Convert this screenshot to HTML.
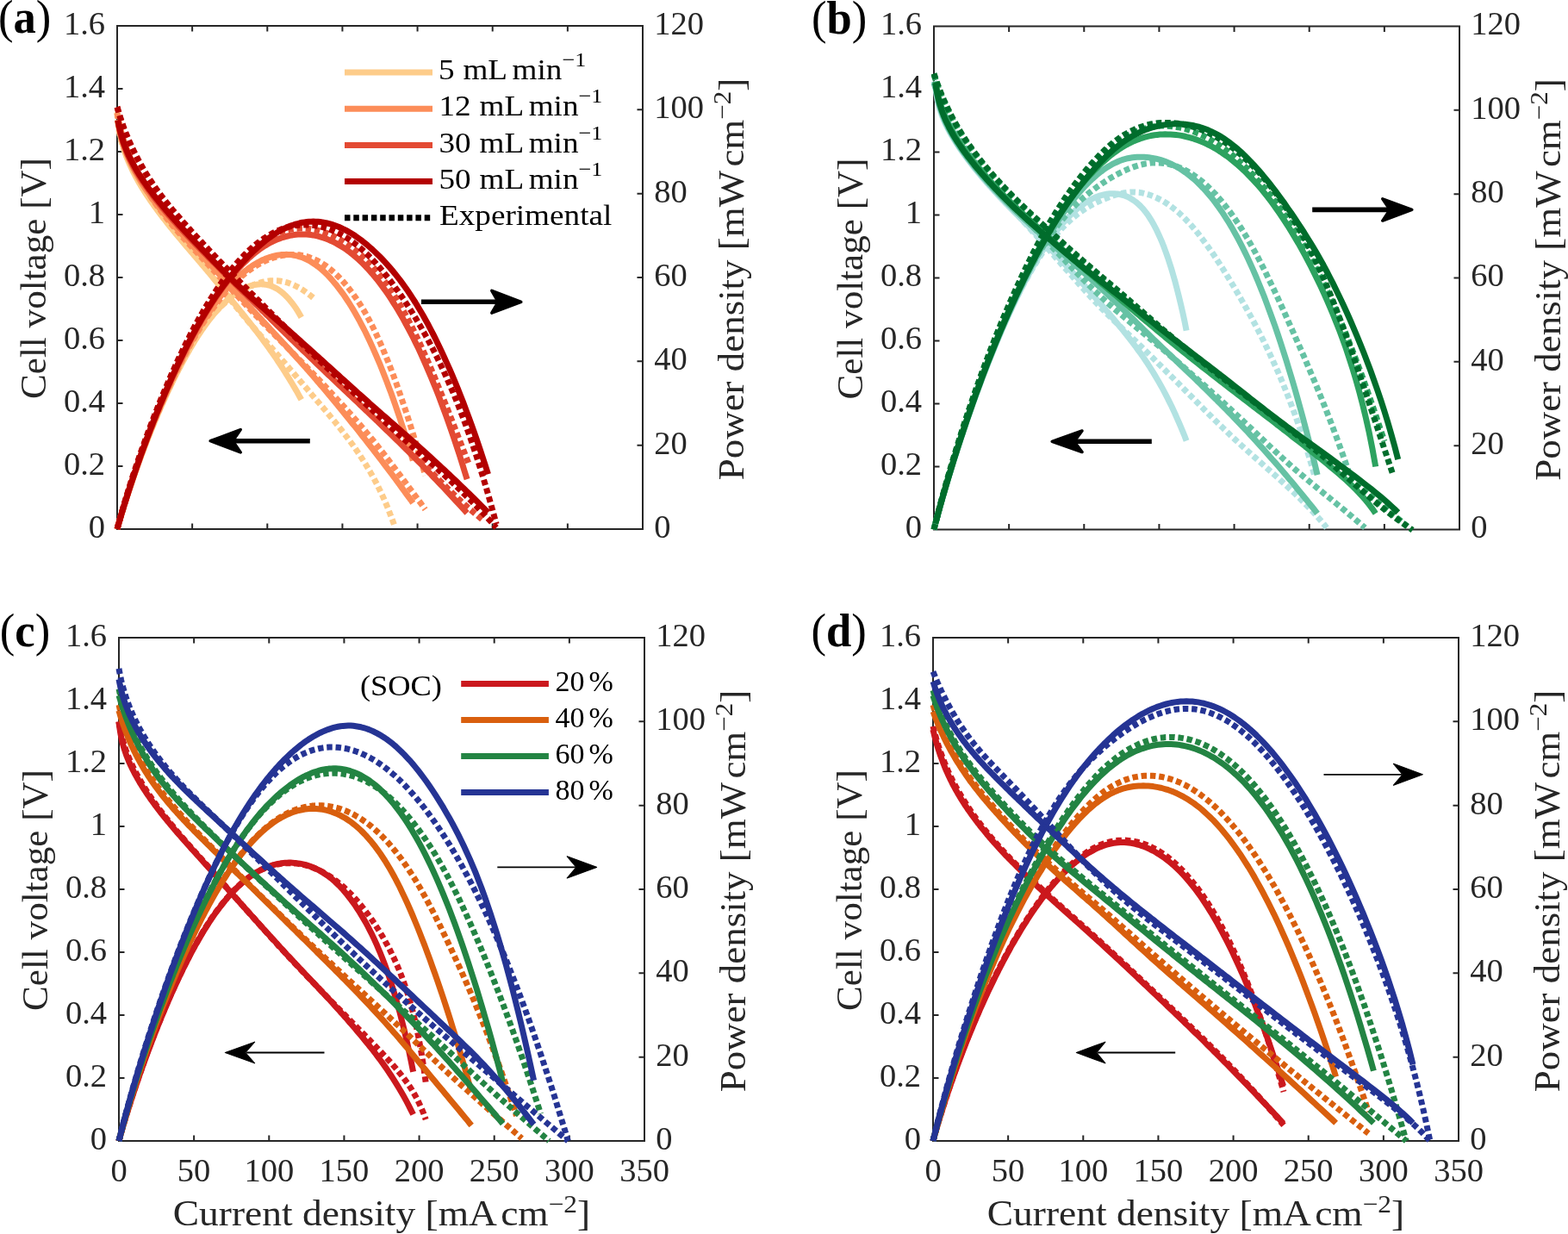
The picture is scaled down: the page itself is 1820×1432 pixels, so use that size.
<!DOCTYPE html>
<html><head><meta charset="utf-8"><title>Figure</title><style>
html,body{margin:0;padding:0;background:#fff;width:1820px;height:1432px;overflow:hidden}
svg{display:block}
text{font-family:'Liberation Serif', 'DejaVu Serif', serif;fill:#262626}
.t{font-size:38.5px}
.l{font-size:42px}
.sup{font-size:29px}
.pl{font-size:54.5px;fill:#000}
.lg{font-size:34px;fill:#000}
.lsup{font-size:24px}
</style></head>
<body>
<svg xmlns="http://www.w3.org/2000/svg" width="1820" height="1432" viewBox="0 0 1820 1432">
<rect width="1820" height="1432" fill="#fff"/>
<path d="M223.14 614V607.5M223.14 30V36.5M310.29 614V607.5M310.29 30V36.5M397.43 614V607.5M397.43 30V36.5M484.57 614V607.5M484.57 30V36.5M571.71 614V607.5M571.71 30V36.5M658.86 614V607.5M658.86 30V36.5M136 541.00H142.5M136 468.00H142.5M136 395.00H142.5M136 322.00H142.5M136 249.00H142.5M136 176.00H142.5M136 103.00H142.5M746 516.67H739.5M746 419.33H739.5M746 322.00H739.5M746 224.67H739.5M746 127.33H739.5" stroke="#262626" stroke-width="2" fill="none"/>
<rect x="136" y="30" width="610" height="584" stroke="#262626" stroke-width="2" fill="none"/>
<text x="122.0" y="623.8" text-anchor="end" class="t">0</text>
<text x="122.0" y="550.8" text-anchor="end" class="t">0.2</text>
<text x="122.0" y="477.8" text-anchor="end" class="t">0.4</text>
<text x="122.0" y="404.8" text-anchor="end" class="t">0.6</text>
<text x="122.0" y="331.8" text-anchor="end" class="t">0.8</text>
<text x="122.0" y="258.8" text-anchor="end" class="t">1</text>
<text x="122.0" y="185.8" text-anchor="end" class="t">1.2</text>
<text x="122.0" y="112.8" text-anchor="end" class="t">1.4</text>
<text x="122.0" y="39.8" text-anchor="end" class="t">1.6</text>
<text x="759.2" y="623.8" class="t">0</text>
<text x="759.2" y="526.5" class="t">20</text>
<text x="759.2" y="429.1" class="t">40</text>
<text x="759.2" y="331.8" class="t">60</text>
<text x="759.2" y="234.5" class="t">80</text>
<text x="759.2" y="137.1" class="t">100</text>
<text x="759.2" y="39.8" class="t">120</text>
<text transform="translate(52.5,323) rotate(-90) scale(1.026,1)" text-anchor="middle" class="l">Cell voltage [V]</text>
<text transform="translate(862.5,324) rotate(-90) scale(1.07,1)" text-anchor="middle" class="l">Power density [mW<tspan dx="4">cm</tspan><tspan class="sup" dy="-15">−2</tspan><tspan dy="15">]</tspan></text>
<path d="M1171.14 614.5V608.0M1171.14 30.5V37.0M1258.29 614.5V608.0M1258.29 30.5V37.0M1345.43 614.5V608.0M1345.43 30.5V37.0M1432.57 614.5V608.0M1432.57 30.5V37.0M1519.71 614.5V608.0M1519.71 30.5V37.0M1606.86 614.5V608.0M1606.86 30.5V37.0M1084 541.50H1090.5M1084 468.50H1090.5M1084 395.50H1090.5M1084 322.50H1090.5M1084 249.50H1090.5M1084 176.50H1090.5M1084 103.50H1090.5M1694 517.17H1687.5M1694 419.83H1687.5M1694 322.50H1687.5M1694 225.17H1687.5M1694 127.83H1687.5" stroke="#262626" stroke-width="2" fill="none"/>
<rect x="1084" y="30.5" width="610" height="584.0" stroke="#262626" stroke-width="2" fill="none"/>
<text x="1070.0" y="624.3" text-anchor="end" class="t">0</text>
<text x="1070.0" y="551.3" text-anchor="end" class="t">0.2</text>
<text x="1070.0" y="478.3" text-anchor="end" class="t">0.4</text>
<text x="1070.0" y="405.3" text-anchor="end" class="t">0.6</text>
<text x="1070.0" y="332.3" text-anchor="end" class="t">0.8</text>
<text x="1070.0" y="259.3" text-anchor="end" class="t">1</text>
<text x="1070.0" y="186.3" text-anchor="end" class="t">1.2</text>
<text x="1070.0" y="113.3" text-anchor="end" class="t">1.4</text>
<text x="1070.0" y="40.3" text-anchor="end" class="t">1.6</text>
<text x="1707.2" y="624.3" class="t">0</text>
<text x="1707.2" y="527.0" class="t">20</text>
<text x="1707.2" y="429.6" class="t">40</text>
<text x="1707.2" y="332.3" class="t">60</text>
<text x="1707.2" y="235.0" class="t">80</text>
<text x="1707.2" y="137.6" class="t">100</text>
<text x="1707.2" y="40.3" class="t">120</text>
<text transform="translate(1000.5,323.5) rotate(-90) scale(1.026,1)" text-anchor="middle" class="l">Cell voltage [V]</text>
<text transform="translate(1810.5,324.5) rotate(-90) scale(1.07,1)" text-anchor="middle" class="l">Power density [mW<tspan dx="4">cm</tspan><tspan class="sup" dy="-15">−2</tspan><tspan dy="15">]</tspan></text>
<path d="M225.14 1324V1317.5M225.14 740V746.5M312.29 1324V1317.5M312.29 740V746.5M399.43 1324V1317.5M399.43 740V746.5M486.57 1324V1317.5M486.57 740V746.5M573.71 1324V1317.5M573.71 740V746.5M660.86 1324V1317.5M660.86 740V746.5M138 1251.00H144.5M138 1178.00H144.5M138 1105.00H144.5M138 1032.00H144.5M138 959.00H144.5M138 886.00H144.5M138 813.00H144.5M748 1226.67H741.5M748 1129.33H741.5M748 1032.00H741.5M748 934.67H741.5M748 837.33H741.5" stroke="#262626" stroke-width="2" fill="none"/>
<rect x="138" y="740" width="610" height="584" stroke="#262626" stroke-width="2" fill="none"/>
<text x="124.0" y="1333.8" text-anchor="end" class="t">0</text>
<text x="124.0" y="1260.8" text-anchor="end" class="t">0.2</text>
<text x="124.0" y="1187.8" text-anchor="end" class="t">0.4</text>
<text x="124.0" y="1114.8" text-anchor="end" class="t">0.6</text>
<text x="124.0" y="1041.8" text-anchor="end" class="t">0.8</text>
<text x="124.0" y="968.8" text-anchor="end" class="t">1</text>
<text x="124.0" y="895.8" text-anchor="end" class="t">1.2</text>
<text x="124.0" y="822.8" text-anchor="end" class="t">1.4</text>
<text x="124.0" y="749.8" text-anchor="end" class="t">1.6</text>
<text x="761.2" y="1333.8" class="t">0</text>
<text x="761.2" y="1236.5" class="t">20</text>
<text x="761.2" y="1139.1" class="t">40</text>
<text x="761.2" y="1041.8" class="t">60</text>
<text x="761.2" y="944.5" class="t">80</text>
<text x="761.2" y="847.1" class="t">100</text>
<text x="761.2" y="749.8" class="t">120</text>
<text x="138.0" y="1370.5" text-anchor="middle" class="t">0</text>
<text x="225.1" y="1370.5" text-anchor="middle" class="t">50</text>
<text x="312.3" y="1370.5" text-anchor="middle" class="t">100</text>
<text x="399.4" y="1370.5" text-anchor="middle" class="t">150</text>
<text x="486.6" y="1370.5" text-anchor="middle" class="t">200</text>
<text x="573.7" y="1370.5" text-anchor="middle" class="t">250</text>
<text x="660.9" y="1370.5" text-anchor="middle" class="t">300</text>
<text x="748.0" y="1370.5" text-anchor="middle" class="t">350</text>
<text transform="translate(443.0,1422.0) scale(1.082,1)" text-anchor="middle" class="l">Current density [mA<tspan dx="4">cm</tspan><tspan class="sup" dy="-15">−2</tspan><tspan dy="15">]</tspan></text>
<text transform="translate(54.5,1033) rotate(-90) scale(1.026,1)" text-anchor="middle" class="l">Cell voltage [V]</text>
<text transform="translate(864.5,1034) rotate(-90) scale(1.07,1)" text-anchor="middle" class="l">Power density [mW<tspan dx="4">cm</tspan><tspan class="sup" dy="-15">−2</tspan><tspan dy="15">]</tspan></text>
<path d="M1170.14 1324V1317.5M1170.14 740V746.5M1257.29 1324V1317.5M1257.29 740V746.5M1344.43 1324V1317.5M1344.43 740V746.5M1431.57 1324V1317.5M1431.57 740V746.5M1518.71 1324V1317.5M1518.71 740V746.5M1605.86 1324V1317.5M1605.86 740V746.5M1083 1251.00H1089.5M1083 1178.00H1089.5M1083 1105.00H1089.5M1083 1032.00H1089.5M1083 959.00H1089.5M1083 886.00H1089.5M1083 813.00H1089.5M1693 1226.67H1686.5M1693 1129.33H1686.5M1693 1032.00H1686.5M1693 934.67H1686.5M1693 837.33H1686.5" stroke="#262626" stroke-width="2" fill="none"/>
<rect x="1083" y="740" width="610" height="584" stroke="#262626" stroke-width="2" fill="none"/>
<text x="1069.0" y="1333.8" text-anchor="end" class="t">0</text>
<text x="1069.0" y="1260.8" text-anchor="end" class="t">0.2</text>
<text x="1069.0" y="1187.8" text-anchor="end" class="t">0.4</text>
<text x="1069.0" y="1114.8" text-anchor="end" class="t">0.6</text>
<text x="1069.0" y="1041.8" text-anchor="end" class="t">0.8</text>
<text x="1069.0" y="968.8" text-anchor="end" class="t">1</text>
<text x="1069.0" y="895.8" text-anchor="end" class="t">1.2</text>
<text x="1069.0" y="822.8" text-anchor="end" class="t">1.4</text>
<text x="1069.0" y="749.8" text-anchor="end" class="t">1.6</text>
<text x="1706.2" y="1333.8" class="t">0</text>
<text x="1706.2" y="1236.5" class="t">20</text>
<text x="1706.2" y="1139.1" class="t">40</text>
<text x="1706.2" y="1041.8" class="t">60</text>
<text x="1706.2" y="944.5" class="t">80</text>
<text x="1706.2" y="847.1" class="t">100</text>
<text x="1706.2" y="749.8" class="t">120</text>
<text x="1083.0" y="1370.5" text-anchor="middle" class="t">0</text>
<text x="1170.1" y="1370.5" text-anchor="middle" class="t">50</text>
<text x="1257.3" y="1370.5" text-anchor="middle" class="t">100</text>
<text x="1344.4" y="1370.5" text-anchor="middle" class="t">150</text>
<text x="1431.6" y="1370.5" text-anchor="middle" class="t">200</text>
<text x="1518.7" y="1370.5" text-anchor="middle" class="t">250</text>
<text x="1605.9" y="1370.5" text-anchor="middle" class="t">300</text>
<text x="1693.0" y="1370.5" text-anchor="middle" class="t">350</text>
<text transform="translate(1388.0,1422.0) scale(1.082,1)" text-anchor="middle" class="l">Current density [mA<tspan dx="4">cm</tspan><tspan class="sup" dy="-15">−2</tspan><tspan dy="15">]</tspan></text>
<text transform="translate(999.5,1033) rotate(-90) scale(1.026,1)" text-anchor="middle" class="l">Cell voltage [V]</text>
<text transform="translate(1809.5,1034) rotate(-90) scale(1.07,1)" text-anchor="middle" class="l">Power density [mW<tspan dx="4">cm</tspan><tspan class="sup" dy="-15">−2</tspan><tspan dy="15">]</tspan></text>
<path d="M136.9 139.6 L136.9 140.3 L137.1 141.4 L137.3 142.8 L137.5 144.3 L137.7 146.0 L138.0 147.8 L138.3 149.6 L138.6 151.4 L138.9 153.3 L139.3 155.1 L139.6 156.9 L140.0 158.7 L140.4 160.5 L140.8 162.3 L141.3 164.1 L141.7 165.8 L142.2 167.5 L142.7 169.2 L143.2 170.9 L143.7 172.5 L144.2 174.1 L144.7 175.7 L145.2 177.3 L145.8 178.9 L146.4 180.4 L146.9 182.0 L147.5 183.5 L148.1 185.0 L148.7 186.5 L149.3 188.0 L150.0 189.4 L150.6 190.9 L151.3 192.3 L151.9 193.8 L152.6 195.2 L153.3 196.6 L153.9 198.0 L154.6 199.4 L155.3 200.8 L156.1 202.2 L156.8 203.6 L157.5 205.0 L158.3 206.3 L159.0 207.7 L159.8 209.1 L160.5 210.4 L161.3 211.8 L162.1 213.1 L162.9 214.5 L163.7 215.8 L164.5 217.1 L165.3 218.5 L166.1 219.8 L167.0 221.1 L167.8 222.4 L168.7 223.8 L169.5 225.1 L170.4 226.4 L171.3 227.7 L172.1 229.0 L173.0 230.3 L173.9 231.6 L174.8 233.0 L175.7 234.3 L176.6 235.6 L177.6 236.9 L178.5 238.2 L179.4 239.5 L180.4 240.8 L181.3 242.1 L182.3 243.4 L183.2 244.7 L184.2 246.0 L185.2 247.3 L186.1 248.6 L187.1 249.9 L188.1 251.2 L189.1 252.5 L190.1 253.8 L191.2 255.1 L192.2 256.4 L193.2 257.7 L194.2 259.0 L195.3 260.4 L196.3 261.7 L197.4 263.0 L198.4 264.3 L199.5 265.6 L200.6 266.9 L201.6 268.2 L202.7 269.5 L203.8 270.9 L204.9 272.2 L206.0 273.5 L207.1 274.8 L208.2 276.2 L209.4 277.5 L210.5 278.8 L211.6 280.2 L212.7 281.5 L213.9 282.9 L215.0 284.2 L216.2 285.6 L217.3 286.9 L218.5 288.3 L219.7 289.7 L220.8 291.0 L222.0 292.4 L223.2 293.8 L224.4 295.2 L225.6 296.6 L226.8 298.0 L228.0 299.4 L229.2 300.8 L230.4 302.3 L231.7 303.7 L232.9 305.1 L234.1 306.6 L235.4 308.1 L236.6 309.5 L237.9 311.0 L239.1 312.5 L240.4 314.0 L241.6 315.5 L242.9 317.0 L244.2 318.5 L245.5 320.1 L246.7 321.6 L248.0 323.2 L249.3 324.7 L250.6 326.3 L251.9 327.9 L253.2 329.4 L254.6 331.0 L255.9 332.6 L257.2 334.2 L258.5 335.8 L259.9 337.5 L261.2 339.1 L262.5 340.7 L263.9 342.4 L265.2 344.0 L266.6 345.7 L268.0 347.4 L269.3 349.0 L270.7 350.7 L272.1 352.4 L273.5 354.1 L274.9 355.8 L276.2 357.5 L277.6 359.3 L279.0 361.0 L280.5 362.7 L281.9 364.5 L283.3 366.2 L284.7 368.0 L286.1 369.8 L287.5 371.6 L289.0 373.4 L290.4 375.2 L291.9 377.0 L293.3 378.9 L294.8 380.7 L296.2 382.6 L297.7 384.5 L299.1 386.4 L300.6 388.4 L302.1 390.3 L303.6 392.3 L305.0 394.3 L306.5 396.3 L308.0 398.3 L309.5 400.4 L311.0 402.4 L312.5 404.5 L314.0 406.7 L315.5 408.8 L317.0 411.0 L318.6 413.2 L320.1 415.4 L321.6 417.7 L323.1 420.0 L324.7 422.3 L326.2 424.6 L327.8 427.0 L329.3 429.4 L330.9 431.9 L332.4 434.3 L334.0 436.8 L335.6 439.4 L337.1 441.9 L338.7 444.5 L340.3 447.2 L341.9 449.9 L343.5 452.6 L345.1 455.3 L346.6 458.1 L348.2 461.0 L349.8 463.8" stroke="#fdcc8a" stroke-width="7" fill="none" stroke-linejoin="round"/>
<path d="M136.9 610.8 L136.9 610.6 L137.1 610.1 L137.3 609.4 L137.5 608.7 L137.7 607.8 L138.0 606.9 L138.3 605.9 L138.6 604.8 L138.9 603.7 L139.3 602.5 L139.6 601.3 L140.0 600.0 L140.4 598.6 L140.8 597.3 L141.3 595.8 L141.7 594.4 L142.2 592.9 L142.7 591.3 L143.2 589.7 L143.7 588.1 L144.2 586.5 L144.7 584.8 L145.2 583.1 L145.8 581.4 L146.4 579.7 L146.9 577.9 L147.5 576.1 L148.1 574.2 L148.7 572.4 L149.3 570.5 L150.0 568.6 L150.6 566.7 L151.3 564.8 L151.9 562.8 L152.6 560.9 L153.3 558.9 L153.9 556.9 L154.6 554.9 L155.3 552.8 L156.1 550.8 L156.8 548.7 L157.5 546.7 L158.3 544.6 L159.0 542.5 L159.8 540.4 L160.5 538.2 L161.3 536.1 L162.1 533.9 L162.9 531.8 L163.7 529.6 L164.5 527.5 L165.3 525.3 L166.1 523.1 L167.0 520.9 L167.8 518.7 L168.7 516.5 L169.5 514.3 L170.4 512.0 L171.3 509.8 L172.1 507.6 L173.0 505.4 L173.9 503.1 L174.8 500.9 L175.7 498.6 L176.6 496.4 L177.6 494.1 L178.5 491.9 L179.4 489.6 L180.4 487.4 L181.3 485.1 L182.3 482.8 L183.2 480.6 L184.2 478.3 L185.2 476.1 L186.1 473.8 L187.1 471.6 L188.1 469.3 L189.1 467.1 L190.1 464.8 L191.2 462.6 L192.2 460.3 L193.2 458.1 L194.2 455.9 L195.3 453.6 L196.3 451.4 L197.4 449.2 L198.4 447.0 L199.5 444.7 L200.6 442.5 L201.6 440.3 L202.7 438.2 L203.8 436.0 L204.9 433.8 L206.0 431.6 L207.1 429.5 L208.2 427.3 L209.4 425.2 L210.5 423.0 L211.6 420.9 L212.7 418.8 L213.9 416.7 L215.0 414.6 L216.2 412.5 L217.3 410.5 L218.5 408.4 L219.7 406.4 L220.8 404.4 L222.0 402.4 L223.2 400.4 L224.4 398.4 L225.6 396.4 L226.8 394.5 L228.0 392.6 L229.2 390.7 L230.4 388.8 L231.7 386.9 L232.9 385.1 L234.1 383.3 L235.4 381.5 L236.6 379.7 L237.9 377.9 L239.1 376.2 L240.4 374.5 L241.6 372.8 L242.9 371.1 L244.2 369.5 L245.5 367.9 L246.7 366.3 L248.0 364.7 L249.3 363.2 L250.6 361.7 L251.9 360.2 L253.2 358.8 L254.6 357.3 L255.9 356.0 L257.2 354.6 L258.5 353.3 L259.9 352.0 L261.2 350.7 L262.5 349.4 L263.9 348.2 L265.2 347.1 L266.6 345.9 L268.0 344.8 L269.3 343.7 L270.7 342.7 L272.1 341.7 L273.5 340.7 L274.9 339.7 L276.2 338.8 L277.6 338.0 L279.0 337.1 L280.5 336.3 L281.9 335.6 L283.3 334.8 L284.7 334.2 L286.1 333.5 L287.5 332.9 L289.0 332.4 L290.4 331.9 L291.9 331.5 L293.3 331.1 L294.8 330.7 L296.2 330.4 L297.7 330.2 L299.1 330.0 L300.6 329.9 L302.1 329.8 L303.6 329.8 L305.0 329.9 L306.5 330.0 L308.0 330.2 L309.5 330.4 L311.0 330.8 L312.5 331.2 L314.0 331.6 L315.5 332.2 L317.0 332.8 L318.6 333.6 L320.1 334.4 L321.6 335.2 L323.1 336.2 L324.7 337.3 L326.2 338.4 L327.8 339.7 L329.3 341.0 L330.9 342.5 L332.4 344.0 L334.0 345.6 L335.6 347.4 L337.1 349.3 L338.7 351.2 L340.3 353.3 L341.9 355.5 L343.5 357.8 L345.1 360.2 L346.6 362.8 L348.2 365.5 L349.8 368.3" stroke="#fdcc8a" stroke-width="7" fill="none" stroke-linejoin="round"/>
<path d="M136.0 130.4 L136.1 132.5 L136.3 135.7 L136.6 139.2 L136.9 142.5 L137.3 145.7 L137.7 148.7 L138.1 151.6 L138.6 154.2 L139.1 156.8 L139.6 159.2 L140.2 161.5 L140.8 163.8 L141.4 165.9 L142.0 168.0 L142.7 170.1 L143.3 172.1 L144.0 174.0 L144.8 176.0 L145.5 177.9 L146.3 179.7 L147.0 181.6 L147.8 183.4 L148.7 185.2 L149.5 187.0 L150.3 188.7 L151.2 190.5 L152.1 192.2 L153.0 194.0 L153.9 195.7 L154.9 197.4 L155.8 199.2 L156.8 200.9 L157.7 202.6 L158.7 204.3 L159.8 206.0 L160.8 207.7 L161.8 209.4 L162.9 211.1 L163.9 212.8 L165.0 214.5 L166.1 216.2 L167.2 217.9 L168.4 219.6 L169.5 221.3 L170.6 223.0 L171.8 224.7 L173.0 226.4 L174.2 228.0 L175.4 229.7 L176.6 231.4 L177.8 233.1 L179.0 234.8 L180.3 236.5 L181.5 238.2 L182.8 239.9 L184.1 241.6 L185.4 243.3 L186.7 245.0 L188.0 246.7 L189.3 248.4 L190.7 250.2 L192.0 251.9 L193.4 253.6 L194.7 255.3 L196.1 257.1 L197.5 258.8 L198.9 260.6 L200.3 262.3 L201.8 264.1 L203.2 265.9 L204.6 267.6 L206.1 269.4 L207.6 271.3 L209.0 273.1 L210.5 274.9 L212.0 276.8 L213.5 278.6 L215.0 280.5 L216.6 282.4 L218.1 284.3 L219.6 286.2 L221.2 288.2 L222.8 290.1 L224.3 292.1 L225.9 294.1 L227.5 296.1 L229.1 298.1 L230.7 300.2 L232.3 302.2 L234.0 304.3 L235.6 306.4 L237.2 308.5 L238.9 310.7 L240.6 312.8 L242.2 315.0 L243.9 317.2 L245.6 319.4 L247.3 321.7 L249.0 323.9 L250.7 326.1 L252.5 328.4 L254.2 330.7 L255.9 332.9 L257.7 335.2 L259.4 337.5 L261.2 339.8 L263.0 342.1 L264.8 344.4 L266.6 346.7 L268.4 349.0 L270.2 351.2 L272.0 353.5 L273.8 355.8 L275.7 358.0 L277.5 360.3 L279.3 362.5 L281.2 364.7 L283.1 367.0 L284.9 369.2 L286.8 371.4 L288.7 373.6 L290.6 375.8 L292.5 378.0 L294.4 380.2 L296.3 382.4 L298.3 384.6 L300.2 386.8 L302.1 389.0 L304.1 391.2 L306.1 393.4 L308.0 395.6 L310.0 397.8 L312.0 400.1 L314.0 402.3 L316.0 404.6 L318.0 406.9 L320.0 409.2 L322.0 411.5 L324.0 413.8 L326.1 416.1 L328.1 418.5 L330.1 420.8 L332.2 423.2 L334.3 425.6 L336.3 428.0 L338.4 430.4 L340.5 432.8 L342.6 435.3 L344.7 437.7 L346.8 440.2 L348.9 442.7 L351.0 445.1 L353.1 447.6 L355.3 450.1 L357.4 452.6 L359.5 455.1 L361.7 457.7 L363.9 460.2 L366.0 462.7 L368.2 465.3 L370.4 467.8 L372.6 470.4 L374.8 472.9 L377.0 475.5 L379.2 478.1 L381.4 480.8 L383.6 483.4 L385.8 486.1 L388.1 488.8 L390.3 491.5 L392.6 494.3 L394.8 497.1 L397.1 500.0 L399.3 502.9 L401.6 505.8 L403.9 508.8 L406.2 511.9 L408.5 515.0 L410.8 518.2 L413.1 521.5 L415.4 524.9 L417.7 528.3 L420.0 531.9 L422.4 535.5 L424.7 539.2 L427.0 543.1 L429.4 547.1 L431.7 551.2 L434.1 555.5 L436.5 560.0 L438.9 564.6 L441.2 569.4 L443.6 574.5 L446.0 579.8 L448.4 585.4 L450.8 591.2 L453.2 597.4 L455.7 603.9 L458.1 610.8" stroke="#fdcc8a" stroke-width="7" fill="none" stroke-linejoin="round" stroke-dasharray="6.5 3.8"/>
<path d="M136.0 614.0 L136.1 613.6 L136.3 612.8 L136.6 611.8 L136.9 610.7 L137.3 609.4 L137.7 608.0 L138.1 606.5 L138.6 604.9 L139.1 603.2 L139.6 601.4 L140.2 599.5 L140.8 597.6 L141.4 595.6 L142.0 593.5 L142.7 591.4 L143.3 589.2 L144.0 586.9 L144.8 584.6 L145.5 582.3 L146.3 579.9 L147.0 577.5 L147.8 575.0 L148.7 572.5 L149.5 569.9 L150.3 567.3 L151.2 564.7 L152.1 562.1 L153.0 559.4 L153.9 556.7 L154.9 553.9 L155.8 551.2 L156.8 548.4 L157.7 545.5 L158.7 542.7 L159.8 539.8 L160.8 537.0 L161.8 534.1 L162.9 531.2 L163.9 528.2 L165.0 525.3 L166.1 522.3 L167.2 519.4 L168.4 516.4 L169.5 513.4 L170.6 510.4 L171.8 507.4 L173.0 504.4 L174.2 501.3 L175.4 498.3 L176.6 495.3 L177.8 492.2 L179.0 489.2 L180.3 486.2 L181.5 483.1 L182.8 480.1 L184.1 477.0 L185.4 474.0 L186.7 470.9 L188.0 467.9 L189.3 464.9 L190.7 461.9 L192.0 458.8 L193.4 455.8 L194.7 452.8 L196.1 449.8 L197.5 446.8 L198.9 443.9 L200.3 440.9 L201.8 438.0 L203.2 435.0 L204.6 432.1 L206.1 429.2 L207.6 426.4 L209.0 423.5 L210.5 420.7 L212.0 417.9 L213.5 415.1 L215.0 412.3 L216.6 409.6 L218.1 406.9 L219.6 404.3 L221.2 401.6 L222.8 399.0 L224.3 396.5 L225.9 393.9 L227.5 391.4 L229.1 389.0 L230.7 386.6 L232.3 384.2 L234.0 381.9 L235.6 379.6 L237.2 377.4 L238.9 375.2 L240.6 373.1 L242.2 371.0 L243.9 369.0 L245.6 367.0 L247.3 365.1 L249.0 363.2 L250.7 361.3 L252.5 359.6 L254.2 357.8 L255.9 356.1 L257.7 354.5 L259.4 352.9 L261.2 351.3 L263.0 349.8 L264.8 348.4 L266.6 347.0 L268.4 345.6 L270.2 344.3 L272.0 343.0 L273.8 341.7 L275.7 340.5 L277.5 339.4 L279.3 338.2 L281.2 337.1 L283.1 336.1 L284.9 335.0 L286.8 334.1 L288.7 333.1 L290.6 332.2 L292.5 331.4 L294.4 330.6 L296.3 329.9 L298.3 329.2 L300.2 328.5 L302.1 328.0 L304.1 327.4 L306.1 327.0 L308.0 326.6 L310.0 326.3 L312.0 326.0 L314.0 325.8 L316.0 325.7 L318.0 325.7 L320.0 325.7 L322.0 325.8 L324.0 326.0 L326.1 326.3 L328.1 326.7 L330.1 327.1 L332.2 327.6 L334.3 328.2 L336.3 328.9 L338.4 329.7 L340.5 330.6 L342.6 331.6 L344.7 332.6 L346.8 333.7 L348.9 334.9 L351.0 336.2 L353.1 337.6 L355.3 339.1 L357.4 340.7 L359.5 342.3 L361.7 344.0 L363.9 345.9 L365.5 347.3" stroke="#fdcc8a" stroke-width="7" fill="none" stroke-linejoin="round" stroke-dasharray="6.5 3.8"/>
<path d="M136.9 140.0 L137.0 140.8 L137.2 142.1 L137.5 143.8 L137.8 145.7 L138.2 147.7 L138.7 149.9 L139.1 152.0 L139.6 154.3 L140.2 156.5 L140.7 158.8 L141.3 161.0 L141.9 163.2 L142.6 165.4 L143.3 167.6 L144.0 169.8 L144.7 171.9 L145.4 174.0 L146.2 176.1 L147.0 178.2 L147.8 180.2 L148.6 182.2 L149.5 184.2 L150.3 186.2 L151.2 188.1 L152.1 190.1 L153.0 192.0 L154.0 193.9 L154.9 195.8 L155.9 197.6 L156.9 199.5 L157.9 201.3 L159.0 203.1 L160.0 205.0 L161.1 206.8 L162.1 208.6 L163.2 210.3 L164.3 212.1 L165.4 213.9 L166.6 215.7 L167.7 217.4 L168.9 219.2 L170.1 220.9 L171.3 222.6 L172.5 224.4 L173.7 226.1 L174.9 227.8 L176.2 229.6 L177.4 231.3 L178.7 233.0 L180.0 234.7 L181.3 236.4 L182.6 238.1 L183.9 239.8 L185.3 241.5 L186.6 243.2 L188.0 244.9 L189.4 246.6 L190.8 248.3 L192.2 250.0 L193.6 251.7 L195.0 253.4 L196.4 255.1 L197.9 256.8 L199.3 258.5 L200.8 260.2 L202.3 261.9 L203.8 263.6 L205.3 265.3 L206.8 267.0 L208.3 268.7 L209.9 270.4 L211.4 272.1 L213.0 273.8 L214.5 275.5 L216.1 277.2 L217.7 278.9 L219.3 280.7 L220.9 282.4 L222.5 284.2 L224.2 285.9 L225.8 287.7 L227.5 289.4 L229.1 291.2 L230.8 293.0 L232.5 294.8 L234.2 296.6 L235.9 298.4 L237.6 300.2 L239.3 302.0 L241.0 303.9 L242.8 305.7 L244.5 307.6 L246.3 309.5 L248.1 311.4 L249.8 313.3 L251.6 315.2 L253.4 317.1 L255.2 319.0 L257.0 321.0 L258.9 322.9 L260.7 324.9 L262.5 326.8 L264.4 328.8 L266.3 330.8 L268.1 332.8 L270.0 334.8 L271.9 336.9 L273.8 338.9 L275.7 340.9 L277.6 343.0 L279.5 345.1 L281.5 347.1 L283.4 349.2 L285.4 351.3 L287.3 353.4 L289.3 355.5 L291.3 357.7 L293.2 359.8 L295.2 361.9 L297.2 364.1 L299.2 366.3 L301.3 368.4 L303.3 370.6 L305.3 372.8 L307.4 375.0 L309.4 377.2 L311.5 379.4 L313.5 381.6 L315.6 383.8 L317.7 386.1 L319.8 388.3 L321.9 390.6 L324.0 392.8 L326.1 395.1 L328.2 397.4 L330.4 399.7 L332.5 402.0 L334.6 404.4 L336.8 406.7 L339.0 409.1 L341.1 411.5 L343.3 413.9 L345.5 416.3 L347.7 418.7 L349.9 421.2 L352.1 423.7 L354.3 426.1 L356.5 428.7 L358.8 431.2 L361.0 433.8 L363.2 436.3 L365.5 438.9 L367.7 441.6 L370.0 444.2 L372.3 446.9 L374.6 449.6 L376.9 452.3 L379.2 455.0 L381.5 457.8 L383.8 460.5 L386.1 463.3 L388.4 466.1 L390.8 468.9 L393.1 471.8 L395.4 474.6 L397.8 477.5 L400.2 480.4 L402.5 483.3 L404.9 486.2 L407.3 489.2 L409.7 492.2 L412.1 495.1 L414.5 498.1 L416.9 501.2 L419.3 504.2 L421.7 507.3 L424.2 510.4 L426.6 513.5 L429.0 516.6 L431.5 519.7 L433.9 522.9 L436.4 526.1 L438.9 529.3 L441.4 532.5 L443.8 535.8 L446.3 539.1 L448.8 542.4 L451.3 545.7 L453.9 549.0 L456.4 552.4 L458.9 555.8 L461.4 559.2 L464.0 562.6 L466.5 566.1 L469.1 569.6 L471.6 573.1 L474.2 576.6 L476.8 580.1 L479.3 583.7" stroke="#fc8d59" stroke-width="7" fill="none" stroke-linejoin="round"/>
<path d="M136.9 610.8 L137.0 610.4 L137.2 609.6 L137.5 608.6 L137.8 607.4 L138.2 606.0 L138.7 604.5 L139.1 602.9 L139.6 601.2 L140.2 599.4 L140.7 597.5 L141.3 595.6 L141.9 593.5 L142.6 591.4 L143.3 589.2 L144.0 587.0 L144.7 584.6 L145.4 582.3 L146.2 579.9 L147.0 577.4 L147.8 574.9 L148.6 572.3 L149.5 569.7 L150.3 567.1 L151.2 564.4 L152.1 561.7 L153.0 559.0 L154.0 556.2 L154.9 553.4 L155.9 550.5 L156.9 547.7 L157.9 544.8 L159.0 541.8 L160.0 538.9 L161.1 535.9 L162.1 532.9 L163.2 529.9 L164.3 526.9 L165.4 523.9 L166.6 520.8 L167.7 517.7 L168.9 514.6 L170.1 511.5 L171.3 508.4 L172.5 505.3 L173.7 502.1 L174.9 499.0 L176.2 495.8 L177.4 492.7 L178.7 489.5 L180.0 486.3 L181.3 483.1 L182.6 479.9 L183.9 476.8 L185.3 473.6 L186.6 470.4 L188.0 467.2 L189.4 464.0 L190.8 460.8 L192.2 457.6 L193.6 454.4 L195.0 451.3 L196.4 448.1 L197.9 444.9 L199.3 441.7 L200.8 438.6 L202.3 435.4 L203.8 432.3 L205.3 429.2 L206.8 426.0 L208.3 422.9 L209.9 419.8 L211.4 416.8 L213.0 413.7 L214.5 410.6 L216.1 407.6 L217.7 404.6 L219.3 401.6 L220.9 398.6 L222.5 395.6 L224.2 392.7 L225.8 389.8 L227.5 386.9 L229.1 384.0 L230.8 381.2 L232.5 378.4 L234.2 375.6 L235.9 372.9 L237.6 370.1 L239.3 367.5 L241.0 364.8 L242.8 362.2 L244.5 359.6 L246.3 357.1 L248.1 354.6 L249.8 352.1 L251.6 349.7 L253.4 347.3 L255.2 344.9 L257.0 342.6 L258.9 340.4 L260.7 338.2 L262.5 336.0 L264.4 333.9 L266.3 331.8 L268.1 329.8 L270.0 327.8 L271.9 325.9 L273.8 324.0 L275.7 322.2 L277.6 320.4 L279.5 318.7 L281.5 317.0 L283.4 315.4 L285.4 313.9 L287.3 312.4 L289.3 310.9 L291.3 309.5 L293.2 308.2 L295.2 306.9 L297.2 305.7 L299.2 304.6 L301.3 303.5 L303.3 302.5 L305.3 301.5 L307.4 300.6 L309.4 299.8 L311.5 299.1 L313.5 298.4 L315.6 297.7 L317.7 297.2 L319.8 296.7 L321.9 296.2 L324.0 295.9 L326.1 295.6 L328.2 295.5 L330.4 295.4 L332.5 295.3 L334.6 295.4 L336.8 295.6 L339.0 295.8 L341.1 296.2 L343.3 296.6 L345.5 297.1 L347.7 297.8 L349.9 298.5 L352.1 299.3 L354.3 300.3 L356.5 301.3 L358.8 302.5 L361.0 303.8 L363.2 305.2 L365.5 306.7 L367.7 308.3 L370.0 310.0 L372.3 311.9 L374.6 313.9 L376.9 316.0 L379.2 318.2 L381.5 320.6 L383.8 323.1 L386.1 325.7 L388.4 328.4 L390.8 331.3 L393.1 334.3 L395.4 337.4 L397.8 340.6 L400.2 344.0 L402.5 347.5 L404.9 351.2 L407.3 355.0 L409.7 358.9 L412.1 363.0 L414.5 367.2 L416.9 371.5 L419.3 376.1 L421.7 380.7 L424.2 385.5 L426.6 390.5 L429.0 395.6 L431.5 400.9 L433.9 406.4 L436.4 412.0 L438.9 417.8 L441.4 423.7 L443.8 429.8 L446.3 436.1 L448.8 442.5 L451.3 449.2 L453.9 456.0 L456.4 463.0 L458.9 470.2 L461.4 477.5 L464.0 485.1 L466.5 492.8 L469.1 500.7 L471.6 508.9 L474.2 517.2 L476.8 525.7 L479.3 534.5" stroke="#fc8d59" stroke-width="7" fill="none" stroke-linejoin="round"/>
<path d="M136.0 131.3 L136.1 132.0 L136.4 133.3 L136.7 134.8 L137.0 136.6 L137.4 138.6 L137.9 140.7 L138.4 142.9 L138.9 145.2 L139.4 147.5 L140.0 149.9 L140.6 152.2 L141.3 154.7 L142.0 157.1 L142.7 159.5 L143.4 161.9 L144.2 164.3 L144.9 166.7 L145.7 169.1 L146.6 171.5 L147.4 173.8 L148.3 176.1 L149.1 178.5 L150.1 180.8 L151.0 183.1 L151.9 185.3 L152.9 187.6 L153.9 189.8 L154.9 192.0 L155.9 194.2 L156.9 196.4 L158.0 198.6 L159.1 200.7 L160.2 202.9 L161.3 205.0 L162.4 207.1 L163.5 209.2 L164.7 211.3 L165.8 213.3 L167.0 215.4 L168.2 217.4 L169.4 219.4 L170.7 221.4 L171.9 223.4 L173.2 225.4 L174.5 227.3 L175.7 229.3 L177.0 231.2 L178.4 233.2 L179.7 235.1 L181.0 237.0 L182.4 238.9 L183.8 240.8 L185.2 242.6 L186.6 244.5 L188.0 246.4 L189.4 248.2 L190.8 250.0 L192.3 251.9 L193.7 253.7 L195.2 255.5 L196.7 257.3 L198.2 259.1 L199.7 260.9 L201.2 262.7 L202.8 264.5 L204.3 266.3 L205.9 268.1 L207.4 269.9 L209.0 271.7 L210.6 273.5 L212.2 275.3 L213.8 277.1 L215.5 278.9 L217.1 280.7 L218.7 282.5 L220.4 284.3 L222.1 286.1 L223.8 287.9 L225.5 289.7 L227.2 291.5 L228.9 293.4 L230.6 295.2 L232.3 297.1 L234.1 299.0 L235.8 300.8 L237.6 302.7 L239.4 304.6 L241.2 306.5 L243.0 308.5 L244.8 310.4 L246.6 312.3 L248.4 314.3 L250.3 316.3 L252.1 318.3 L254.0 320.2 L255.8 322.2 L257.7 324.3 L259.6 326.3 L261.5 328.3 L263.4 330.4 L265.3 332.4 L267.2 334.5 L269.2 336.5 L271.1 338.6 L273.1 340.7 L275.0 342.8 L277.0 344.9 L279.0 347.0 L281.0 349.1 L283.0 351.2 L285.0 353.4 L287.0 355.5 L289.0 357.7 L291.1 359.8 L293.1 362.0 L295.2 364.1 L297.2 366.3 L299.3 368.4 L301.4 370.6 L303.5 372.8 L305.6 375.0 L307.7 377.1 L309.8 379.3 L311.9 381.5 L314.0 383.7 L316.2 385.8 L318.3 388.0 L320.5 390.2 L322.7 392.4 L324.8 394.6 L327.0 396.8 L329.2 399.0 L331.4 401.2 L333.6 403.4 L335.8 405.7 L338.1 407.9 L340.3 410.1 L342.5 412.4 L344.8 414.7 L347.0 416.9 L349.3 419.2 L351.6 421.5 L353.9 423.8 L356.1 426.2 L358.4 428.5 L360.7 430.9 L363.1 433.3 L365.4 435.7 L367.7 438.1 L370.0 440.5 L372.4 443.0 L374.7 445.5 L377.1 448.0 L379.5 450.5 L381.8 453.0 L384.2 455.6 L386.6 458.1 L389.0 460.7 L391.4 463.3 L393.8 466.0 L396.3 468.6 L398.7 471.3 L401.1 474.0 L403.6 476.7 L406.0 479.5 L408.5 482.2 L410.9 485.0 L413.4 487.8 L415.9 490.7 L418.4 493.5 L420.9 496.5 L423.4 499.4 L425.9 502.4 L428.4 505.4 L430.9 508.5 L433.5 511.6 L436.0 514.7 L438.5 517.9 L441.1 521.2 L443.7 524.4 L446.2 527.7 L448.8 531.1 L451.4 534.4 L454.0 537.8 L456.6 541.3 L459.2 544.7 L461.8 548.2 L464.4 551.7 L467.0 555.2 L469.6 558.7 L472.3 562.3 L474.9 565.8 L477.6 569.4 L480.2 573.0 L482.9 576.6 L485.6 580.2 L488.3 583.8 L490.9 587.5 L493.6 591.2" stroke="#fc8d59" stroke-width="7" fill="none" stroke-linejoin="round" stroke-dasharray="6.5 3.8"/>
<path d="M136.0 614.0 L136.1 613.5 L136.4 612.7 L136.7 611.6 L137.0 610.3 L137.4 608.8 L137.9 607.2 L138.4 605.5 L138.9 603.7 L139.4 601.7 L140.0 599.7 L140.6 597.6 L141.3 595.4 L142.0 593.1 L142.7 590.8 L143.4 588.4 L144.2 585.9 L144.9 583.4 L145.7 580.9 L146.6 578.3 L147.4 575.6 L148.3 572.9 L149.1 570.2 L150.1 567.4 L151.0 564.6 L151.9 561.8 L152.9 558.9 L153.9 556.0 L154.9 553.1 L155.9 550.1 L156.9 547.1 L158.0 544.1 L159.1 541.1 L160.2 538.0 L161.3 535.0 L162.4 531.9 L163.5 528.8 L164.7 525.7 L165.8 522.5 L167.0 519.4 L168.2 516.2 L169.4 513.0 L170.7 509.9 L171.9 506.7 L173.2 503.5 L174.5 500.2 L175.7 497.0 L177.0 493.8 L178.4 490.6 L179.7 487.3 L181.0 484.1 L182.4 480.8 L183.8 477.6 L185.2 474.3 L186.6 471.1 L188.0 467.8 L189.4 464.6 L190.8 461.3 L192.3 458.1 L193.7 454.9 L195.2 451.6 L196.7 448.4 L198.2 445.2 L199.7 441.9 L201.2 438.7 L202.8 435.5 L204.3 432.3 L205.9 429.1 L207.4 425.9 L209.0 422.8 L210.6 419.6 L212.2 416.5 L213.8 413.4 L215.5 410.3 L217.1 407.2 L218.7 404.1 L220.4 401.1 L222.1 398.1 L223.8 395.1 L225.5 392.1 L227.2 389.1 L228.9 386.2 L230.6 383.3 L232.3 380.4 L234.1 377.6 L235.8 374.8 L237.6 372.0 L239.4 369.3 L241.2 366.6 L243.0 364.0 L244.8 361.4 L246.6 358.8 L248.4 356.3 L250.3 353.8 L252.1 351.3 L254.0 348.9 L255.8 346.5 L257.7 344.2 L259.6 342.0 L261.5 339.7 L263.4 337.6 L265.3 335.4 L267.2 333.3 L269.2 331.3 L271.1 329.3 L273.1 327.4 L275.0 325.5 L277.0 323.7 L279.0 321.9 L281.0 320.2 L283.0 318.6 L285.0 317.0 L287.0 315.4 L289.0 313.9 L291.1 312.5 L293.1 311.1 L295.2 309.7 L297.2 308.5 L299.3 307.2 L301.4 306.1 L303.5 305.0 L305.6 303.9 L307.7 302.9 L309.8 302.0 L311.9 301.1 L314.0 300.3 L316.2 299.5 L318.3 298.8 L320.5 298.2 L322.7 297.6 L324.8 297.1 L327.0 296.6 L329.2 296.2 L331.4 295.9 L333.6 295.7 L335.8 295.5 L338.1 295.4 L340.3 295.4 L342.5 295.5 L344.8 295.6 L347.0 295.8 L349.3 296.2 L351.6 296.6 L353.9 297.1 L356.1 297.7 L358.4 298.4 L360.7 299.2 L363.1 300.1 L365.4 301.1 L367.7 302.2 L370.0 303.4 L372.4 304.7 L374.7 306.2 L377.1 307.7 L379.5 309.4 L381.8 311.2 L384.2 313.1 L386.6 315.2 L389.0 317.3 L391.4 319.6 L393.8 322.0 L396.3 324.6 L398.7 327.2 L401.1 330.1 L403.6 333.0 L406.0 336.1 L408.5 339.3 L410.9 342.7 L413.4 346.2 L415.9 349.9 L418.4 353.8 L420.9 357.8 L423.4 362.1 L425.9 366.5 L428.4 371.1 L430.9 375.9 L433.5 381.0 L436.0 386.2 L438.5 391.7 L441.1 397.3 L443.7 403.2 L446.2 409.3 L448.8 415.6 L451.4 422.0 L454.0 428.7 L456.6 435.6 L459.2 442.7 L461.8 450.0 L464.4 457.4 L467.0 465.1 L469.6 472.9 L472.3 480.9 L474.9 489.1 L477.6 497.5 L480.2 506.0 L482.9 514.7 L485.6 523.6 L488.3 532.7 L490.9 542.1 L493.6 551.7" stroke="#fc8d59" stroke-width="7" fill="none" stroke-linejoin="round" stroke-dasharray="6.5 3.8"/>
<path d="M136.9 139.3 L137.0 140.3 L137.3 142.1 L137.6 144.2 L138.0 146.5 L138.5 148.9 L139.0 151.4 L139.5 153.8 L140.1 156.3 L140.8 158.7 L141.4 161.1 L142.1 163.5 L142.9 165.8 L143.6 168.1 L144.4 170.3 L145.3 172.5 L146.1 174.7 L147.0 176.9 L147.9 179.0 L148.8 181.1 L149.8 183.2 L150.8 185.2 L151.8 187.2 L152.8 189.2 L153.8 191.2 L154.9 193.2 L156.0 195.2 L157.1 197.1 L158.3 199.1 L159.4 201.0 L160.6 202.9 L161.8 204.9 L163.0 206.8 L164.2 208.7 L165.5 210.6 L166.8 212.4 L168.1 214.3 L169.4 216.2 L170.7 218.1 L172.0 220.0 L173.4 221.8 L174.8 223.7 L176.2 225.6 L177.6 227.4 L179.0 229.3 L180.4 231.1 L181.9 233.0 L183.4 234.8 L184.9 236.7 L186.4 238.5 L187.9 240.4 L189.4 242.2 L191.0 244.1 L192.6 245.9 L194.2 247.8 L195.7 249.6 L197.4 251.5 L199.0 253.3 L200.6 255.2 L202.3 257.0 L204.0 258.9 L205.6 260.7 L207.3 262.6 L209.1 264.5 L210.8 266.3 L212.5 268.2 L214.3 270.1 L216.0 271.9 L217.8 273.8 L219.6 275.7 L221.4 277.6 L223.2 279.5 L225.1 281.4 L226.9 283.3 L228.8 285.2 L230.6 287.1 L232.5 289.0 L234.4 290.9 L236.3 292.9 L238.2 294.8 L240.2 296.8 L242.1 298.7 L244.1 300.7 L246.0 302.7 L248.0 304.6 L250.0 306.6 L252.0 308.6 L254.0 310.6 L256.0 312.7 L258.1 314.7 L260.1 316.7 L262.2 318.8 L264.2 320.8 L266.3 322.9 L268.4 324.9 L270.5 327.0 L272.6 329.1 L274.8 331.2 L276.9 333.3 L279.1 335.4 L281.2 337.6 L283.4 339.7 L285.6 341.8 L287.8 344.0 L290.0 346.2 L292.2 348.3 L294.4 350.5 L296.6 352.7 L298.9 354.9 L301.1 357.1 L303.4 359.4 L305.7 361.6 L308.0 363.9 L310.3 366.1 L312.6 368.4 L314.9 370.7 L317.2 373.0 L319.5 375.3 L321.9 377.6 L324.3 379.9 L326.6 382.2 L329.0 384.6 L331.4 386.9 L333.8 389.3 L336.2 391.6 L338.6 394.0 L341.0 396.3 L343.5 398.7 L345.9 401.1 L348.4 403.5 L350.8 405.9 L353.3 408.2 L355.8 410.6 L358.3 413.0 L360.8 415.4 L363.3 417.8 L365.8 420.3 L368.3 422.7 L370.9 425.1 L373.4 427.5 L376.0 430.0 L378.5 432.4 L381.1 434.9 L383.7 437.3 L386.3 439.8 L388.9 442.2 L391.5 444.7 L394.1 447.2 L396.8 449.7 L399.4 452.2 L402.1 454.7 L404.7 457.2 L407.4 459.7 L410.0 462.2 L412.7 464.8 L415.4 467.3 L418.1 469.9 L420.8 472.5 L423.5 475.1 L426.3 477.6 L429.0 480.3 L431.8 482.9 L434.5 485.5 L437.3 488.1 L440.0 490.8 L442.8 493.5 L445.6 496.2 L448.4 498.9 L451.2 501.6 L454.0 504.3 L456.8 507.0 L459.6 509.8 L462.5 512.6 L465.3 515.4 L468.2 518.2 L471.0 521.0 L473.9 523.9 L476.8 526.8 L479.7 529.6 L482.6 532.6 L485.5 535.5 L488.4 538.4 L491.3 541.4 L494.2 544.4 L497.1 547.4 L500.1 550.4 L503.0 553.5 L506.0 556.6 L509.0 559.7 L511.9 562.8 L514.9 565.9 L517.9 569.1 L520.9 572.3 L523.9 575.5 L526.9 578.8 L529.9 582.0 L533.0 585.3 L536.0 588.6 L539.0 592.0 L542.1 595.4" stroke="#e34a33" stroke-width="7" fill="none" stroke-linejoin="round"/>
<path d="M136.9 610.8 L137.0 610.3 L137.3 609.4 L137.6 608.2 L138.0 606.8 L138.5 605.2 L139.0 603.4 L139.5 601.5 L140.1 599.5 L140.8 597.4 L141.4 595.2 L142.1 592.8 L142.9 590.4 L143.6 587.9 L144.4 585.4 L145.3 582.7 L146.1 580.0 L147.0 577.3 L147.9 574.4 L148.8 571.5 L149.8 568.6 L150.8 565.6 L151.8 562.5 L152.8 559.4 L153.8 556.3 L154.9 553.1 L156.0 549.9 L157.1 546.6 L158.3 543.3 L159.4 540.0 L160.6 536.7 L161.8 533.3 L163.0 529.9 L164.2 526.4 L165.5 523.0 L166.8 519.5 L168.1 516.0 L169.4 512.5 L170.7 508.9 L172.0 505.4 L173.4 501.8 L174.8 498.2 L176.2 494.7 L177.6 491.0 L179.0 487.4 L180.4 483.8 L181.9 480.2 L183.4 476.6 L184.9 472.9 L186.4 469.3 L187.9 465.6 L189.4 462.0 L191.0 458.4 L192.6 454.7 L194.2 451.1 L195.7 447.5 L197.4 443.8 L199.0 440.2 L200.6 436.6 L202.3 433.0 L204.0 429.4 L205.6 425.8 L207.3 422.2 L209.1 418.7 L210.8 415.1 L212.5 411.6 L214.3 408.1 L216.0 404.6 L217.8 401.1 L219.6 397.6 L221.4 394.2 L223.2 390.8 L225.1 387.4 L226.9 384.0 L228.8 380.7 L230.6 377.3 L232.5 374.1 L234.4 370.8 L236.3 367.6 L238.2 364.4 L240.2 361.2 L242.1 358.1 L244.1 355.0 L246.0 352.0 L248.0 348.9 L250.0 346.0 L252.0 343.0 L254.0 340.1 L256.0 337.3 L258.1 334.5 L260.1 331.7 L262.2 329.0 L264.2 326.3 L266.3 323.7 L268.4 321.2 L270.5 318.7 L272.6 316.2 L274.8 313.8 L276.9 311.4 L279.1 309.1 L281.2 306.9 L283.4 304.7 L285.6 302.6 L287.8 300.5 L290.0 298.5 L292.2 296.6 L294.4 294.7 L296.6 292.9 L298.9 291.2 L301.1 289.5 L303.4 287.9 L305.7 286.4 L308.0 284.9 L310.3 283.5 L312.6 282.2 L314.9 281.0 L317.2 279.9 L319.5 278.8 L321.9 277.8 L324.3 276.9 L326.6 276.0 L329.0 275.3 L331.4 274.6 L333.8 274.0 L336.2 273.4 L338.6 273.0 L341.0 272.6 L343.5 272.3 L345.9 272.1 L348.4 272.0 L350.8 271.9 L353.3 272.0 L355.8 272.1 L358.3 272.3 L360.8 272.6 L363.3 272.9 L365.8 273.4 L368.3 273.9 L370.9 274.6 L373.4 275.3 L376.0 276.1 L378.5 277.0 L381.1 278.1 L383.7 279.2 L386.3 280.4 L388.9 281.7 L391.5 283.1 L394.1 284.6 L396.8 286.2 L399.4 287.9 L402.1 289.7 L404.7 291.6 L407.4 293.7 L410.0 295.8 L412.7 298.1 L415.4 300.5 L418.1 303.0 L420.8 305.6 L423.5 308.3 L426.3 311.2 L429.0 314.2 L431.8 317.3 L434.5 320.6 L437.3 323.9 L440.0 327.4 L442.8 331.1 L445.6 334.9 L448.4 338.8 L451.2 342.9 L454.0 347.1 L456.8 351.5 L459.6 356.0 L462.5 360.7 L465.3 365.6 L468.2 370.6 L471.0 375.7 L473.9 381.1 L476.8 386.6 L479.7 392.2 L482.6 398.1 L485.5 404.1 L488.4 410.3 L491.3 416.7 L494.2 423.3 L497.1 430.0 L500.1 437.0 L503.0 444.1 L506.0 451.4 L509.0 459.0 L511.9 466.7 L514.9 474.7 L517.9 482.8 L520.9 491.2 L523.9 499.8 L526.9 508.6 L529.9 517.7 L533.0 526.9 L536.0 536.4 L539.0 546.2 L542.1 556.1" stroke="#e34a33" stroke-width="7" fill="none" stroke-linejoin="round"/>
<path d="M136.0 124.4 L136.2 125.0 L136.4 126.1 L136.8 127.5 L137.2 129.1 L137.7 130.9 L138.2 132.8 L138.8 134.8 L139.4 136.9 L140.1 139.1 L140.8 141.4 L141.5 143.7 L142.3 146.0 L143.1 148.4 L143.9 150.7 L144.8 153.1 L145.7 155.5 L146.6 157.9 L147.6 160.3 L148.5 162.7 L149.5 165.1 L150.6 167.5 L151.6 169.9 L152.7 172.3 L153.8 174.7 L154.9 177.1 L156.1 179.5 L157.3 181.8 L158.4 184.2 L159.7 186.5 L160.9 188.8 L162.1 191.2 L163.4 193.5 L164.7 195.8 L166.0 198.0 L167.4 200.3 L168.7 202.5 L170.1 204.8 L171.5 207.0 L172.9 209.2 L174.3 211.4 L175.8 213.6 L177.2 215.7 L178.7 217.9 L180.2 220.0 L181.7 222.1 L183.3 224.2 L184.8 226.3 L186.4 228.4 L188.0 230.5 L189.6 232.6 L191.2 234.6 L192.8 236.7 L194.5 238.7 L196.1 240.7 L197.8 242.8 L199.5 244.8 L201.2 246.8 L202.9 248.8 L204.7 250.8 L206.4 252.9 L208.2 254.9 L210.0 256.9 L211.8 258.9 L213.6 261.0 L215.4 263.0 L217.2 265.0 L219.1 267.1 L220.9 269.1 L222.8 271.1 L224.7 273.2 L226.6 275.3 L228.5 277.3 L230.5 279.4 L232.4 281.5 L234.4 283.6 L236.4 285.7 L238.4 287.8 L240.4 289.9 L242.4 292.0 L244.4 294.1 L246.4 296.3 L248.5 298.4 L250.5 300.5 L252.6 302.7 L254.7 304.9 L256.8 307.0 L258.9 309.2 L261.1 311.4 L263.2 313.5 L265.3 315.7 L267.5 317.9 L269.7 320.1 L271.9 322.4 L274.1 324.6 L276.3 326.8 L278.5 329.1 L280.7 331.3 L283.0 333.6 L285.2 335.8 L287.5 338.1 L289.8 340.4 L292.1 342.7 L294.4 345.0 L296.7 347.3 L299.0 349.7 L301.3 352.0 L303.7 354.4 L306.0 356.7 L308.4 359.1 L310.8 361.5 L313.2 363.9 L315.6 366.3 L318.0 368.7 L320.4 371.2 L322.8 373.6 L325.3 376.1 L327.7 378.5 L330.2 381.0 L332.6 383.5 L335.1 386.0 L337.6 388.5 L340.1 391.0 L342.6 393.5 L345.2 396.0 L347.7 398.5 L350.3 401.1 L352.8 403.6 L355.4 406.1 L358.0 408.7 L360.5 411.2 L363.1 413.8 L365.7 416.3 L368.4 418.9 L371.0 421.4 L373.6 424.0 L376.3 426.5 L378.9 429.1 L381.6 431.7 L384.3 434.2 L386.9 436.8 L389.6 439.3 L392.3 441.9 L395.0 444.5 L397.8 447.1 L400.5 449.6 L403.2 452.2 L406.0 454.8 L408.7 457.4 L411.5 460.0 L414.3 462.6 L417.1 465.2 L419.9 467.8 L422.7 470.4 L425.5 473.1 L428.3 475.7 L431.2 478.4 L434.0 481.1 L436.9 483.8 L439.7 486.5 L442.6 489.2 L445.5 492.0 L448.4 494.8 L451.2 497.6 L454.2 500.4 L457.1 503.2 L460.0 506.1 L462.9 509.0 L465.9 511.9 L468.8 514.9 L471.8 517.9 L474.7 520.9 L477.7 523.9 L480.7 527.0 L483.7 530.1 L486.7 533.2 L489.7 536.3 L492.7 539.4 L495.8 542.5 L498.8 545.6 L501.8 548.8 L504.9 551.9 L507.9 555.0 L511.0 558.1 L514.1 561.2 L517.2 564.3 L520.3 567.4 L523.4 570.4 L526.5 573.4 L529.6 576.4 L532.7 579.4 L535.9 582.3 L539.0 585.2 L542.2 588.0 L545.3 590.8 L548.5 593.5 L551.7 596.2 L554.9 598.9 L558.1 601.5 L561.3 604.2" stroke="#e34a33" stroke-width="7" fill="none" stroke-linejoin="round" stroke-dasharray="6.5 3.8"/>
<path d="M136.0 614.0 L136.2 613.4 L136.4 612.4 L136.8 611.1 L137.2 609.5 L137.7 607.7 L138.2 605.8 L138.8 603.7 L139.4 601.5 L140.1 599.1 L140.8 596.7 L141.5 594.1 L142.3 591.5 L143.1 588.7 L143.9 585.9 L144.8 583.0 L145.7 580.0 L146.6 577.0 L147.6 573.8 L148.5 570.7 L149.5 567.5 L150.6 564.2 L151.6 560.9 L152.7 557.5 L153.8 554.1 L154.9 550.7 L156.1 547.2 L157.3 543.7 L158.4 540.2 L159.7 536.6 L160.9 533.0 L162.1 529.4 L163.4 525.8 L164.7 522.1 L166.0 518.4 L167.4 514.7 L168.7 511.0 L170.1 507.3 L171.5 503.5 L172.9 499.7 L174.3 496.0 L175.8 492.2 L177.2 488.4 L178.7 484.6 L180.2 480.7 L181.7 476.9 L183.3 473.1 L184.8 469.2 L186.4 465.4 L188.0 461.6 L189.6 457.7 L191.2 453.9 L192.8 450.0 L194.5 446.2 L196.1 442.3 L197.8 438.5 L199.5 434.7 L201.2 430.9 L202.9 427.1 L204.7 423.3 L206.4 419.5 L208.2 415.7 L210.0 412.0 L211.8 408.2 L213.6 404.5 L215.4 400.8 L217.2 397.1 L219.1 393.5 L220.9 389.9 L222.8 386.3 L224.7 382.7 L226.6 379.1 L228.5 375.6 L230.5 372.1 L232.4 368.7 L234.4 365.3 L236.4 361.9 L238.4 358.6 L240.4 355.3 L242.4 352.0 L244.4 348.8 L246.4 345.6 L248.5 342.4 L250.5 339.3 L252.6 336.3 L254.7 333.2 L256.8 330.3 L258.9 327.3 L261.1 324.5 L263.2 321.6 L265.3 318.9 L267.5 316.2 L269.7 313.5 L271.9 310.9 L274.1 308.3 L276.3 305.8 L278.5 303.4 L280.7 301.0 L283.0 298.7 L285.2 296.5 L287.5 294.3 L289.8 292.2 L292.1 290.1 L294.4 288.1 L296.7 286.2 L299.0 284.4 L301.3 282.6 L303.7 281.0 L306.0 279.4 L308.4 277.8 L310.8 276.4 L313.2 275.0 L315.6 273.7 L318.0 272.6 L320.4 271.4 L322.8 270.4 L325.3 269.5 L327.7 268.6 L330.2 267.9 L332.6 267.2 L335.1 266.6 L337.6 266.1 L340.1 265.7 L342.6 265.4 L345.2 265.2 L347.7 265.0 L350.3 265.0 L352.8 265.0 L355.4 265.2 L358.0 265.4 L360.5 265.7 L363.1 266.1 L365.7 266.6 L368.4 267.2 L371.0 267.8 L373.6 268.6 L376.3 269.5 L378.9 270.4 L381.6 271.4 L384.3 272.6 L386.9 273.8 L389.6 275.1 L392.3 276.5 L395.0 278.1 L397.8 279.7 L400.5 281.4 L403.2 283.2 L406.0 285.2 L408.7 287.2 L411.5 289.4 L414.3 291.6 L417.1 294.0 L419.9 296.5 L422.7 299.2 L425.5 301.9 L428.3 304.8 L431.2 307.8 L434.0 311.0 L436.9 314.3 L439.7 317.8 L442.6 321.4 L445.5 325.1 L448.4 329.1 L451.2 333.2 L454.2 337.4 L457.1 341.9 L460.0 346.5 L462.9 351.3 L465.9 356.4 L468.8 361.6 L471.8 367.0 L474.7 372.7 L477.7 378.5 L480.7 384.5 L483.7 390.7 L486.7 397.1 L489.7 403.6 L492.7 410.4 L495.8 417.2 L498.8 424.3 L501.8 431.4 L504.9 438.7 L507.9 446.2 L511.0 453.7 L514.1 461.4 L517.2 469.1 L520.3 476.9 L523.4 484.8 L526.5 492.8 L529.6 500.8 L532.7 508.9 L535.9 517.0 L539.0 525.1 L542.2 533.2 L543.8 537.4" stroke="#e34a33" stroke-width="7" fill="none" stroke-linejoin="round" stroke-dasharray="6.5 3.8"/>
<path d="M136.9 139.8 L137.0 140.6 L137.3 142.1 L137.7 144.0 L138.1 146.0 L138.6 148.2 L139.1 150.5 L139.7 152.9 L140.3 155.2 L141.0 157.6 L141.7 160.0 L142.5 162.3 L143.2 164.7 L144.0 167.0 L144.9 169.3 L145.8 171.5 L146.7 173.8 L147.6 176.0 L148.6 178.2 L149.5 180.4 L150.6 182.5 L151.6 184.6 L152.7 186.7 L153.8 188.8 L154.9 190.9 L156.0 193.0 L157.2 195.0 L158.3 197.0 L159.5 199.1 L160.8 201.1 L162.0 203.1 L163.3 205.1 L164.6 207.0 L165.9 209.0 L167.2 211.0 L168.6 212.9 L169.9 214.9 L171.3 216.8 L172.7 218.8 L174.1 220.7 L175.6 222.6 L177.0 224.6 L178.5 226.5 L180.0 228.4 L181.5 230.3 L183.1 232.2 L184.6 234.2 L186.2 236.1 L187.8 238.0 L189.4 239.9 L191.0 241.8 L192.6 243.7 L194.3 245.6 L195.9 247.6 L197.6 249.5 L199.3 251.4 L201.0 253.3 L202.7 255.3 L204.5 257.2 L206.2 259.1 L208.0 261.1 L209.8 263.0 L211.6 265.0 L213.4 266.9 L215.2 268.9 L217.1 270.9 L218.9 272.8 L220.8 274.8 L222.7 276.8 L224.6 278.8 L226.5 280.9 L228.4 282.9 L230.4 284.9 L232.3 286.9 L234.3 289.0 L236.3 291.1 L238.3 293.1 L240.3 295.2 L242.3 297.3 L244.3 299.4 L246.4 301.5 L248.4 303.6 L250.5 305.7 L252.6 307.8 L254.7 310.0 L256.8 312.1 L258.9 314.2 L261.1 316.3 L263.2 318.5 L265.4 320.6 L267.5 322.7 L269.7 324.9 L271.9 327.0 L274.1 329.1 L276.3 331.2 L278.6 333.3 L280.8 335.4 L283.1 337.5 L285.3 339.6 L287.6 341.7 L289.9 343.8 L292.2 345.8 L294.5 347.9 L296.8 349.9 L299.2 352.0 L301.5 354.0 L303.9 356.1 L306.3 358.2 L308.6 360.2 L311.0 362.3 L313.4 364.4 L315.8 366.6 L318.3 368.7 L320.7 370.8 L323.1 373.0 L325.6 375.1 L328.1 377.3 L330.5 379.5 L333.0 381.7 L335.5 383.9 L338.0 386.2 L340.6 388.4 L343.1 390.7 L345.6 392.9 L348.2 395.2 L350.7 397.5 L353.3 399.8 L355.9 402.1 L358.5 404.4 L361.1 406.8 L363.7 409.1 L366.3 411.5 L369.0 413.9 L371.6 416.3 L374.3 418.7 L376.9 421.1 L379.6 423.5 L382.3 425.9 L385.0 428.4 L387.7 430.8 L390.4 433.3 L393.1 435.7 L395.8 438.2 L398.6 440.7 L401.3 443.1 L404.1 445.6 L406.8 448.1 L409.6 450.6 L412.4 453.1 L415.2 455.7 L418.0 458.2 L420.8 460.7 L423.7 463.2 L426.5 465.7 L429.3 468.3 L432.2 470.8 L435.1 473.3 L437.9 475.9 L440.8 478.4 L443.7 481.0 L446.6 483.5 L449.5 486.0 L452.4 488.6 L455.4 491.2 L458.3 493.7 L461.2 496.3 L464.2 498.9 L467.1 501.5 L470.1 504.1 L473.1 506.7 L476.1 509.3 L479.1 512.0 L482.1 514.7 L485.1 517.4 L488.1 520.1 L491.2 522.8 L494.2 525.6 L497.3 528.4 L500.3 531.1 L503.4 534.0 L506.5 536.8 L509.5 539.6 L512.6 542.5 L515.7 545.4 L518.8 548.3 L522.0 551.2 L525.1 554.2 L528.2 557.1 L531.4 560.1 L534.5 563.2 L537.7 566.2 L540.8 569.3 L544.0 572.3 L547.2 575.5 L550.4 578.6 L553.6 581.7 L556.8 584.9 L560.0 588.1 L563.3 591.4 L566.5 594.6" stroke="#b30000" stroke-width="7" fill="none" stroke-linejoin="round"/>
<path d="M136.9 610.8 L137.0 610.3 L137.3 609.3 L137.7 608.0 L138.1 606.5 L138.6 604.8 L139.1 602.9 L139.7 600.9 L140.3 598.8 L141.0 596.5 L141.7 594.2 L142.5 591.7 L143.2 589.1 L144.0 586.5 L144.9 583.8 L145.8 581.0 L146.7 578.1 L147.6 575.1 L148.6 572.1 L149.5 569.1 L150.6 565.9 L151.6 562.8 L152.7 559.5 L153.8 556.3 L154.9 552.9 L156.0 549.6 L157.2 546.2 L158.3 542.7 L159.5 539.3 L160.8 535.7 L162.0 532.2 L163.3 528.6 L164.6 525.0 L165.9 521.4 L167.2 517.8 L168.6 514.1 L169.9 510.4 L171.3 506.7 L172.7 503.0 L174.1 499.2 L175.6 495.5 L177.0 491.7 L178.5 487.9 L180.0 484.1 L181.5 480.3 L183.1 476.5 L184.6 472.7 L186.2 468.9 L187.8 465.1 L189.4 461.3 L191.0 457.5 L192.6 453.6 L194.3 449.8 L195.9 446.0 L197.6 442.2 L199.3 438.4 L201.0 434.6 L202.7 430.9 L204.5 427.1 L206.2 423.3 L208.0 419.6 L209.8 415.9 L211.6 412.2 L213.4 408.5 L215.2 404.8 L217.1 401.2 L218.9 397.6 L220.8 394.0 L222.7 390.4 L224.6 386.9 L226.5 383.3 L228.4 379.9 L230.4 376.4 L232.3 373.0 L234.3 369.6 L236.3 366.3 L238.3 363.0 L240.3 359.7 L242.3 356.5 L244.3 353.3 L246.4 350.1 L248.4 347.0 L250.5 343.9 L252.6 340.9 L254.7 337.9 L256.8 335.0 L258.9 332.1 L261.1 329.2 L263.2 326.4 L265.4 323.6 L267.5 320.9 L269.7 318.2 L271.9 315.6 L274.1 313.0 L276.3 310.4 L278.6 307.9 L280.8 305.4 L283.1 302.9 L285.3 300.5 L287.6 298.1 L289.9 295.8 L292.2 293.5 L294.5 291.3 L296.8 289.1 L299.2 286.9 L301.5 284.8 L303.9 282.8 L306.3 280.8 L308.6 278.9 L311.0 277.0 L313.4 275.3 L315.8 273.6 L318.3 271.9 L320.7 270.4 L323.1 268.9 L325.6 267.5 L328.1 266.2 L330.5 265.0 L333.0 263.9 L335.5 262.8 L338.0 261.8 L340.6 261.0 L343.1 260.2 L345.6 259.5 L348.2 258.8 L350.7 258.3 L353.3 257.9 L355.9 257.6 L358.5 257.3 L361.1 257.2 L363.7 257.1 L366.3 257.2 L369.0 257.3 L371.6 257.6 L374.3 257.9 L376.9 258.4 L379.6 259.0 L382.3 259.6 L385.0 260.4 L387.7 261.3 L390.4 262.3 L393.1 263.3 L395.8 264.5 L398.6 265.8 L401.3 267.2 L404.1 268.7 L406.8 270.3 L409.6 272.0 L412.4 273.8 L415.2 275.8 L418.0 277.8 L420.8 279.9 L423.7 282.2 L426.5 284.5 L429.3 287.0 L432.2 289.5 L435.1 292.2 L437.9 294.9 L440.8 297.8 L443.7 300.8 L446.6 303.9 L449.5 307.1 L452.4 310.4 L455.4 313.9 L458.3 317.4 L461.2 321.1 L464.2 324.9 L467.1 328.9 L470.1 333.0 L473.1 337.3 L476.1 341.7 L479.1 346.3 L482.1 351.0 L485.1 356.0 L488.1 361.0 L491.2 366.3 L494.2 371.7 L497.3 377.3 L500.3 383.1 L503.4 389.0 L506.5 395.2 L509.5 401.5 L512.6 408.0 L515.7 414.7 L518.8 421.6 L522.0 428.6 L525.1 435.9 L528.2 443.4 L531.4 451.1 L534.5 459.0 L537.7 467.1 L540.8 475.4 L544.0 484.0 L547.2 492.7 L550.4 501.7 L553.6 510.9 L556.8 520.4 L560.0 530.1 L563.3 540.0 L566.5 550.2" stroke="#b30000" stroke-width="7" fill="none" stroke-linejoin="round"/>
<path d="M136.0 124.1 L136.2 124.6 L136.4 125.6 L136.8 126.9 L137.3 128.5 L137.8 130.1 L138.3 132.0 L138.9 133.9 L139.5 135.9 L140.2 138.0 L141.0 140.2 L141.7 142.4 L142.5 144.7 L143.3 147.0 L144.2 149.4 L145.1 151.7 L146.0 154.1 L147.0 156.5 L148.0 158.9 L149.0 161.3 L150.0 163.7 L151.1 166.1 L152.2 168.6 L153.3 171.0 L154.4 173.4 L155.6 175.8 L156.8 178.2 L158.0 180.6 L159.2 183.0 L160.5 185.4 L161.8 187.8 L163.1 190.1 L164.4 192.5 L165.7 194.8 L167.1 197.2 L168.5 199.5 L169.9 201.8 L171.3 204.1 L172.7 206.3 L174.2 208.6 L175.7 210.8 L177.2 213.1 L178.7 215.3 L180.2 217.5 L181.8 219.7 L183.3 221.8 L184.9 224.0 L186.5 226.1 L188.1 228.3 L189.8 230.4 L191.4 232.5 L193.1 234.6 L194.8 236.7 L196.5 238.8 L198.2 240.9 L199.9 243.0 L201.7 245.0 L203.5 247.1 L205.2 249.2 L207.0 251.2 L208.9 253.3 L210.7 255.4 L212.5 257.5 L214.4 259.6 L216.3 261.7 L218.2 263.7 L220.1 265.8 L222.0 268.0 L223.9 270.1 L225.8 272.2 L227.8 274.3 L229.8 276.4 L231.8 278.6 L233.8 280.7 L235.8 282.9 L237.8 285.0 L239.9 287.2 L241.9 289.4 L244.0 291.6 L246.1 293.8 L248.2 296.0 L250.3 298.2 L252.4 300.4 L254.5 302.6 L256.7 304.8 L258.8 307.1 L261.0 309.3 L263.2 311.5 L265.4 313.8 L267.6 316.1 L269.8 318.3 L272.1 320.6 L274.3 322.9 L276.6 325.2 L278.9 327.5 L281.2 329.8 L283.5 332.1 L285.8 334.5 L288.1 336.8 L290.4 339.2 L292.8 341.5 L295.1 343.9 L297.5 346.3 L299.9 348.6 L302.3 351.0 L304.7 353.4 L307.1 355.9 L309.5 358.3 L311.9 360.7 L314.4 363.2 L316.9 365.6 L319.3 368.1 L321.8 370.6 L324.3 373.0 L326.8 375.5 L329.3 378.0 L331.9 380.5 L334.4 383.0 L336.9 385.6 L339.5 388.1 L342.1 390.6 L344.7 393.2 L347.2 395.7 L349.8 398.2 L352.5 400.8 L355.1 403.3 L357.7 405.9 L360.4 408.4 L363.0 411.0 L365.7 413.6 L368.4 416.1 L371.0 418.7 L373.7 421.2 L376.4 423.8 L379.2 426.4 L381.9 428.9 L384.6 431.5 L387.4 434.1 L390.1 436.7 L392.9 439.3 L395.7 441.9 L398.5 444.5 L401.3 447.1 L404.1 449.7 L406.9 452.4 L409.7 455.0 L412.5 457.7 L415.4 460.3 L418.3 463.0 L421.1 465.6 L424.0 468.3 L426.9 471.0 L429.8 473.7 L432.7 476.4 L435.6 479.1 L438.5 481.8 L441.4 484.5 L444.4 487.2 L447.3 489.9 L450.3 492.7 L453.3 495.4 L456.2 498.1 L459.2 500.8 L462.2 503.6 L465.2 506.3 L468.3 509.0 L471.3 511.7 L474.3 514.4 L477.4 517.1 L480.4 519.8 L483.5 522.6 L486.5 525.3 L489.6 528.0 L492.7 530.8 L495.8 533.5 L498.9 536.3 L502.0 539.1 L505.2 541.9 L508.3 544.7 L511.4 547.6 L514.6 550.4 L517.7 553.3 L520.9 556.3 L524.1 559.2 L527.3 562.2 L530.5 565.2 L533.7 568.3 L536.9 571.4 L540.1 574.5 L543.3 577.7 L546.6 580.9 L549.8 584.2 L553.1 587.5 L556.3 590.9 L559.6 594.3 L562.9 597.8 L566.2 601.4 L569.5 605.0 L572.8 608.6 L576.1 612.3" stroke="#b30000" stroke-width="7" fill="none" stroke-linejoin="round" stroke-dasharray="6.5 3.8"/>
<path d="M136.0 614.0 L136.2 613.4 L136.4 612.3 L136.8 611.0 L137.3 609.3 L137.8 607.5 L138.3 605.5 L138.9 603.3 L139.5 601.0 L140.2 598.6 L141.0 596.0 L141.7 593.4 L142.5 590.6 L143.3 587.7 L144.2 584.8 L145.1 581.8 L146.0 578.7 L147.0 575.5 L148.0 572.3 L149.0 569.0 L150.0 565.7 L151.1 562.3 L152.2 558.9 L153.3 555.4 L154.4 551.9 L155.6 548.3 L156.8 544.7 L158.0 541.1 L159.2 537.4 L160.5 533.7 L161.8 530.0 L163.1 526.3 L164.4 522.5 L165.7 518.7 L167.1 514.9 L168.5 511.1 L169.9 507.2 L171.3 503.4 L172.7 499.5 L174.2 495.6 L175.7 491.7 L177.2 487.8 L178.7 483.8 L180.2 479.9 L181.8 476.0 L183.3 472.0 L184.9 468.1 L186.5 464.1 L188.1 460.2 L189.8 456.2 L191.4 452.2 L193.1 448.3 L194.8 444.3 L196.5 440.4 L198.2 436.4 L199.9 432.5 L201.7 428.6 L203.5 424.6 L205.2 420.7 L207.0 416.8 L208.9 413.0 L210.7 409.1 L212.5 405.3 L214.4 401.4 L216.3 397.6 L218.2 393.9 L220.1 390.1 L222.0 386.4 L223.9 382.7 L225.8 379.0 L227.8 375.4 L229.8 371.8 L231.8 368.2 L233.8 364.7 L235.8 361.2 L237.8 357.8 L239.9 354.3 L241.9 351.0 L244.0 347.6 L246.1 344.3 L248.2 341.1 L250.3 337.9 L252.4 334.7 L254.5 331.6 L256.7 328.5 L258.8 325.5 L261.0 322.6 L263.2 319.7 L265.4 316.8 L267.6 314.0 L269.8 311.2 L272.1 308.6 L274.3 305.9 L276.6 303.4 L278.9 300.9 L281.2 298.4 L283.5 296.0 L285.8 293.7 L288.1 291.5 L290.4 289.3 L292.8 287.2 L295.1 285.2 L297.5 283.2 L299.9 281.3 L302.3 279.5 L304.7 277.8 L307.1 276.1 L309.5 274.6 L311.9 273.1 L314.4 271.7 L316.9 270.3 L319.3 269.1 L321.8 267.9 L324.3 266.9 L326.8 265.9 L329.3 265.0 L331.9 264.2 L334.4 263.5 L336.9 262.8 L339.5 262.3 L342.1 261.8 L344.7 261.5 L347.2 261.2 L349.8 261.0 L352.5 260.9 L355.1 260.9 L357.7 261.0 L360.4 261.2 L363.0 261.4 L365.7 261.8 L368.4 262.2 L371.0 262.8 L373.7 263.4 L376.4 264.1 L379.2 264.9 L381.9 265.8 L384.6 266.9 L387.4 268.0 L390.1 269.2 L392.9 270.6 L395.7 272.0 L398.5 273.6 L401.3 275.3 L404.1 277.1 L406.9 279.0 L409.7 281.1 L412.5 283.2 L415.4 285.5 L418.3 287.9 L421.1 290.4 L424.0 293.1 L426.9 295.8 L429.8 298.7 L432.7 301.7 L435.6 304.8 L438.5 308.1 L441.4 311.4 L444.4 314.9 L447.3 318.5 L450.3 322.3 L453.3 326.1 L456.2 330.1 L459.2 334.2 L462.2 338.3 L465.2 342.6 L468.3 347.1 L471.3 351.6 L474.3 356.2 L477.4 361.0 L480.4 365.9 L483.5 370.9 L486.5 376.1 L489.6 381.4 L492.7 386.9 L495.8 392.5 L498.9 398.3 L502.0 404.2 L505.2 410.4 L508.3 416.7 L511.4 423.2 L514.6 429.9 L517.7 436.8 L520.9 444.0 L524.1 451.3 L527.3 458.9 L530.5 466.8 L533.7 474.9 L536.9 483.3 L540.1 491.9 L543.3 500.8 L546.6 510.1 L549.8 519.6 L553.1 529.5 L556.3 539.7 L559.6 550.2 L562.9 561.2 L566.2 572.4 L569.5 584.0 L572.8 596.0 L576.1 608.1" stroke="#b30000" stroke-width="7" fill="none" stroke-linejoin="round" stroke-dasharray="6.5 3.8"/>
<path d="M1085.7 100.5 L1085.8 101.5 L1086.0 103.2 L1086.3 105.1 L1086.6 107.3 L1086.9 109.5 L1087.3 111.7 L1087.7 113.8 L1088.1 116.0 L1088.5 118.1 L1089.0 120.1 L1089.5 122.1 L1090.1 124.0 L1090.6 125.9 L1091.2 127.8 L1091.8 129.6 L1092.4 131.4 L1093.0 133.1 L1093.7 134.8 L1094.3 136.5 L1095.0 138.2 L1095.7 139.8 L1096.5 141.5 L1097.2 143.1 L1097.9 144.7 L1098.7 146.3 L1099.5 147.8 L1100.3 149.4 L1101.1 150.9 L1102.0 152.5 L1102.8 154.0 L1103.7 155.5 L1104.5 157.0 L1105.4 158.5 L1106.3 160.0 L1107.2 161.5 L1108.2 163.0 L1109.1 164.5 L1110.1 166.0 L1111.0 167.5 L1112.0 169.0 L1113.0 170.5 L1114.0 172.0 L1115.0 173.5 L1116.0 174.9 L1117.1 176.4 L1118.1 177.9 L1119.2 179.4 L1120.3 180.9 L1121.3 182.3 L1122.4 183.8 L1123.5 185.3 L1124.7 186.8 L1125.8 188.3 L1126.9 189.7 L1128.1 191.2 L1129.2 192.7 L1130.4 194.2 L1131.6 195.7 L1132.8 197.1 L1134.0 198.6 L1135.2 200.1 L1136.4 201.5 L1137.7 203.0 L1138.9 204.5 L1140.1 206.0 L1141.4 207.4 L1142.7 208.9 L1144.0 210.4 L1145.2 211.9 L1146.5 213.3 L1147.8 214.8 L1149.2 216.3 L1150.5 217.7 L1151.8 219.2 L1153.2 220.7 L1154.5 222.2 L1155.9 223.6 L1157.3 225.1 L1158.6 226.6 L1160.0 228.1 L1161.4 229.6 L1162.8 231.0 L1164.2 232.5 L1165.7 234.0 L1167.1 235.5 L1168.5 237.0 L1170.0 238.5 L1171.4 240.0 L1172.9 241.5 L1174.4 243.0 L1175.9 244.5 L1177.3 246.0 L1178.8 247.5 L1180.3 249.0 L1181.9 250.5 L1183.4 252.1 L1184.9 253.6 L1186.4 255.2 L1188.0 256.7 L1189.5 258.3 L1191.1 259.9 L1192.7 261.4 L1194.3 263.0 L1195.8 264.6 L1197.4 266.3 L1199.0 267.9 L1200.6 269.5 L1202.3 271.2 L1203.9 272.8 L1205.5 274.5 L1207.1 276.2 L1208.8 277.9 L1210.4 279.6 L1212.1 281.3 L1213.8 283.0 L1215.4 284.8 L1217.1 286.5 L1218.8 288.3 L1220.5 290.0 L1222.2 291.8 L1223.9 293.6 L1225.6 295.5 L1227.3 297.3 L1229.1 299.1 L1230.8 301.0 L1232.6 302.8 L1234.3 304.7 L1236.1 306.6 L1237.8 308.5 L1239.6 310.4 L1241.4 312.3 L1243.2 314.3 L1245.0 316.2 L1246.8 318.2 L1248.6 320.2 L1250.4 322.2 L1252.2 324.2 L1254.0 326.2 L1255.9 328.2 L1257.7 330.2 L1259.5 332.3 L1261.4 334.4 L1263.3 336.5 L1265.1 338.5 L1267.0 340.7 L1268.9 342.8 L1270.8 344.9 L1272.6 347.1 L1274.5 349.2 L1276.4 351.4 L1278.4 353.6 L1280.3 355.8 L1282.2 358.0 L1284.1 360.3 L1286.1 362.5 L1288.0 364.8 L1289.9 367.1 L1291.9 369.4 L1293.9 371.7 L1295.8 374.1 L1297.8 376.5 L1299.8 378.9 L1301.8 381.3 L1303.8 383.7 L1305.8 386.2 L1307.8 388.7 L1309.8 391.3 L1311.8 393.8 L1313.8 396.5 L1315.8 399.1 L1317.9 401.8 L1319.9 404.6 L1321.9 407.4 L1324.0 410.2 L1326.1 413.1 L1328.1 416.1 L1330.2 419.2 L1332.3 422.3 L1334.3 425.5 L1336.4 428.8 L1338.5 432.1 L1340.6 435.6 L1342.7 439.2 L1344.8 442.8 L1346.9 446.5 L1349.1 450.4 L1351.2 454.3 L1353.3 458.4 L1355.5 462.6 L1357.6 466.9 L1359.8 471.3 L1361.9 475.8 L1364.1 480.5 L1366.2 485.3 L1368.4 490.2 L1370.6 495.3 L1372.8 500.6 L1375.0 506.0 L1377.1 511.6" stroke="#b2e2e2" stroke-width="7" fill="none" stroke-linejoin="round"/>
<path d="M1085.7 607.6 L1085.8 607.3 L1086.0 606.5 L1086.3 605.6 L1086.6 604.5 L1086.9 603.3 L1087.3 601.9 L1087.7 600.5 L1088.1 598.9 L1088.5 597.2 L1089.0 595.5 L1089.5 593.7 L1090.1 591.8 L1090.6 589.8 L1091.2 587.8 L1091.8 585.7 L1092.4 583.5 L1093.0 581.3 L1093.7 579.0 L1094.3 576.7 L1095.0 574.3 L1095.7 571.9 L1096.5 569.4 L1097.2 566.9 L1097.9 564.4 L1098.7 561.8 L1099.5 559.1 L1100.3 556.5 L1101.1 553.8 L1102.0 551.0 L1102.8 548.3 L1103.7 545.5 L1104.5 542.6 L1105.4 539.8 L1106.3 536.9 L1107.2 534.0 L1108.2 531.0 L1109.1 528.1 L1110.1 525.1 L1111.0 522.1 L1112.0 519.1 L1113.0 516.0 L1114.0 512.9 L1115.0 509.9 L1116.0 506.8 L1117.1 503.6 L1118.1 500.5 L1119.2 497.4 L1120.3 494.2 L1121.3 491.0 L1122.4 487.8 L1123.5 484.6 L1124.7 481.4 L1125.8 478.2 L1126.9 475.0 L1128.1 471.7 L1129.2 468.5 L1130.4 465.2 L1131.6 462.0 L1132.8 458.7 L1134.0 455.5 L1135.2 452.2 L1136.4 448.9 L1137.7 445.6 L1138.9 442.3 L1140.1 439.0 L1141.4 435.7 L1142.7 432.4 L1144.0 429.2 L1145.2 425.9 L1146.5 422.6 L1147.8 419.3 L1149.2 416.0 L1150.5 412.7 L1151.8 409.4 L1153.2 406.1 L1154.5 402.8 L1155.9 399.6 L1157.3 396.3 L1158.6 393.0 L1160.0 389.8 L1161.4 386.5 L1162.8 383.3 L1164.2 380.0 L1165.7 376.8 L1167.1 373.6 L1168.5 370.4 L1170.0 367.2 L1171.4 364.0 L1172.9 360.8 L1174.4 357.6 L1175.9 354.5 L1177.3 351.3 L1178.8 348.2 L1180.3 345.1 L1181.9 342.0 L1183.4 338.9 L1184.9 335.9 L1186.4 332.9 L1188.0 329.8 L1189.5 326.9 L1191.1 323.9 L1192.7 321.0 L1194.3 318.0 L1195.8 315.2 L1197.4 312.3 L1199.0 309.5 L1200.6 306.7 L1202.3 303.9 L1203.9 301.2 L1205.5 298.5 L1207.1 295.8 L1208.8 293.1 L1210.4 290.5 L1212.1 288.0 L1213.8 285.4 L1215.4 282.9 L1217.1 280.5 L1218.8 278.1 L1220.5 275.7 L1222.2 273.4 L1223.9 271.1 L1225.6 268.8 L1227.3 266.6 L1229.1 264.5 L1230.8 262.4 L1232.6 260.3 L1234.3 258.3 L1236.1 256.3 L1237.8 254.4 L1239.6 252.5 L1241.4 250.7 L1243.2 248.9 L1245.0 247.2 L1246.8 245.6 L1248.6 243.9 L1250.4 242.4 L1252.2 240.9 L1254.0 239.5 L1255.9 238.1 L1257.7 236.8 L1259.5 235.5 L1261.4 234.3 L1263.3 233.2 L1265.1 232.1 L1267.0 231.1 L1268.9 230.2 L1270.8 229.3 L1272.6 228.5 L1274.5 227.8 L1276.4 227.2 L1278.4 226.6 L1280.3 226.1 L1282.2 225.6 L1284.1 225.3 L1286.1 225.0 L1288.0 224.8 L1289.9 224.7 L1291.9 224.7 L1293.9 224.7 L1295.8 224.9 L1297.8 225.1 L1299.8 225.5 L1301.8 226.0 L1303.8 226.5 L1305.8 227.2 L1307.8 228.0 L1309.8 228.9 L1311.8 230.0 L1313.8 231.2 L1315.8 232.5 L1317.9 234.0 L1319.9 235.6 L1321.9 237.4 L1324.0 239.4 L1326.1 241.6 L1328.1 244.0 L1330.2 246.6 L1332.3 249.4 L1334.3 252.5 L1336.4 255.8 L1338.5 259.4 L1340.6 263.3 L1342.7 267.4 L1344.8 271.9 L1346.9 276.6 L1349.1 281.7 L1351.2 287.1 L1353.3 292.9 L1355.5 299.0 L1357.6 305.5 L1359.8 312.3 L1361.9 319.6 L1364.1 327.3 L1366.2 335.5 L1368.4 344.1 L1370.6 353.2 L1372.8 362.8 L1375.0 373.0 L1377.1 383.7" stroke="#b2e2e2" stroke-width="7" fill="none" stroke-linejoin="round"/>
<path d="M1084.0 94.3 L1084.2 95.0 L1084.5 96.3 L1084.8 97.8 L1085.3 99.7 L1085.8 101.7 L1086.4 103.8 L1087.0 106.0 L1087.7 108.2 L1088.4 110.6 L1089.1 112.9 L1089.9 115.3 L1090.8 117.7 L1091.6 120.1 L1092.5 122.5 L1093.4 125.0 L1094.4 127.4 L1095.4 129.8 L1096.4 132.2 L1097.5 134.6 L1098.5 137.0 L1099.6 139.4 L1100.8 141.8 L1101.9 144.1 L1103.1 146.5 L1104.3 148.9 L1105.5 151.2 L1106.8 153.5 L1108.1 155.9 L1109.4 158.2 L1110.7 160.5 L1112.0 162.8 L1113.4 165.0 L1114.8 167.3 L1116.2 169.6 L1117.6 171.8 L1119.1 174.0 L1120.6 176.3 L1122.0 178.5 L1123.6 180.7 L1125.1 182.9 L1126.6 185.1 L1128.2 187.2 L1129.8 189.4 L1131.4 191.6 L1133.0 193.7 L1134.7 195.8 L1136.3 198.0 L1138.0 200.1 L1139.7 202.2 L1141.4 204.3 L1143.2 206.4 L1144.9 208.5 L1146.7 210.6 L1148.4 212.7 L1150.2 214.8 L1152.1 216.9 L1153.9 219.1 L1155.7 221.2 L1157.6 223.3 L1159.5 225.4 L1161.4 227.5 L1163.3 229.7 L1165.2 231.8 L1167.2 234.0 L1169.1 236.2 L1171.1 238.4 L1173.1 240.6 L1175.1 242.8 L1177.1 245.0 L1179.1 247.2 L1181.2 249.5 L1183.2 251.8 L1185.3 254.0 L1187.4 256.3 L1189.5 258.7 L1191.6 261.0 L1193.7 263.3 L1195.9 265.7 L1198.0 268.1 L1200.2 270.5 L1202.4 272.9 L1204.6 275.4 L1206.8 277.8 L1209.0 280.3 L1211.3 282.8 L1213.5 285.4 L1215.8 287.9 L1218.1 290.5 L1220.4 293.1 L1222.7 295.7 L1225.0 298.4 L1227.3 301.0 L1229.7 303.7 L1232.0 306.4 L1234.4 309.1 L1236.8 311.8 L1239.2 314.5 L1241.6 317.3 L1244.0 320.0 L1246.4 322.7 L1248.9 325.5 L1251.3 328.3 L1253.8 331.0 L1256.3 333.8 L1258.7 336.5 L1261.2 339.3 L1263.8 342.0 L1266.3 344.8 L1268.8 347.5 L1271.4 350.2 L1273.9 352.9 L1276.5 355.6 L1279.1 358.2 L1281.7 360.9 L1284.3 363.5 L1286.9 366.1 L1289.5 368.6 L1292.2 371.2 L1294.8 373.8 L1297.5 376.3 L1300.2 378.8 L1302.9 381.4 L1305.6 383.9 L1308.3 386.5 L1311.0 389.1 L1313.7 391.7 L1316.4 394.3 L1319.2 396.9 L1322.0 399.6 L1324.7 402.3 L1327.5 405.0 L1330.3 407.8 L1333.1 410.5 L1335.9 413.3 L1338.8 416.1 L1341.6 418.9 L1344.4 421.8 L1347.3 424.6 L1350.2 427.4 L1353.0 430.3 L1355.9 433.2 L1358.8 436.0 L1361.7 438.9 L1364.6 441.9 L1367.6 444.8 L1370.5 447.7 L1373.5 450.7 L1376.4 453.7 L1379.4 456.7 L1382.4 459.7 L1385.4 462.7 L1388.4 465.8 L1391.4 468.8 L1394.4 471.8 L1397.4 474.9 L1400.5 477.9 L1403.5 481.0 L1406.6 484.0 L1409.6 487.1 L1412.7 490.1 L1415.8 493.1 L1418.9 496.1 L1422.0 499.1 L1425.1 502.1 L1428.2 505.1 L1431.4 508.0 L1434.5 510.9 L1437.7 513.8 L1440.8 516.7 L1444.0 519.6 L1447.2 522.5 L1450.4 525.3 L1453.6 528.2 L1456.8 531.0 L1460.0 533.9 L1463.2 536.7 L1466.5 539.6 L1469.7 542.5 L1473.0 545.4 L1476.2 548.3 L1479.5 551.2 L1482.8 554.1 L1486.1 557.1 L1489.4 560.1 L1492.7 563.1 L1496.0 566.2 L1499.3 569.3 L1502.7 572.5 L1506.0 575.7 L1509.4 579.0 L1512.7 582.3 L1516.1 585.8 L1519.5 589.2 L1522.9 592.8 L1526.3 596.5 L1529.7 600.2 L1533.1 604.1 L1536.5 608.2 L1539.9 612.5" stroke="#b2e2e2" stroke-width="7" fill="none" stroke-linejoin="round" stroke-dasharray="6.5 3.8"/>
<path d="M1084.0 614.5 L1084.2 613.9 L1084.5 612.7 L1084.8 611.2 L1085.3 609.4 L1085.8 607.4 L1086.4 605.2 L1087.0 602.8 L1087.7 600.3 L1088.4 597.6 L1089.1 594.8 L1089.9 591.9 L1090.8 588.8 L1091.6 585.7 L1092.5 582.5 L1093.4 579.2 L1094.4 575.8 L1095.4 572.3 L1096.4 568.7 L1097.5 565.1 L1098.5 561.4 L1099.6 557.7 L1100.8 553.9 L1101.9 550.0 L1103.1 546.1 L1104.3 542.2 L1105.5 538.2 L1106.8 534.1 L1108.1 530.1 L1109.4 526.0 L1110.7 521.8 L1112.0 517.6 L1113.4 513.4 L1114.8 509.2 L1116.2 504.9 L1117.6 500.6 L1119.1 496.3 L1120.6 492.0 L1122.0 487.6 L1123.6 483.2 L1125.1 478.8 L1126.6 474.4 L1128.2 470.0 L1129.8 465.6 L1131.4 461.1 L1133.0 456.7 L1134.7 452.2 L1136.3 447.7 L1138.0 443.3 L1139.7 438.8 L1141.4 434.3 L1143.2 429.8 L1144.9 425.4 L1146.7 420.9 L1148.4 416.4 L1150.2 411.9 L1152.1 407.5 L1153.9 403.1 L1155.7 398.6 L1157.6 394.2 L1159.5 389.8 L1161.4 385.4 L1163.3 381.1 L1165.2 376.8 L1167.2 372.4 L1169.1 368.2 L1171.1 363.9 L1173.1 359.7 L1175.1 355.5 L1177.1 351.4 L1179.1 347.3 L1181.2 343.2 L1183.2 339.2 L1185.3 335.2 L1187.4 331.2 L1189.5 327.3 L1191.6 323.5 L1193.7 319.7 L1195.9 316.0 L1198.0 312.3 L1200.2 308.7 L1202.4 305.1 L1204.6 301.6 L1206.8 298.2 L1209.0 294.8 L1211.3 291.6 L1213.5 288.4 L1215.8 285.2 L1218.1 282.2 L1220.4 279.2 L1222.7 276.3 L1225.0 273.5 L1227.3 270.8 L1229.7 268.1 L1232.0 265.6 L1234.4 263.1 L1236.8 260.7 L1239.2 258.4 L1241.6 256.2 L1244.0 254.1 L1246.4 252.0 L1248.9 250.0 L1251.3 248.1 L1253.8 246.3 L1256.3 244.6 L1258.7 242.9 L1261.2 241.3 L1263.8 239.8 L1266.3 238.3 L1268.8 237.0 L1271.4 235.6 L1273.9 234.4 L1276.5 233.2 L1279.1 232.0 L1281.7 230.9 L1284.3 229.9 L1286.9 228.9 L1289.5 227.9 L1292.2 227.0 L1294.8 226.2 L1297.5 225.4 L1300.2 224.8 L1302.9 224.2 L1305.6 223.7 L1308.3 223.3 L1311.0 223.1 L1313.7 222.9 L1316.4 222.9 L1319.2 223.1 L1322.0 223.3 L1324.7 223.7 L1327.5 224.3 L1330.3 225.0 L1333.1 225.8 L1335.9 226.8 L1338.8 227.9 L1341.6 229.1 L1344.4 230.5 L1347.3 232.0 L1350.2 233.6 L1353.0 235.3 L1355.9 237.2 L1358.8 239.3 L1361.7 241.5 L1364.6 243.8 L1367.6 246.3 L1370.5 249.0 L1373.5 251.8 L1376.4 254.8 L1379.4 257.9 L1382.4 261.2 L1385.4 264.6 L1388.4 268.2 L1391.4 271.9 L1394.4 275.8 L1397.4 279.8 L1400.5 283.9 L1403.5 288.2 L1406.6 292.5 L1409.6 297.0 L1412.7 301.7 L1415.8 306.4 L1418.9 311.2 L1422.0 316.2 L1425.1 321.2 L1428.2 326.3 L1431.4 331.5 L1434.5 336.8 L1437.7 342.1 L1440.8 347.6 L1444.0 353.1 L1447.2 358.8 L1450.4 364.6 L1453.6 370.5 L1456.8 376.5 L1460.0 382.6 L1463.2 388.9 L1466.5 395.4 L1469.7 402.0 L1473.0 408.8 L1476.2 415.8 L1479.5 422.9 L1482.8 430.3 L1486.1 437.9 L1489.4 445.8 L1492.7 453.9 L1496.0 462.3 L1499.3 471.0 L1502.7 480.0 L1506.0 489.3 L1509.4 499.0 L1512.7 509.0 L1516.1 519.5 L1519.5 530.3 L1522.9 541.7 L1526.0 552.6" stroke="#b2e2e2" stroke-width="7" fill="none" stroke-linejoin="round" stroke-dasharray="6.5 3.8"/>
<path d="M1085.7 98.3 L1085.9 99.5 L1086.2 101.6 L1086.6 104.1 L1087.0 106.8 L1087.5 109.5 L1088.1 112.3 L1088.7 115.1 L1089.3 117.8 L1090.0 120.5 L1090.7 123.1 L1091.5 125.7 L1092.3 128.2 L1093.1 130.6 L1094.0 133.0 L1094.9 135.4 L1095.9 137.7 L1096.8 140.0 L1097.8 142.2 L1098.8 144.4 L1099.9 146.5 L1100.9 148.7 L1102.0 150.8 L1103.2 152.9 L1104.3 154.9 L1105.5 157.0 L1106.7 159.0 L1107.9 161.0 L1109.1 163.1 L1110.4 165.0 L1111.7 167.0 L1113.0 169.0 L1114.3 171.0 L1115.7 173.0 L1117.1 174.9 L1118.4 176.9 L1119.9 178.8 L1121.3 180.8 L1122.7 182.7 L1124.2 184.7 L1125.7 186.6 L1127.2 188.5 L1128.7 190.5 L1130.3 192.4 L1131.8 194.3 L1133.4 196.3 L1135.0 198.2 L1136.6 200.1 L1138.3 202.1 L1139.9 204.0 L1141.6 205.9 L1143.3 207.8 L1145.0 209.8 L1146.7 211.7 L1148.4 213.6 L1150.2 215.5 L1151.9 217.4 L1153.7 219.4 L1155.5 221.3 L1157.3 223.2 L1159.1 225.1 L1161.0 227.0 L1162.8 228.9 L1164.7 230.9 L1166.6 232.8 L1168.5 234.7 L1170.4 236.6 L1172.4 238.5 L1174.3 240.4 L1176.3 242.3 L1178.2 244.2 L1180.2 246.1 L1182.2 248.0 L1184.3 249.9 L1186.3 251.8 L1188.3 253.7 L1190.4 255.6 L1192.5 257.5 L1194.5 259.4 L1196.6 261.3 L1198.8 263.2 L1200.9 265.2 L1203.0 267.1 L1205.2 269.0 L1207.3 271.0 L1209.5 272.9 L1211.7 274.9 L1213.9 276.8 L1216.1 278.8 L1218.4 280.8 L1220.6 282.8 L1222.9 284.8 L1225.1 286.8 L1227.4 288.9 L1229.7 290.9 L1232.0 292.9 L1234.3 295.0 L1236.6 297.1 L1239.0 299.2 L1241.3 301.3 L1243.7 303.4 L1246.1 305.5 L1248.4 307.6 L1250.8 309.8 L1253.3 312.0 L1255.7 314.1 L1258.1 316.3 L1260.6 318.6 L1263.0 320.8 L1265.5 323.0 L1268.0 325.3 L1270.5 327.6 L1273.0 329.9 L1275.5 332.2 L1278.0 334.6 L1280.5 336.9 L1283.1 339.3 L1285.6 341.7 L1288.2 344.2 L1290.8 346.6 L1293.4 349.1 L1296.0 351.6 L1298.6 354.1 L1301.2 356.6 L1303.8 359.2 L1306.5 361.8 L1309.1 364.4 L1311.8 367.0 L1314.5 369.6 L1317.2 372.3 L1319.8 374.9 L1322.6 377.6 L1325.3 380.3 L1328.0 383.0 L1330.7 385.6 L1333.5 388.3 L1336.2 391.0 L1339.0 393.7 L1341.8 396.3 L1344.6 399.0 L1347.4 401.7 L1350.2 404.4 L1353.0 407.1 L1355.8 409.7 L1358.7 412.4 L1361.5 415.2 L1364.4 417.9 L1367.2 420.6 L1370.1 423.4 L1373.0 426.1 L1375.9 428.9 L1378.8 431.7 L1381.7 434.5 L1384.7 437.3 L1387.6 440.1 L1390.5 443.0 L1393.5 445.8 L1396.4 448.7 L1399.4 451.6 L1402.4 454.5 L1405.4 457.5 L1408.4 460.5 L1411.4 463.4 L1414.4 466.5 L1417.5 469.5 L1420.5 472.6 L1423.5 475.6 L1426.6 478.8 L1429.7 481.9 L1432.7 485.1 L1435.8 488.3 L1438.9 491.5 L1442.0 494.8 L1445.1 498.1 L1448.3 501.4 L1451.4 504.8 L1454.5 508.2 L1457.7 511.7 L1460.8 515.1 L1464.0 518.6 L1467.2 522.2 L1470.3 525.7 L1473.5 529.3 L1476.7 533.0 L1480.0 536.6 L1483.2 540.3 L1486.4 544.1 L1489.6 547.8 L1492.9 551.6 L1496.1 555.5 L1499.4 559.3 L1502.7 563.3 L1505.9 567.2 L1509.2 571.2 L1512.5 575.2 L1515.8 579.3 L1519.1 583.4 L1522.5 587.5 L1525.8 591.7 L1529.1 595.9" stroke="#66c2a4" stroke-width="7" fill="none" stroke-linejoin="round"/>
<path d="M1085.7 607.6 L1085.9 607.0 L1086.2 605.9 L1086.6 604.5 L1087.0 602.8 L1087.5 600.9 L1088.1 598.9 L1088.7 596.7 L1089.3 594.3 L1090.0 591.8 L1090.7 589.2 L1091.5 586.4 L1092.3 583.6 L1093.1 580.6 L1094.0 577.6 L1094.9 574.5 L1095.9 571.3 L1096.8 568.0 L1097.8 564.6 L1098.8 561.2 L1099.9 557.7 L1100.9 554.1 L1102.0 550.5 L1103.2 546.8 L1104.3 543.1 L1105.5 539.3 L1106.7 535.5 L1107.9 531.6 L1109.1 527.7 L1110.4 523.7 L1111.7 519.7 L1113.0 515.7 L1114.3 511.6 L1115.7 507.5 L1117.1 503.3 L1118.4 499.2 L1119.9 495.0 L1121.3 490.8 L1122.7 486.5 L1124.2 482.3 L1125.7 478.0 L1127.2 473.7 L1128.7 469.4 L1130.3 465.1 L1131.8 460.7 L1133.4 456.4 L1135.0 452.0 L1136.6 447.6 L1138.3 443.3 L1139.9 438.9 L1141.6 434.5 L1143.3 430.1 L1145.0 425.7 L1146.7 421.3 L1148.4 416.9 L1150.2 412.5 L1151.9 408.2 L1153.7 403.8 L1155.5 399.4 L1157.3 395.0 L1159.1 390.6 L1161.0 386.3 L1162.8 381.9 L1164.7 377.6 L1166.6 373.2 L1168.5 368.9 L1170.4 364.6 L1172.4 360.3 L1174.3 356.0 L1176.3 351.8 L1178.2 347.5 L1180.2 343.3 L1182.2 339.0 L1184.3 334.8 L1186.3 330.7 L1188.3 326.5 L1190.4 322.4 L1192.5 318.3 L1194.5 314.2 L1196.6 310.1 L1198.8 306.1 L1200.9 302.1 L1203.0 298.2 L1205.2 294.2 L1207.3 290.4 L1209.5 286.5 L1211.7 282.7 L1213.9 278.9 L1216.1 275.2 L1218.4 271.5 L1220.6 267.9 L1222.9 264.3 L1225.1 260.8 L1227.4 257.3 L1229.7 253.8 L1232.0 250.4 L1234.3 247.1 L1236.6 243.8 L1239.0 240.6 L1241.3 237.5 L1243.7 234.4 L1246.1 231.4 L1248.4 228.4 L1250.8 225.6 L1253.3 222.7 L1255.7 220.0 L1258.1 217.3 L1260.6 214.8 L1263.0 212.3 L1265.5 209.8 L1268.0 207.5 L1270.5 205.3 L1273.0 203.1 L1275.5 201.1 L1278.0 199.1 L1280.5 197.2 L1283.1 195.4 L1285.6 193.8 L1288.2 192.2 L1290.8 190.7 L1293.4 189.4 L1296.0 188.2 L1298.6 187.0 L1301.2 186.0 L1303.8 185.1 L1306.5 184.4 L1309.1 183.7 L1311.8 183.2 L1314.5 182.8 L1317.2 182.5 L1319.8 182.3 L1322.6 182.2 L1325.3 182.2 L1328.0 182.3 L1330.7 182.5 L1333.5 182.8 L1336.2 183.2 L1339.0 183.7 L1341.8 184.2 L1344.6 184.9 L1347.4 185.7 L1350.2 186.6 L1353.0 187.6 L1355.8 188.7 L1358.7 189.9 L1361.5 191.3 L1364.4 192.8 L1367.2 194.4 L1370.1 196.1 L1373.0 198.0 L1375.9 200.0 L1378.8 202.2 L1381.7 204.5 L1384.7 206.9 L1387.6 209.5 L1390.5 212.2 L1393.5 215.2 L1396.4 218.2 L1399.4 221.5 L1402.4 224.9 L1405.4 228.4 L1408.4 232.2 L1411.4 236.1 L1414.4 240.3 L1417.5 244.6 L1420.5 249.1 L1423.5 253.8 L1426.6 258.7 L1429.7 263.9 L1432.7 269.2 L1435.8 274.8 L1438.9 280.6 L1442.0 286.7 L1445.1 292.9 L1448.3 299.5 L1451.4 306.2 L1454.5 313.2 L1457.7 320.5 L1460.8 328.0 L1464.0 335.8 L1467.2 343.8 L1470.3 352.1 L1473.5 360.7 L1476.7 369.5 L1480.0 378.6 L1483.2 388.0 L1486.4 397.7 L1489.6 407.6 L1492.9 417.9 L1496.1 428.4 L1499.4 439.2 L1502.7 450.4 L1505.9 461.8 L1509.2 473.6 L1512.5 485.7 L1515.8 498.1 L1519.1 510.8 L1522.5 523.9 L1525.8 537.3 L1529.1 551.1" stroke="#66c2a4" stroke-width="7" fill="none" stroke-linejoin="round"/>
<path d="M1084.0 96.0 L1084.2 96.6 L1084.5 97.7 L1084.9 99.0 L1085.4 100.6 L1086.0 102.4 L1086.6 104.2 L1087.3 106.2 L1088.0 108.3 L1088.8 110.5 L1089.6 112.7 L1090.5 115.0 L1091.4 117.3 L1092.4 119.6 L1093.3 122.0 L1094.4 124.4 L1095.4 126.8 L1096.5 129.3 L1097.6 131.7 L1098.8 134.2 L1099.9 136.6 L1101.2 139.1 L1102.4 141.5 L1103.7 144.0 L1105.0 146.5 L1106.3 148.9 L1107.6 151.4 L1109.0 153.8 L1110.4 156.2 L1111.8 158.7 L1113.3 161.1 L1114.8 163.5 L1116.3 165.9 L1117.8 168.3 L1119.3 170.7 L1120.9 173.1 L1122.5 175.4 L1124.1 177.8 L1125.8 180.1 L1127.4 182.5 L1129.1 184.8 L1130.8 187.1 L1132.5 189.4 L1134.3 191.7 L1136.0 194.0 L1137.8 196.2 L1139.6 198.5 L1141.4 200.7 L1143.3 203.0 L1145.1 205.2 L1147.0 207.5 L1148.9 209.7 L1150.8 211.9 L1152.8 214.2 L1154.7 216.4 L1156.7 218.6 L1158.7 220.8 L1160.7 223.1 L1162.7 225.3 L1164.8 227.6 L1166.8 229.8 L1168.9 232.1 L1171.0 234.3 L1173.1 236.6 L1175.3 238.8 L1177.4 241.1 L1179.6 243.4 L1181.8 245.7 L1183.9 248.0 L1186.2 250.3 L1188.4 252.6 L1190.6 254.9 L1192.9 257.2 L1195.2 259.6 L1197.5 262.0 L1199.8 264.3 L1202.1 266.7 L1204.4 269.2 L1206.8 271.6 L1209.2 274.0 L1211.5 276.5 L1213.9 279.0 L1216.4 281.5 L1218.8 284.1 L1221.2 286.6 L1223.7 289.2 L1226.2 291.8 L1228.6 294.4 L1231.1 297.0 L1233.7 299.7 L1236.2 302.3 L1238.7 305.0 L1241.3 307.7 L1243.9 310.4 L1246.4 313.1 L1249.0 315.8 L1251.7 318.5 L1254.3 321.2 L1256.9 323.9 L1259.6 326.5 L1262.2 329.2 L1264.9 331.9 L1267.6 334.5 L1270.3 337.2 L1273.0 339.8 L1275.8 342.4 L1278.5 345.0 L1281.3 347.5 L1284.1 350.1 L1286.8 352.6 L1289.6 355.0 L1292.4 357.5 L1295.3 360.0 L1298.1 362.4 L1301.0 364.8 L1303.8 367.2 L1306.7 369.7 L1309.6 372.1 L1312.5 374.5 L1315.4 376.9 L1318.3 379.3 L1321.2 381.7 L1324.2 384.1 L1327.1 386.6 L1330.1 389.0 L1333.1 391.5 L1336.1 393.9 L1339.1 396.4 L1342.1 399.0 L1345.2 401.5 L1348.2 404.1 L1351.3 406.6 L1354.3 409.2 L1357.4 411.9 L1360.5 414.5 L1363.6 417.2 L1366.7 419.8 L1369.8 422.5 L1373.0 425.2 L1376.1 428.0 L1379.3 430.7 L1382.4 433.5 L1385.6 436.3 L1388.8 439.1 L1392.0 442.0 L1395.2 444.8 L1398.4 447.7 L1401.7 450.6 L1404.9 453.5 L1408.2 456.5 L1411.5 459.4 L1414.7 462.4 L1418.0 465.4 L1421.3 468.4 L1424.6 471.5 L1428.0 474.6 L1431.3 477.6 L1434.6 480.7 L1438.0 483.9 L1441.4 487.0 L1444.7 490.2 L1448.1 493.4 L1451.5 496.6 L1454.9 499.8 L1458.4 503.1 L1461.8 506.4 L1465.2 509.6 L1468.7 512.9 L1472.1 516.2 L1475.6 519.5 L1479.1 522.7 L1482.6 526.0 L1486.1 529.2 L1489.6 532.5 L1493.1 535.7 L1496.6 538.8 L1500.2 542.0 L1503.7 545.1 L1507.3 548.2 L1510.9 551.2 L1514.5 554.2 L1518.0 557.2 L1521.6 560.2 L1525.3 563.2 L1528.9 566.2 L1532.5 569.2 L1536.2 572.2 L1539.8 575.1 L1543.5 578.1 L1547.1 581.1 L1550.8 584.1 L1554.5 587.2 L1558.2 590.2 L1561.9 593.3 L1565.6 596.5 L1569.4 599.6 L1573.1 602.8 L1576.8 606.0 L1580.6 609.2 L1584.4 612.4" stroke="#66c2a4" stroke-width="7" fill="none" stroke-linejoin="round" stroke-dasharray="6.5 3.8"/>
<path d="M1084.0 614.5 L1084.2 613.8 L1084.5 612.5 L1084.9 610.8 L1085.4 608.9 L1086.0 606.7 L1086.6 604.3 L1087.3 601.7 L1088.0 598.9 L1088.8 595.9 L1089.6 592.9 L1090.5 589.6 L1091.4 586.3 L1092.4 582.9 L1093.3 579.3 L1094.4 575.7 L1095.4 571.9 L1096.5 568.1 L1097.6 564.2 L1098.8 560.3 L1099.9 556.2 L1101.2 552.1 L1102.4 547.9 L1103.7 543.7 L1105.0 539.5 L1106.3 535.1 L1107.6 530.8 L1109.0 526.4 L1110.4 521.9 L1111.8 517.4 L1113.3 512.9 L1114.8 508.4 L1116.3 503.8 L1117.8 499.2 L1119.3 494.5 L1120.9 489.9 L1122.5 485.2 L1124.1 480.5 L1125.8 475.8 L1127.4 471.0 L1129.1 466.3 L1130.8 461.5 L1132.5 456.7 L1134.3 451.9 L1136.0 447.1 L1137.8 442.3 L1139.6 437.5 L1141.4 432.7 L1143.3 427.9 L1145.1 423.1 L1147.0 418.3 L1148.9 413.5 L1150.8 408.7 L1152.8 403.9 L1154.7 399.1 L1156.7 394.3 L1158.7 389.5 L1160.7 384.8 L1162.7 380.1 L1164.8 375.4 L1166.8 370.7 L1168.9 366.0 L1171.0 361.4 L1173.1 356.8 L1175.3 352.2 L1177.4 347.7 L1179.6 343.2 L1181.8 338.7 L1183.9 334.2 L1186.2 329.8 L1188.4 325.5 L1190.6 321.1 L1192.9 316.9 L1195.2 312.7 L1197.5 308.5 L1199.8 304.4 L1202.1 300.3 L1204.4 296.3 L1206.8 292.4 L1209.2 288.5 L1211.5 284.7 L1213.9 281.0 L1216.4 277.3 L1218.8 273.8 L1221.2 270.3 L1223.7 266.9 L1226.2 263.5 L1228.6 260.3 L1231.1 257.1 L1233.7 254.1 L1236.2 251.1 L1238.7 248.2 L1241.3 245.3 L1243.9 242.6 L1246.4 239.9 L1249.0 237.3 L1251.7 234.8 L1254.3 232.4 L1256.9 230.0 L1259.6 227.7 L1262.2 225.5 L1264.9 223.3 L1267.6 221.2 L1270.3 219.2 L1273.0 217.2 L1275.8 215.3 L1278.5 213.4 L1281.3 211.6 L1284.1 209.8 L1286.8 208.0 L1289.6 206.3 L1292.4 204.7 L1295.3 203.1 L1298.1 201.6 L1301.0 200.1 L1303.8 198.7 L1306.7 197.4 L1309.6 196.1 L1312.5 195.0 L1315.4 193.9 L1318.3 192.9 L1321.2 192.0 L1324.2 191.2 L1327.1 190.5 L1330.1 189.9 L1333.1 189.5 L1336.1 189.1 L1339.1 188.9 L1342.1 188.9 L1345.2 189.0 L1348.2 189.2 L1351.3 189.5 L1354.3 190.0 L1357.4 190.7 L1360.5 191.5 L1363.6 192.4 L1366.7 193.5 L1369.8 194.7 L1373.0 196.1 L1376.1 197.7 L1379.3 199.4 L1382.4 201.3 L1385.6 203.4 L1388.8 205.6 L1392.0 208.0 L1395.2 210.5 L1398.4 213.3 L1401.7 216.2 L1404.9 219.3 L1408.2 222.6 L1411.5 226.0 L1414.7 229.7 L1418.0 233.5 L1421.3 237.6 L1424.6 241.8 L1428.0 246.2 L1431.3 250.9 L1434.6 255.7 L1438.0 260.7 L1441.4 266.0 L1444.7 271.5 L1448.1 277.1 L1451.5 283.0 L1454.9 289.1 L1458.4 295.4 L1461.8 302.0 L1465.2 308.7 L1468.7 315.5 L1472.1 322.6 L1475.6 329.8 L1479.1 337.1 L1482.6 344.6 L1486.1 352.2 L1489.6 359.9 L1493.1 367.7 L1496.6 375.6 L1500.2 383.6 L1503.7 391.6 L1507.3 399.6 L1510.9 407.8 L1514.5 416.0 L1518.0 424.4 L1521.6 432.9 L1525.3 441.4 L1528.9 450.2 L1532.5 459.0 L1536.2 468.1 L1539.8 477.3 L1543.5 486.7 L1547.1 496.3 L1550.8 506.1 L1554.5 516.2 L1558.2 526.5 L1561.9 537.1 L1565.6 548.0 L1566.1 549.3" stroke="#66c2a4" stroke-width="7" fill="none" stroke-linejoin="round" stroke-dasharray="6.5 3.8"/>
<path d="M1085.7 94.7 L1085.9 95.9 L1086.3 98.0 L1086.7 100.6 L1087.2 103.3 L1087.8 106.2 L1088.4 109.2 L1089.1 112.1 L1089.9 115.0 L1090.7 117.9 L1091.5 120.7 L1092.4 123.5 L1093.3 126.2 L1094.3 128.8 L1095.3 131.4 L1096.3 134.0 L1097.4 136.5 L1098.5 139.0 L1099.6 141.4 L1100.8 143.8 L1102.0 146.2 L1103.3 148.5 L1104.5 150.8 L1105.8 153.1 L1107.1 155.4 L1108.5 157.7 L1109.9 159.9 L1111.3 162.1 L1112.7 164.3 L1114.2 166.5 L1115.7 168.7 L1117.2 170.8 L1118.7 173.0 L1120.3 175.2 L1121.8 177.3 L1123.4 179.5 L1125.1 181.6 L1126.7 183.7 L1128.4 185.9 L1130.1 188.0 L1131.8 190.1 L1133.5 192.2 L1135.3 194.3 L1137.1 196.4 L1138.9 198.5 L1140.7 200.6 L1142.5 202.7 L1144.4 204.8 L1146.3 206.9 L1148.2 209.0 L1150.1 211.1 L1152.0 213.2 L1154.0 215.3 L1156.0 217.4 L1158.0 219.5 L1160.0 221.6 L1162.0 223.7 L1164.1 225.8 L1166.1 227.9 L1168.2 229.9 L1170.3 232.0 L1172.5 234.1 L1174.6 236.2 L1176.8 238.2 L1178.9 240.3 L1181.1 242.4 L1183.3 244.4 L1185.6 246.5 L1187.8 248.6 L1190.1 250.7 L1192.4 252.7 L1194.6 254.8 L1197.0 256.9 L1199.3 259.0 L1201.6 261.2 L1204.0 263.3 L1206.3 265.4 L1208.7 267.6 L1211.1 269.7 L1213.6 271.9 L1216.0 274.1 L1218.4 276.3 L1220.9 278.5 L1223.4 280.7 L1225.9 283.0 L1228.4 285.2 L1230.9 287.5 L1233.5 289.8 L1236.0 292.1 L1238.6 294.4 L1241.2 296.7 L1243.8 299.0 L1246.4 301.3 L1249.0 303.6 L1251.6 306.0 L1254.3 308.3 L1257.0 310.6 L1259.6 312.9 L1262.3 315.3 L1265.1 317.6 L1267.8 319.9 L1270.5 322.2 L1273.3 324.5 L1276.0 326.9 L1278.8 329.2 L1281.6 331.5 L1284.4 333.9 L1287.2 336.3 L1290.0 338.6 L1292.9 341.0 L1295.8 343.4 L1298.6 345.8 L1301.5 348.3 L1304.4 350.7 L1307.3 353.2 L1310.2 355.7 L1313.2 358.2 L1316.1 360.7 L1319.1 363.2 L1322.0 365.7 L1325.0 368.2 L1328.0 370.7 L1331.0 373.3 L1334.1 375.8 L1337.1 378.4 L1340.1 380.9 L1343.2 383.5 L1346.3 386.0 L1349.4 388.6 L1352.4 391.2 L1355.6 393.7 L1358.7 396.3 L1361.8 398.8 L1364.9 401.4 L1368.1 404.0 L1371.3 406.5 L1374.4 409.1 L1377.6 411.6 L1380.8 414.2 L1384.1 416.7 L1387.3 419.3 L1390.5 421.8 L1393.8 424.4 L1397.0 427.0 L1400.3 429.5 L1403.6 432.1 L1406.9 434.7 L1410.2 437.2 L1413.5 439.8 L1416.8 442.4 L1420.2 444.9 L1423.5 447.5 L1426.9 450.1 L1430.2 452.7 L1433.6 455.3 L1437.0 457.9 L1440.4 460.5 L1443.8 463.1 L1447.3 465.8 L1450.7 468.4 L1454.1 471.1 L1457.6 473.7 L1461.1 476.4 L1464.6 479.0 L1468.0 481.7 L1471.6 484.4 L1475.1 487.1 L1478.6 489.8 L1482.1 492.6 L1485.7 495.3 L1489.2 498.1 L1492.8 500.8 L1496.4 503.6 L1499.9 506.4 L1503.5 509.2 L1507.2 512.0 L1510.8 514.8 L1514.4 517.6 L1518.0 520.5 L1521.7 523.4 L1525.3 526.3 L1529.0 529.2 L1532.7 532.1 L1536.4 535.1 L1540.1 538.1 L1543.8 541.2 L1547.5 544.3 L1551.2 547.4 L1555.0 550.6 L1558.7 553.9 L1562.5 557.2 L1566.2 560.7 L1570.0 564.3 L1573.8 568.1 L1577.6 572.0 L1581.4 576.1 L1585.2 580.5 L1589.1 585.3 L1592.9 590.3 L1596.7 595.9" stroke="#2ca25f" stroke-width="7" fill="none" stroke-linejoin="round"/>
<path d="M1085.7 607.6 L1085.9 606.9 L1086.3 605.6 L1086.7 603.9 L1087.2 602.0 L1087.8 599.8 L1088.4 597.4 L1089.1 594.8 L1089.9 592.1 L1090.7 589.2 L1091.5 586.2 L1092.4 583.0 L1093.3 579.7 L1094.3 576.3 L1095.3 572.8 L1096.3 569.2 L1097.4 565.5 L1098.5 561.7 L1099.6 557.9 L1100.8 553.9 L1102.0 549.9 L1103.3 545.8 L1104.5 541.7 L1105.8 537.5 L1107.1 533.2 L1108.5 528.9 L1109.9 524.5 L1111.3 520.1 L1112.7 515.6 L1114.2 511.1 L1115.7 506.5 L1117.2 501.9 L1118.7 497.3 L1120.3 492.7 L1121.8 488.0 L1123.4 483.3 L1125.1 478.5 L1126.7 473.7 L1128.4 469.0 L1130.1 464.1 L1131.8 459.3 L1133.5 454.5 L1135.3 449.6 L1137.1 444.8 L1138.9 439.9 L1140.7 435.0 L1142.5 430.1 L1144.4 425.2 L1146.3 420.3 L1148.2 415.4 L1150.1 410.5 L1152.0 405.6 L1154.0 400.7 L1156.0 395.8 L1158.0 391.0 L1160.0 386.1 L1162.0 381.2 L1164.1 376.4 L1166.1 371.5 L1168.2 366.7 L1170.3 361.9 L1172.5 357.0 L1174.6 352.2 L1176.8 347.5 L1178.9 342.7 L1181.1 338.0 L1183.3 333.2 L1185.6 328.6 L1187.8 323.9 L1190.1 319.2 L1192.4 314.6 L1194.6 310.1 L1197.0 305.5 L1199.3 301.0 L1201.6 296.6 L1204.0 292.1 L1206.3 287.8 L1208.7 283.4 L1211.1 279.1 L1213.6 274.9 L1216.0 270.7 L1218.4 266.6 L1220.9 262.6 L1223.4 258.6 L1225.9 254.6 L1228.4 250.8 L1230.9 247.0 L1233.5 243.2 L1236.0 239.5 L1238.6 235.9 L1241.2 232.4 L1243.8 228.9 L1246.4 225.5 L1249.0 222.1 L1251.6 218.8 L1254.3 215.6 L1257.0 212.4 L1259.6 209.3 L1262.3 206.2 L1265.1 203.2 L1267.8 200.3 L1270.5 197.4 L1273.3 194.7 L1276.0 191.9 L1278.8 189.3 L1281.6 186.8 L1284.4 184.3 L1287.2 181.9 L1290.0 179.6 L1292.9 177.5 L1295.8 175.4 L1298.6 173.4 L1301.5 171.5 L1304.4 169.8 L1307.3 168.1 L1310.2 166.5 L1313.2 165.1 L1316.1 163.7 L1319.1 162.5 L1322.0 161.4 L1325.0 160.3 L1328.0 159.4 L1331.0 158.6 L1334.1 157.9 L1337.1 157.3 L1340.1 156.8 L1343.2 156.4 L1346.3 156.1 L1349.4 155.9 L1352.4 155.8 L1355.6 155.9 L1358.7 156.0 L1361.8 156.2 L1364.9 156.5 L1368.1 156.9 L1371.3 157.4 L1374.4 158.0 L1377.6 158.8 L1380.8 159.6 L1384.1 160.5 L1387.3 161.6 L1390.5 162.7 L1393.8 164.0 L1397.0 165.4 L1400.3 166.9 L1403.6 168.5 L1406.9 170.3 L1410.2 172.1 L1413.5 174.1 L1416.8 176.2 L1420.2 178.5 L1423.5 180.8 L1426.9 183.3 L1430.2 185.9 L1433.6 188.7 L1437.0 191.6 L1440.4 194.7 L1443.8 197.8 L1447.3 201.2 L1450.7 204.7 L1454.1 208.3 L1457.6 212.1 L1461.1 216.0 L1464.6 220.1 L1468.0 224.4 L1471.6 228.8 L1475.1 233.4 L1478.6 238.2 L1482.1 243.1 L1485.7 248.2 L1489.2 253.5 L1492.8 259.0 L1496.4 264.6 L1499.9 270.4 L1503.5 276.4 L1507.2 282.6 L1510.8 289.0 L1514.4 295.6 L1518.0 302.4 L1521.7 309.4 L1525.3 316.6 L1529.0 324.1 L1532.7 331.8 L1536.4 339.8 L1540.1 348.0 L1543.8 356.5 L1547.5 365.4 L1551.2 374.6 L1555.0 384.3 L1558.7 394.3 L1562.5 404.9 L1566.2 416.1 L1570.0 427.9 L1573.8 440.5 L1577.6 454.0 L1581.4 468.5 L1585.2 484.3 L1589.1 501.5 L1592.9 520.5 L1596.7 541.5" stroke="#2ca25f" stroke-width="7" fill="none" stroke-linejoin="round"/>
<path d="M1084.0 86.6 L1084.2 87.2 L1084.6 88.3 L1085.0 89.8 L1085.6 91.5 L1086.2 93.3 L1086.9 95.4 L1087.6 97.5 L1088.4 99.7 L1089.3 102.1 L1090.2 104.5 L1091.1 106.9 L1092.1 109.4 L1093.2 112.0 L1094.3 114.5 L1095.4 117.1 L1096.5 119.7 L1097.7 122.4 L1098.9 125.0 L1100.2 127.6 L1101.5 130.3 L1102.8 132.9 L1104.2 135.6 L1105.6 138.2 L1107.0 140.9 L1108.5 143.5 L1110.0 146.1 L1111.5 148.7 L1113.0 151.3 L1114.6 153.9 L1116.2 156.5 L1117.8 159.0 L1119.4 161.6 L1121.1 164.1 L1122.8 166.6 L1124.5 169.1 L1126.3 171.6 L1128.1 174.1 L1129.9 176.5 L1131.7 179.0 L1133.5 181.4 L1135.4 183.9 L1137.3 186.3 L1139.2 188.7 L1141.1 191.1 L1143.1 193.5 L1145.1 195.8 L1147.1 198.2 L1149.1 200.5 L1151.1 202.9 L1153.2 205.2 L1155.3 207.6 L1157.4 209.9 L1159.5 212.3 L1161.7 214.6 L1163.8 216.9 L1166.0 219.3 L1168.2 221.6 L1170.5 223.9 L1172.7 226.2 L1175.0 228.5 L1177.3 230.8 L1179.6 233.1 L1181.9 235.4 L1184.2 237.7 L1186.6 240.0 L1189.0 242.2 L1191.4 244.5 L1193.8 246.8 L1196.2 249.1 L1198.6 251.4 L1201.1 253.7 L1203.6 256.0 L1206.1 258.3 L1208.6 260.6 L1211.1 262.9 L1213.7 265.3 L1216.3 267.6 L1218.8 270.0 L1221.5 272.3 L1224.1 274.7 L1226.7 277.1 L1229.4 279.5 L1232.0 281.9 L1234.7 284.4 L1237.4 286.8 L1240.1 289.2 L1242.8 291.7 L1245.6 294.1 L1248.4 296.6 L1251.1 299.0 L1253.9 301.5 L1256.7 303.9 L1259.6 306.4 L1262.4 308.9 L1265.3 311.3 L1268.1 313.8 L1271.0 316.2 L1273.9 318.7 L1276.8 321.2 L1279.8 323.7 L1282.7 326.2 L1285.7 328.7 L1288.6 331.2 L1291.6 333.8 L1294.6 336.3 L1297.6 338.9 L1300.7 341.5 L1303.7 344.2 L1306.8 346.8 L1309.8 349.5 L1312.9 352.1 L1316.0 354.8 L1319.1 357.5 L1322.3 360.3 L1325.4 363.0 L1328.6 365.7 L1331.7 368.5 L1334.9 371.3 L1338.1 374.0 L1341.3 376.8 L1344.5 379.6 L1347.8 382.4 L1351.0 385.2 L1354.3 388.0 L1357.6 390.8 L1360.9 393.6 L1364.2 396.4 L1367.5 399.2 L1370.8 402.1 L1374.1 404.9 L1377.5 407.7 L1380.9 410.5 L1384.3 413.3 L1387.6 416.1 L1391.0 418.9 L1394.5 421.7 L1397.9 424.5 L1401.3 427.3 L1404.8 430.1 L1408.3 432.9 L1411.7 435.7 L1415.2 438.5 L1418.7 441.3 L1422.3 444.1 L1425.8 446.9 L1429.3 449.7 L1432.9 452.5 L1436.5 455.3 L1440.0 458.1 L1443.6 460.9 L1447.2 463.7 L1450.8 466.5 L1454.5 469.3 L1458.1 472.1 L1461.7 474.9 L1465.4 477.7 L1469.1 480.5 L1472.8 483.3 L1476.5 486.2 L1480.2 489.0 L1483.9 491.8 L1487.6 494.6 L1491.4 497.5 L1495.1 500.3 L1498.9 503.1 L1502.7 506.0 L1506.5 508.9 L1510.3 511.8 L1514.1 514.7 L1517.9 517.6 L1521.7 520.5 L1525.6 523.5 L1529.4 526.5 L1533.3 529.5 L1537.2 532.5 L1541.1 535.6 L1545.0 538.7 L1548.9 541.8 L1552.8 544.9 L1556.7 548.0 L1560.7 551.2 L1564.6 554.4 L1568.6 557.6 L1572.6 560.8 L1576.6 564.1 L1580.6 567.3 L1584.6 570.6 L1588.6 573.9 L1592.6 577.2 L1596.7 580.5 L1600.7 583.9 L1604.8 587.2 L1608.9 590.5 L1612.9 593.9 L1617.0 597.3 L1621.1 600.7 L1625.3 604.0 L1629.4 607.4 L1633.5 610.9" stroke="#2ca25f" stroke-width="7" fill="none" stroke-linejoin="round" stroke-dasharray="6.5 3.8"/>
<path d="M1084.0 614.5 L1084.2 613.7 L1084.6 612.3 L1085.0 610.4 L1085.6 608.2 L1086.2 605.8 L1086.9 603.1 L1087.6 600.2 L1088.4 597.1 L1089.3 593.8 L1090.2 590.3 L1091.1 586.8 L1092.1 583.1 L1093.2 579.2 L1094.3 575.3 L1095.4 571.2 L1096.5 567.1 L1097.7 562.8 L1098.9 558.5 L1100.2 554.1 L1101.5 549.6 L1102.8 545.1 L1104.2 540.5 L1105.6 535.8 L1107.0 531.1 L1108.5 526.3 L1110.0 521.5 L1111.5 516.6 L1113.0 511.7 L1114.6 506.8 L1116.2 501.8 L1117.8 496.8 L1119.4 491.7 L1121.1 486.6 L1122.8 481.5 L1124.5 476.4 L1126.3 471.2 L1128.1 466.1 L1129.9 460.9 L1131.7 455.7 L1133.5 450.4 L1135.4 445.2 L1137.3 439.9 L1139.2 434.7 L1141.1 429.4 L1143.1 424.2 L1145.1 418.9 L1147.1 413.6 L1149.1 408.3 L1151.1 403.1 L1153.2 397.8 L1155.3 392.6 L1157.4 387.3 L1159.5 382.1 L1161.7 376.9 L1163.8 371.6 L1166.0 366.5 L1168.2 361.3 L1170.5 356.1 L1172.7 351.0 L1175.0 345.8 L1177.3 340.7 L1179.6 335.7 L1181.9 330.6 L1184.2 325.6 L1186.6 320.6 L1189.0 315.6 L1191.4 310.6 L1193.8 305.7 L1196.2 300.9 L1198.6 296.0 L1201.1 291.2 L1203.6 286.5 L1206.1 281.8 L1208.6 277.1 L1211.1 272.5 L1213.7 268.0 L1216.3 263.5 L1218.8 259.1 L1221.5 254.7 L1224.1 250.4 L1226.7 246.2 L1229.4 242.0 L1232.0 237.9 L1234.7 233.9 L1237.4 229.9 L1240.1 226.0 L1242.8 222.2 L1245.6 218.4 L1248.4 214.7 L1251.1 211.1 L1253.9 207.6 L1256.7 204.1 L1259.6 200.7 L1262.4 197.4 L1265.3 194.1 L1268.1 190.9 L1271.0 187.8 L1273.9 184.8 L1276.8 181.8 L1279.8 179.0 L1282.7 176.2 L1285.7 173.6 L1288.6 171.0 L1291.6 168.6 L1294.6 166.3 L1297.6 164.1 L1300.7 162.1 L1303.7 160.1 L1306.8 158.3 L1309.8 156.6 L1312.9 155.0 L1316.0 153.6 L1319.1 152.3 L1322.3 151.1 L1325.4 150.0 L1328.6 149.1 L1331.7 148.3 L1334.9 147.6 L1338.1 147.0 L1341.3 146.6 L1344.5 146.3 L1347.8 146.1 L1351.0 146.1 L1354.3 146.2 L1357.6 146.4 L1360.9 146.7 L1364.2 147.1 L1367.5 147.7 L1370.8 148.4 L1374.1 149.2 L1377.5 150.1 L1380.9 151.1 L1384.3 152.3 L1387.6 153.6 L1391.0 155.0 L1394.5 156.5 L1397.9 158.2 L1401.3 160.0 L1404.8 161.9 L1408.3 164.0 L1411.7 166.2 L1415.2 168.5 L1418.7 171.0 L1422.3 173.6 L1425.8 176.3 L1429.3 179.1 L1432.9 182.1 L1436.5 185.3 L1440.0 188.6 L1443.6 192.0 L1447.2 195.5 L1450.8 199.2 L1454.5 203.1 L1458.1 207.0 L1461.7 211.2 L1465.4 215.4 L1469.1 219.9 L1472.8 224.4 L1476.5 229.2 L1480.2 234.0 L1483.9 239.1 L1487.6 244.3 L1491.4 249.7 L1495.1 255.3 L1498.9 261.1 L1502.7 267.0 L1506.5 273.2 L1510.3 279.5 L1514.1 286.1 L1517.9 292.9 L1521.7 299.9 L1525.6 307.1 L1529.4 314.6 L1533.3 322.3 L1537.2 330.3 L1541.1 338.5 L1545.0 347.0 L1548.9 355.8 L1552.8 364.8 L1556.7 374.1 L1560.7 383.6 L1564.6 393.5 L1568.6 403.5 L1572.6 413.9 L1576.6 424.4 L1580.6 435.3 L1584.6 446.4 L1588.6 457.8 L1592.6 469.4 L1596.7 481.2 L1600.7 493.4 L1604.8 505.7 L1606.9 512.1" stroke="#2ca25f" stroke-width="7" fill="none" stroke-linejoin="round" stroke-dasharray="6.5 3.8"/>
<path d="M1085.7 96.2 L1085.9 97.5 L1086.3 99.9 L1086.7 102.7 L1087.3 105.7 L1087.9 108.8 L1088.6 111.9 L1089.3 115.0 L1090.1 118.1 L1090.9 121.1 L1091.8 124.0 L1092.7 126.9 L1093.7 129.7 L1094.7 132.4 L1095.8 135.1 L1096.9 137.8 L1098.0 140.3 L1099.2 142.9 L1100.4 145.3 L1101.6 147.8 L1102.9 150.2 L1104.2 152.6 L1105.5 155.0 L1106.8 157.3 L1108.2 159.6 L1109.7 161.9 L1111.1 164.2 L1112.6 166.4 L1114.1 168.7 L1115.6 170.9 L1117.2 173.1 L1118.8 175.4 L1120.4 177.6 L1122.0 179.8 L1123.7 182.0 L1125.4 184.2 L1127.1 186.4 L1128.8 188.6 L1130.6 190.8 L1132.3 193.0 L1134.1 195.1 L1136.0 197.3 L1137.8 199.5 L1139.7 201.7 L1141.6 203.8 L1143.5 206.0 L1145.4 208.2 L1147.4 210.4 L1149.4 212.5 L1151.4 214.7 L1153.4 216.9 L1155.4 219.0 L1157.5 221.2 L1159.5 223.4 L1161.6 225.5 L1163.8 227.7 L1165.9 229.8 L1168.1 232.0 L1170.2 234.1 L1172.4 236.3 L1174.6 238.4 L1176.9 240.6 L1179.1 242.7 L1181.4 244.8 L1183.7 247.0 L1186.0 249.1 L1188.3 251.2 L1190.6 253.4 L1193.0 255.5 L1195.4 257.6 L1197.8 259.8 L1200.2 261.9 L1202.6 264.0 L1205.0 266.2 L1207.5 268.4 L1210.0 270.5 L1212.5 272.7 L1215.0 274.9 L1217.5 277.0 L1220.1 279.2 L1222.6 281.4 L1225.2 283.7 L1227.8 285.9 L1230.4 288.1 L1233.0 290.3 L1235.6 292.5 L1238.3 294.8 L1241.0 297.0 L1243.6 299.3 L1246.3 301.5 L1249.1 303.7 L1251.8 306.0 L1254.5 308.2 L1257.3 310.4 L1260.1 312.7 L1262.9 314.9 L1265.7 317.1 L1268.5 319.3 L1271.3 321.6 L1274.2 323.8 L1277.0 326.0 L1279.9 328.3 L1282.8 330.5 L1285.7 332.8 L1288.6 335.1 L1291.5 337.4 L1294.5 339.7 L1297.5 342.0 L1300.4 344.3 L1303.4 346.7 L1306.4 349.1 L1309.4 351.5 L1312.5 353.9 L1315.5 356.3 L1318.6 358.8 L1321.6 361.2 L1324.7 363.7 L1327.8 366.2 L1330.9 368.7 L1334.1 371.1 L1337.2 373.6 L1340.3 376.1 L1343.5 378.7 L1346.7 381.2 L1349.9 383.7 L1353.1 386.2 L1356.3 388.7 L1359.5 391.3 L1362.7 393.8 L1366.0 396.3 L1369.3 398.8 L1372.5 401.4 L1375.8 403.9 L1379.1 406.4 L1382.5 409.0 L1385.8 411.5 L1389.1 414.1 L1392.5 416.6 L1395.8 419.2 L1399.2 421.8 L1402.6 424.4 L1406.0 427.0 L1409.4 429.6 L1412.8 432.3 L1416.3 434.9 L1419.7 437.6 L1423.2 440.3 L1426.7 443.1 L1430.1 445.8 L1433.6 448.5 L1437.2 451.3 L1440.7 454.0 L1444.2 456.8 L1447.7 459.6 L1451.3 462.4 L1454.9 465.2 L1458.4 468.0 L1462.0 470.8 L1465.6 473.6 L1469.2 476.4 L1472.9 479.2 L1476.5 482.0 L1480.2 484.8 L1483.8 487.6 L1487.5 490.3 L1491.2 493.1 L1494.8 495.9 L1498.6 498.6 L1502.3 501.4 L1506.0 504.1 L1509.7 506.8 L1513.5 509.5 L1517.2 512.2 L1521.0 514.9 L1524.8 517.6 L1528.6 520.3 L1532.4 523.1 L1536.2 525.9 L1540.0 528.6 L1543.8 531.4 L1547.7 534.3 L1551.5 537.1 L1555.4 540.0 L1559.3 542.8 L1563.2 545.7 L1567.1 548.7 L1571.0 551.6 L1574.9 554.6 L1578.8 557.6 L1582.8 560.7 L1586.7 563.7 L1590.7 566.8 L1594.6 570.0 L1598.6 573.2 L1602.6 576.5 L1606.6 579.9 L1610.6 583.4 L1614.6 587.0 L1618.7 590.8 L1622.7 594.8" stroke="#006d2c" stroke-width="7" fill="none" stroke-linejoin="round"/>
<path d="M1085.7 607.6 L1085.9 606.9 L1086.3 605.5 L1086.7 603.8 L1087.3 601.8 L1087.9 599.5 L1088.6 597.0 L1089.3 594.3 L1090.1 591.4 L1090.9 588.4 L1091.8 585.3 L1092.7 582.0 L1093.7 578.5 L1094.7 575.0 L1095.8 571.4 L1096.9 567.6 L1098.0 563.8 L1099.2 559.8 L1100.4 555.8 L1101.6 551.7 L1102.9 547.5 L1104.2 543.3 L1105.5 539.0 L1106.8 534.6 L1108.2 530.2 L1109.7 525.7 L1111.1 521.1 L1112.6 516.5 L1114.1 511.9 L1115.6 507.2 L1117.2 502.5 L1118.8 497.7 L1120.4 492.9 L1122.0 488.1 L1123.7 483.3 L1125.4 478.4 L1127.1 473.5 L1128.8 468.5 L1130.6 463.6 L1132.3 458.6 L1134.1 453.7 L1136.0 448.7 L1137.8 443.7 L1139.7 438.6 L1141.6 433.6 L1143.5 428.6 L1145.4 423.6 L1147.4 418.5 L1149.4 413.5 L1151.4 408.5 L1153.4 403.5 L1155.4 398.5 L1157.5 393.4 L1159.5 388.4 L1161.6 383.4 L1163.8 378.5 L1165.9 373.5 L1168.1 368.5 L1170.2 363.6 L1172.4 358.6 L1174.6 353.7 L1176.9 348.8 L1179.1 343.9 L1181.4 339.1 L1183.7 334.2 L1186.0 329.4 L1188.3 324.6 L1190.6 319.9 L1193.0 315.1 L1195.4 310.4 L1197.8 305.7 L1200.2 301.1 L1202.6 296.5 L1205.0 292.0 L1207.5 287.4 L1210.0 283.0 L1212.5 278.5 L1215.0 274.2 L1217.5 269.8 L1220.1 265.5 L1222.6 261.3 L1225.2 257.1 L1227.8 253.0 L1230.4 249.0 L1233.0 244.9 L1235.6 241.0 L1238.3 237.1 L1241.0 233.3 L1243.6 229.5 L1246.3 225.7 L1249.1 222.1 L1251.8 218.5 L1254.5 214.9 L1257.3 211.4 L1260.1 207.9 L1262.9 204.5 L1265.7 201.2 L1268.5 197.9 L1271.3 194.7 L1274.2 191.6 L1277.0 188.5 L1279.9 185.5 L1282.8 182.6 L1285.7 179.8 L1288.6 177.1 L1291.5 174.4 L1294.5 171.9 L1297.5 169.5 L1300.4 167.2 L1303.4 165.0 L1306.4 162.9 L1309.4 160.9 L1312.5 159.0 L1315.5 157.3 L1318.6 155.6 L1321.6 154.1 L1324.7 152.6 L1327.8 151.3 L1330.9 150.1 L1334.1 149.0 L1337.2 148.0 L1340.3 147.1 L1343.5 146.3 L1346.7 145.6 L1349.9 145.1 L1353.1 144.6 L1356.3 144.2 L1359.5 144.0 L1362.7 143.8 L1366.0 143.8 L1369.3 143.8 L1372.5 144.0 L1375.8 144.3 L1379.1 144.7 L1382.5 145.2 L1385.8 145.8 L1389.1 146.6 L1392.5 147.5 L1395.8 148.6 L1399.2 149.8 L1402.6 151.1 L1406.0 152.6 L1409.4 154.3 L1412.8 156.1 L1416.3 158.1 L1419.7 160.2 L1423.2 162.6 L1426.7 165.1 L1430.1 167.7 L1433.6 170.5 L1437.2 173.5 L1440.7 176.7 L1444.2 180.0 L1447.7 183.5 L1451.3 187.1 L1454.9 190.9 L1458.4 194.8 L1462.0 198.9 L1465.6 203.1 L1469.2 207.5 L1472.9 212.0 L1476.5 216.6 L1480.2 221.4 L1483.8 226.3 L1487.5 231.3 L1491.2 236.4 L1494.8 241.7 L1498.6 247.0 L1502.3 252.5 L1506.0 258.1 L1509.7 263.7 L1513.5 269.5 L1517.2 275.5 L1521.0 281.6 L1524.8 287.8 L1528.6 294.3 L1532.4 301.0 L1536.2 307.8 L1540.0 315.0 L1543.8 322.3 L1547.7 329.9 L1551.5 337.7 L1555.4 345.7 L1559.3 354.0 L1563.2 362.5 L1567.1 371.2 L1571.0 380.3 L1574.9 389.6 L1578.8 399.1 L1582.8 409.0 L1586.7 419.2 L1590.7 429.8 L1594.6 440.7 L1598.6 452.1 L1602.6 463.9 L1606.6 476.3 L1610.6 489.3 L1614.6 503.0 L1618.7 517.6 L1622.7 533.2" stroke="#006d2c" stroke-width="7" fill="none" stroke-linejoin="round"/>
<path d="M1084.0 85.3 L1084.2 85.9 L1084.6 87.1 L1085.0 88.5 L1085.6 90.2 L1086.2 92.0 L1086.9 94.0 L1087.7 96.2 L1088.5 98.4 L1089.3 100.7 L1090.3 103.1 L1091.2 105.6 L1092.2 108.1 L1093.3 110.7 L1094.4 113.2 L1095.5 115.9 L1096.7 118.5 L1097.9 121.1 L1099.1 123.8 L1100.4 126.5 L1101.7 129.1 L1103.0 131.8 L1104.4 134.5 L1105.8 137.2 L1107.3 139.8 L1108.7 142.5 L1110.2 145.1 L1111.8 147.7 L1113.3 150.4 L1114.9 153.0 L1116.5 155.6 L1118.2 158.2 L1119.8 160.7 L1121.5 163.3 L1123.2 165.8 L1125.0 168.3 L1126.8 170.8 L1128.5 173.3 L1130.4 175.8 L1132.2 178.3 L1134.1 180.7 L1136.0 183.2 L1137.9 185.6 L1139.8 188.0 L1141.8 190.4 L1143.7 192.8 L1145.8 195.2 L1147.8 197.6 L1149.8 199.9 L1151.9 202.3 L1154.0 204.7 L1156.1 207.0 L1158.2 209.4 L1160.4 211.7 L1162.5 214.1 L1164.7 216.4 L1166.9 218.8 L1169.2 221.1 L1171.4 223.4 L1173.7 225.7 L1176.0 228.1 L1178.3 230.4 L1180.6 232.7 L1183.0 235.0 L1185.3 237.3 L1187.7 239.6 L1190.1 241.9 L1192.5 244.2 L1195.0 246.5 L1197.4 248.8 L1199.9 251.1 L1202.4 253.4 L1204.9 255.7 L1207.4 258.1 L1210.0 260.4 L1212.6 262.7 L1215.1 265.1 L1217.7 267.5 L1220.3 269.8 L1223.0 272.2 L1225.6 274.6 L1228.3 277.1 L1231.0 279.5 L1233.7 281.9 L1236.4 284.4 L1239.1 286.8 L1241.9 289.3 L1244.6 291.7 L1247.4 294.2 L1250.2 296.7 L1253.0 299.1 L1255.8 301.6 L1258.7 304.1 L1261.5 306.5 L1264.4 309.0 L1267.3 311.5 L1270.2 313.9 L1273.1 316.4 L1276.0 318.9 L1279.0 321.4 L1281.9 323.9 L1284.9 326.4 L1287.9 328.9 L1290.9 331.5 L1293.9 334.0 L1297.0 336.6 L1300.0 339.3 L1303.1 341.9 L1306.1 344.6 L1309.2 347.2 L1312.3 349.9 L1315.5 352.6 L1318.6 355.4 L1321.7 358.1 L1324.9 360.8 L1328.1 363.6 L1331.3 366.4 L1334.5 369.2 L1337.7 371.9 L1340.9 374.7 L1344.2 377.5 L1347.4 380.3 L1350.7 383.1 L1354.0 385.9 L1357.3 388.7 L1360.6 391.5 L1363.9 394.3 L1367.3 397.1 L1370.6 399.9 L1374.0 402.6 L1377.4 405.4 L1380.8 408.2 L1384.2 410.9 L1387.6 413.7 L1391.0 416.4 L1394.5 419.2 L1397.9 421.9 L1401.4 424.7 L1404.9 427.4 L1408.4 430.2 L1411.9 432.9 L1415.4 435.7 L1418.9 438.4 L1422.5 441.2 L1426.0 443.9 L1429.6 446.7 L1433.2 449.4 L1436.8 452.2 L1440.4 455.0 L1444.0 457.7 L1447.6 460.5 L1451.3 463.3 L1454.9 466.1 L1458.6 468.9 L1462.3 471.7 L1465.9 474.5 L1469.6 477.3 L1473.4 480.1 L1477.1 483.0 L1480.8 485.9 L1484.6 488.7 L1488.3 491.6 L1492.1 494.5 L1495.9 497.5 L1499.7 500.5 L1503.5 503.4 L1507.3 506.5 L1511.1 509.5 L1515.0 512.6 L1518.8 515.7 L1522.7 518.9 L1526.6 522.1 L1530.5 525.3 L1534.4 528.6 L1538.3 531.9 L1542.2 535.3 L1546.1 538.7 L1550.1 542.2 L1554.0 545.6 L1558.0 549.1 L1562.0 552.7 L1566.0 556.2 L1570.0 559.7 L1574.0 563.3 L1578.0 566.8 L1582.0 570.3 L1586.1 573.8 L1590.1 577.3 L1594.2 580.8 L1598.3 584.2 L1602.4 587.5 L1606.5 590.8 L1610.6 594.1 L1614.7 597.2 L1618.8 600.3 L1623.0 603.4 L1627.1 606.3 L1631.3 609.3 L1635.4 612.2 L1639.6 615.1" stroke="#006d2c" stroke-width="7" fill="none" stroke-linejoin="round" stroke-dasharray="6.5 3.8"/>
<path d="M1084.0 614.5 L1084.2 613.7 L1084.6 612.2 L1085.0 610.4 L1085.6 608.1 L1086.2 605.7 L1086.9 602.9 L1087.7 600.0 L1088.5 596.8 L1089.3 593.5 L1090.3 590.0 L1091.2 586.4 L1092.2 582.6 L1093.3 578.7 L1094.4 574.7 L1095.5 570.6 L1096.7 566.4 L1097.9 562.1 L1099.1 557.8 L1100.4 553.3 L1101.7 548.8 L1103.0 544.2 L1104.4 539.5 L1105.8 534.8 L1107.3 530.0 L1108.7 525.2 L1110.2 520.3 L1111.8 515.3 L1113.3 510.4 L1114.9 505.4 L1116.5 500.3 L1118.2 495.2 L1119.8 490.1 L1121.5 485.0 L1123.2 479.8 L1125.0 474.6 L1126.8 469.4 L1128.5 464.2 L1130.4 458.9 L1132.2 453.6 L1134.1 448.3 L1136.0 443.0 L1137.9 437.7 L1139.8 432.4 L1141.8 427.1 L1143.7 421.8 L1145.8 416.4 L1147.8 411.1 L1149.8 405.8 L1151.9 400.4 L1154.0 395.1 L1156.1 389.8 L1158.2 384.5 L1160.4 379.2 L1162.5 373.9 L1164.7 368.6 L1166.9 363.4 L1169.2 358.2 L1171.4 352.9 L1173.7 347.7 L1176.0 342.6 L1178.3 337.4 L1180.6 332.3 L1183.0 327.1 L1185.3 322.1 L1187.7 317.0 L1190.1 312.0 L1192.5 307.0 L1195.0 302.0 L1197.4 297.1 L1199.9 292.2 L1202.4 287.4 L1204.9 282.6 L1207.4 277.9 L1210.0 273.2 L1212.6 268.5 L1215.1 264.0 L1217.7 259.4 L1220.3 255.0 L1223.0 250.6 L1225.6 246.3 L1228.3 242.0 L1231.0 237.8 L1233.7 233.7 L1236.4 229.6 L1239.1 225.7 L1241.9 221.7 L1244.6 217.9 L1247.4 214.1 L1250.2 210.4 L1253.0 206.8 L1255.8 203.2 L1258.7 199.7 L1261.5 196.3 L1264.4 192.9 L1267.3 189.6 L1270.2 186.4 L1273.1 183.3 L1276.0 180.2 L1279.0 177.3 L1281.9 174.4 L1284.9 171.7 L1287.9 169.0 L1290.9 166.5 L1293.9 164.1 L1297.0 161.8 L1300.0 159.7 L1303.1 157.6 L1306.1 155.7 L1309.2 154.0 L1312.3 152.3 L1315.5 150.8 L1318.6 149.4 L1321.7 148.1 L1324.9 147.0 L1328.1 146.0 L1331.3 145.1 L1334.5 144.3 L1337.7 143.7 L1340.9 143.2 L1344.2 142.8 L1347.4 142.5 L1350.7 142.4 L1354.0 142.4 L1357.3 142.4 L1360.6 142.6 L1363.9 142.9 L1367.3 143.3 L1370.6 143.9 L1374.0 144.5 L1377.4 145.2 L1380.8 146.1 L1384.2 147.0 L1387.6 148.1 L1391.0 149.3 L1394.5 150.6 L1397.9 152.1 L1401.4 153.7 L1404.9 155.3 L1408.4 157.2 L1411.9 159.1 L1415.4 161.2 L1418.9 163.4 L1422.5 165.7 L1426.0 168.2 L1429.6 170.8 L1433.2 173.6 L1436.8 176.5 L1440.4 179.6 L1444.0 182.8 L1447.6 186.2 L1451.3 189.7 L1454.9 193.4 L1458.6 197.2 L1462.3 201.2 L1465.9 205.4 L1469.6 209.8 L1473.4 214.3 L1477.1 219.0 L1480.8 224.0 L1484.6 229.1 L1488.3 234.4 L1492.1 240.0 L1495.9 245.8 L1499.7 251.8 L1503.5 258.1 L1507.3 264.6 L1511.1 271.4 L1515.0 278.5 L1518.8 285.9 L1522.7 293.6 L1526.6 301.5 L1530.5 309.9 L1534.4 318.5 L1538.3 327.5 L1542.2 336.9 L1546.1 346.5 L1550.1 356.6 L1554.0 366.9 L1558.0 377.5 L1562.0 388.4 L1566.0 399.6 L1570.0 410.9 L1574.0 422.5 L1578.0 434.3 L1582.0 446.2 L1586.1 458.3 L1590.1 470.5 L1594.2 482.8 L1598.3 495.1 L1602.4 507.5 L1606.5 519.8 L1610.6 532.1 L1614.7 544.4 L1616.6 550.0" stroke="#006d2c" stroke-width="7" fill="none" stroke-linejoin="round" stroke-dasharray="6.5 3.8"/>
<path d="M138.0 837.8 L138.1 838.9 L138.3 840.9 L138.6 843.2 L139.0 845.7 L139.4 848.3 L139.8 850.8 L140.3 853.4 L140.8 855.9 L141.3 858.3 L141.8 860.7 L142.4 863.0 L143.1 865.3 L143.7 867.5 L144.4 869.6 L145.1 871.8 L145.8 873.9 L146.5 875.9 L147.3 878.0 L148.1 880.0 L148.9 881.9 L149.7 883.9 L150.6 885.8 L151.4 887.7 L152.3 889.6 L153.2 891.5 L154.1 893.3 L155.1 895.2 L156.0 897.0 L157.0 898.8 L158.0 900.6 L159.0 902.4 L160.0 904.2 L161.1 906.0 L162.1 907.8 L163.2 909.6 L164.3 911.3 L165.4 913.1 L166.5 914.9 L167.6 916.6 L168.8 918.4 L169.9 920.1 L171.1 921.9 L172.3 923.6 L173.5 925.3 L174.7 927.1 L176.0 928.8 L177.2 930.5 L178.5 932.3 L179.7 934.0 L181.0 935.7 L182.3 937.4 L183.6 939.1 L185.0 940.9 L186.3 942.6 L187.6 944.3 L189.0 946.0 L190.4 947.7 L191.8 949.4 L193.1 951.1 L194.6 952.9 L196.0 954.6 L197.4 956.3 L198.8 958.0 L200.3 959.7 L201.8 961.5 L203.2 963.2 L204.7 964.9 L206.2 966.7 L207.7 968.4 L209.3 970.1 L210.8 971.9 L212.3 973.6 L213.9 975.4 L215.5 977.2 L217.0 978.9 L218.6 980.7 L220.2 982.5 L221.8 984.3 L223.4 986.1 L225.1 987.9 L226.7 989.7 L228.4 991.6 L230.0 993.4 L231.7 995.2 L233.4 997.1 L235.0 999.0 L236.7 1000.9 L238.5 1002.8 L240.2 1004.7 L241.9 1006.6 L243.6 1008.5 L245.4 1010.5 L247.1 1012.4 L248.9 1014.4 L250.7 1016.4 L252.5 1018.4 L254.3 1020.4 L256.1 1022.4 L257.9 1024.4 L259.7 1026.4 L261.5 1028.5 L263.4 1030.5 L265.2 1032.6 L267.1 1034.7 L268.9 1036.8 L270.8 1038.9 L272.7 1041.0 L274.6 1043.1 L276.5 1045.2 L278.4 1047.3 L280.3 1049.5 L282.2 1051.6 L284.2 1053.8 L286.1 1056.0 L288.1 1058.1 L290.0 1060.3 L292.0 1062.5 L294.0 1064.7 L296.0 1066.9 L298.0 1069.2 L300.0 1071.4 L302.0 1073.6 L304.0 1075.9 L306.0 1078.1 L308.1 1080.4 L310.1 1082.6 L312.2 1084.9 L314.2 1087.1 L316.3 1089.4 L318.4 1091.7 L320.5 1094.0 L322.5 1096.3 L324.6 1098.6 L326.8 1100.9 L328.9 1103.2 L331.0 1105.5 L333.1 1107.8 L335.3 1110.1 L337.4 1112.4 L339.6 1114.7 L341.7 1117.0 L343.9 1119.3 L346.1 1121.6 L348.3 1124.0 L350.5 1126.3 L352.7 1128.6 L354.9 1131.0 L357.1 1133.3 L359.3 1135.6 L361.6 1138.0 L363.8 1140.4 L366.0 1142.7 L368.3 1145.1 L370.6 1147.5 L372.8 1149.9 L375.1 1152.4 L377.4 1154.8 L379.7 1157.3 L382.0 1159.7 L384.3 1162.2 L386.6 1164.8 L388.9 1167.3 L391.2 1169.9 L393.6 1172.5 L395.9 1175.1 L398.3 1177.7 L400.6 1180.4 L403.0 1183.0 L405.3 1185.8 L407.7 1188.5 L410.1 1191.3 L412.5 1194.0 L414.9 1196.9 L417.3 1199.7 L419.7 1202.6 L422.1 1205.5 L424.5 1208.4 L427.0 1211.4 L429.4 1214.5 L431.9 1217.5 L434.3 1220.7 L436.8 1223.9 L439.2 1227.2 L441.7 1230.5 L444.2 1233.9 L446.7 1237.4 L449.2 1241.0 L451.7 1244.7 L454.2 1248.5 L456.7 1252.3 L459.2 1256.3 L461.7 1260.4 L464.3 1264.7 L466.8 1269.1 L469.4 1273.6 L471.9 1278.2 L474.5 1283.1 L477.0 1288.1 L479.6 1293.3" stroke="#cb181d" stroke-width="7" fill="none" stroke-linejoin="round"/>
<path d="M138.0 1324.0 L138.1 1323.5 L138.3 1322.7 L138.6 1321.7 L139.0 1320.4 L139.4 1319.0 L139.8 1317.5 L140.3 1315.9 L140.8 1314.1 L141.3 1312.3 L141.8 1310.4 L142.4 1308.3 L143.1 1306.2 L143.7 1304.1 L144.4 1301.8 L145.1 1299.5 L145.8 1297.2 L146.5 1294.8 L147.3 1292.3 L148.1 1289.8 L148.9 1287.2 L149.7 1284.6 L150.6 1281.9 L151.4 1279.2 L152.3 1276.5 L153.2 1273.7 L154.1 1270.8 L155.1 1268.0 L156.0 1265.1 L157.0 1262.2 L158.0 1259.2 L159.0 1256.3 L160.0 1253.3 L161.1 1250.2 L162.1 1247.2 L163.2 1244.1 L164.3 1241.0 L165.4 1237.9 L166.5 1234.8 L167.6 1231.6 L168.8 1228.5 L169.9 1225.3 L171.1 1222.1 L172.3 1218.9 L173.5 1215.7 L174.7 1212.5 L176.0 1209.2 L177.2 1206.0 L178.5 1202.7 L179.7 1199.5 L181.0 1196.2 L182.3 1192.9 L183.6 1189.7 L185.0 1186.4 L186.3 1183.1 L187.6 1179.8 L189.0 1176.5 L190.4 1173.3 L191.8 1170.0 L193.1 1166.7 L194.6 1163.4 L196.0 1160.2 L197.4 1156.9 L198.8 1153.6 L200.3 1150.4 L201.8 1147.1 L203.2 1143.9 L204.7 1140.7 L206.2 1137.5 L207.7 1134.3 L209.3 1131.1 L210.8 1127.9 L212.3 1124.7 L213.9 1121.6 L215.5 1118.5 L217.0 1115.4 L218.6 1112.3 L220.2 1109.2 L221.8 1106.1 L223.4 1103.1 L225.1 1100.1 L226.7 1097.1 L228.4 1094.2 L230.0 1091.3 L231.7 1088.4 L233.4 1085.5 L235.0 1082.7 L236.7 1079.9 L238.5 1077.1 L240.2 1074.4 L241.9 1071.7 L243.6 1069.1 L245.4 1066.4 L247.1 1063.9 L248.9 1061.3 L250.7 1058.8 L252.5 1056.4 L254.3 1054.0 L256.1 1051.6 L257.9 1049.3 L259.7 1047.0 L261.5 1044.8 L263.4 1042.6 L265.2 1040.4 L267.1 1038.3 L268.9 1036.3 L270.8 1034.3 L272.7 1032.4 L274.6 1030.5 L276.5 1028.6 L278.4 1026.9 L280.3 1025.1 L282.2 1023.5 L284.2 1021.9 L286.1 1020.3 L288.1 1018.8 L290.0 1017.3 L292.0 1016.0 L294.0 1014.6 L296.0 1013.4 L298.0 1012.1 L300.0 1011.0 L302.0 1009.9 L304.0 1008.9 L306.0 1007.9 L308.1 1007.0 L310.1 1006.2 L312.2 1005.4 L314.2 1004.7 L316.3 1004.0 L318.4 1003.5 L320.5 1002.9 L322.5 1002.5 L324.6 1002.1 L326.8 1001.8 L328.9 1001.5 L331.0 1001.3 L333.1 1001.2 L335.3 1001.1 L337.4 1001.1 L339.6 1001.2 L341.7 1001.4 L343.9 1001.6 L346.1 1001.9 L348.3 1002.2 L350.5 1002.6 L352.7 1003.1 L354.9 1003.7 L357.1 1004.4 L359.3 1005.1 L361.6 1005.9 L363.8 1006.8 L366.0 1007.8 L368.3 1008.9 L370.6 1010.0 L372.8 1011.3 L375.1 1012.7 L377.4 1014.2 L379.7 1015.7 L382.0 1017.4 L384.3 1019.2 L386.6 1021.2 L388.9 1023.2 L391.2 1025.4 L393.6 1027.7 L395.9 1030.1 L398.3 1032.7 L400.6 1035.4 L403.0 1038.3 L405.3 1041.3 L407.7 1044.4 L410.1 1047.7 L412.5 1051.1 L414.9 1054.7 L417.3 1058.4 L419.7 1062.3 L422.1 1066.4 L424.5 1070.6 L427.0 1075.1 L429.4 1079.8 L431.9 1084.7 L434.3 1089.8 L436.8 1095.2 L439.2 1100.8 L441.7 1106.7 L444.2 1113.0 L446.7 1119.5 L449.2 1126.4 L451.7 1133.6 L454.2 1141.3 L456.7 1149.3 L459.2 1157.7 L461.7 1166.6 L464.3 1175.9 L466.8 1185.8 L469.4 1196.2 L471.9 1207.1 L474.5 1218.7 L477.0 1230.8 L479.6 1243.7" stroke="#cb181d" stroke-width="7" fill="none" stroke-linejoin="round"/>
<path d="M138.0 837.3 L138.1 838.2 L138.4 839.7 L138.7 841.5 L139.0 843.6 L139.4 845.7 L139.9 848.0 L140.4 850.3 L140.9 852.5 L141.4 854.8 L142.0 857.1 L142.6 859.4 L143.3 861.6 L143.9 863.9 L144.6 866.1 L145.4 868.2 L146.1 870.4 L146.9 872.5 L147.7 874.6 L148.5 876.7 L149.4 878.8 L150.2 880.9 L151.1 882.9 L152.0 884.9 L152.9 886.9 L153.9 888.9 L154.8 890.9 L155.8 892.8 L156.8 894.8 L157.8 896.7 L158.9 898.7 L159.9 900.6 L161.0 902.5 L162.1 904.4 L163.2 906.3 L164.3 908.2 L165.4 910.1 L166.6 912.0 L167.7 913.9 L168.9 915.8 L170.1 917.6 L171.3 919.5 L172.5 921.4 L173.8 923.2 L175.0 925.1 L176.3 926.9 L177.6 928.8 L178.9 930.6 L180.2 932.5 L181.5 934.3 L182.9 936.1 L184.2 938.0 L185.6 939.8 L187.0 941.6 L188.4 943.4 L189.8 945.3 L191.2 947.1 L192.6 948.9 L194.1 950.7 L195.5 952.5 L197.0 954.3 L198.5 956.2 L200.0 958.0 L201.5 959.8 L203.0 961.6 L204.5 963.4 L206.0 965.3 L207.6 967.1 L209.2 968.9 L210.7 970.7 L212.3 972.6 L213.9 974.4 L215.5 976.3 L217.1 978.1 L218.8 980.0 L220.4 981.8 L222.1 983.7 L223.7 985.6 L225.4 987.5 L227.1 989.3 L228.8 991.3 L230.5 993.2 L232.2 995.1 L234.0 997.0 L235.7 999.0 L237.4 1001.0 L239.2 1002.9 L241.0 1004.9 L242.8 1006.9 L244.5 1009.0 L246.3 1011.0 L248.2 1013.0 L250.0 1015.1 L251.8 1017.1 L253.7 1019.2 L255.5 1021.3 L257.4 1023.4 L259.2 1025.5 L261.1 1027.7 L263.0 1029.8 L264.9 1031.9 L266.8 1034.1 L268.7 1036.3 L270.7 1038.4 L272.6 1040.6 L274.5 1042.8 L276.5 1045.1 L278.5 1047.3 L280.4 1049.5 L282.4 1051.7 L284.4 1054.0 L286.4 1056.3 L288.4 1058.5 L290.4 1060.8 L292.5 1063.1 L294.5 1065.4 L296.5 1067.7 L298.6 1070.0 L300.7 1072.3 L302.7 1074.6 L304.8 1076.9 L306.9 1079.3 L309.0 1081.6 L311.1 1084.0 L313.2 1086.3 L315.3 1088.7 L317.5 1091.0 L319.6 1093.4 L321.8 1095.7 L323.9 1098.1 L326.1 1100.5 L328.3 1102.8 L330.5 1105.2 L332.6 1107.6 L334.8 1110.0 L337.1 1112.3 L339.3 1114.7 L341.5 1117.1 L343.7 1119.5 L346.0 1121.8 L348.2 1124.2 L350.5 1126.6 L352.7 1129.0 L355.0 1131.4 L357.3 1133.8 L359.6 1136.1 L361.9 1138.5 L364.2 1140.9 L366.5 1143.3 L368.8 1145.7 L371.1 1148.1 L373.5 1150.5 L375.8 1152.9 L378.2 1155.3 L380.5 1157.7 L382.9 1160.2 L385.3 1162.6 L387.6 1165.0 L390.0 1167.4 L392.4 1169.9 L394.8 1172.3 L397.2 1174.8 L399.7 1177.2 L402.1 1179.7 L404.5 1182.1 L407.0 1184.6 L409.4 1187.1 L411.9 1189.6 L414.3 1192.1 L416.8 1194.6 L419.3 1197.1 L421.8 1199.7 L424.3 1202.2 L426.8 1204.8 L429.3 1207.3 L431.8 1209.9 L434.3 1212.5 L436.8 1215.1 L439.4 1217.8 L441.9 1220.5 L444.5 1223.2 L447.0 1225.9 L449.6 1228.7 L452.2 1231.5 L454.7 1234.3 L457.3 1237.3 L459.9 1240.3 L462.5 1243.4 L465.1 1246.6 L467.7 1249.9 L470.3 1253.4 L473.0 1257.0 L475.6 1260.9 L478.3 1265.1 L480.9 1269.5 L483.6 1274.4 L486.2 1279.6 L488.9 1285.5 L491.6 1291.9 L494.2 1299.2" stroke="#cb181d" stroke-width="7" fill="none" stroke-linejoin="round" stroke-dasharray="6.5 3.8"/>
<path d="M138.0 1324.0 L138.1 1323.5 L138.4 1322.7 L138.7 1321.6 L139.0 1320.3 L139.4 1318.8 L139.9 1317.2 L140.4 1315.5 L140.9 1313.6 L141.4 1311.7 L142.0 1309.7 L142.6 1307.5 L143.3 1305.3 L143.9 1303.1 L144.6 1300.7 L145.4 1298.3 L146.1 1295.8 L146.9 1293.3 L147.7 1290.7 L148.5 1288.0 L149.4 1285.3 L150.2 1282.6 L151.1 1279.8 L152.0 1277.0 L152.9 1274.1 L153.9 1271.2 L154.8 1268.3 L155.8 1265.3 L156.8 1262.3 L157.8 1259.2 L158.9 1256.2 L159.9 1253.1 L161.0 1249.9 L162.1 1246.8 L163.2 1243.6 L164.3 1240.4 L165.4 1237.2 L166.6 1234.0 L167.7 1230.7 L168.9 1227.5 L170.1 1224.2 L171.3 1220.9 L172.5 1217.6 L173.8 1214.3 L175.0 1211.0 L176.3 1207.6 L177.6 1204.3 L178.9 1200.9 L180.2 1197.6 L181.5 1194.2 L182.9 1190.9 L184.2 1187.5 L185.6 1184.1 L187.0 1180.8 L188.4 1177.4 L189.8 1174.0 L191.2 1170.7 L192.6 1167.3 L194.1 1163.9 L195.5 1160.6 L197.0 1157.2 L198.5 1153.9 L200.0 1150.5 L201.5 1147.2 L203.0 1143.9 L204.5 1140.6 L206.0 1137.3 L207.6 1134.0 L209.2 1130.7 L210.7 1127.4 L212.3 1124.2 L213.9 1121.0 L215.5 1117.7 L217.1 1114.6 L218.8 1111.4 L220.4 1108.2 L222.1 1105.1 L223.7 1102.0 L225.4 1098.9 L227.1 1095.9 L228.8 1092.9 L230.5 1089.9 L232.2 1086.9 L234.0 1084.0 L235.7 1081.1 L237.4 1078.2 L239.2 1075.4 L241.0 1072.6 L242.8 1069.9 L244.5 1067.2 L246.3 1064.5 L248.2 1061.9 L250.0 1059.3 L251.8 1056.8 L253.7 1054.3 L255.5 1051.9 L257.4 1049.5 L259.2 1047.2 L261.1 1044.9 L263.0 1042.6 L264.9 1040.5 L266.8 1038.3 L268.7 1036.2 L270.7 1034.2 L272.6 1032.2 L274.5 1030.3 L276.5 1028.5 L278.5 1026.6 L280.4 1024.9 L282.4 1023.2 L284.4 1021.6 L286.4 1020.0 L288.4 1018.5 L290.4 1017.1 L292.5 1015.7 L294.5 1014.4 L296.5 1013.1 L298.6 1011.9 L300.7 1010.8 L302.7 1009.7 L304.8 1008.7 L306.9 1007.8 L309.0 1006.9 L311.1 1006.1 L313.2 1005.4 L315.3 1004.7 L317.5 1004.1 L319.6 1003.6 L321.8 1003.1 L323.9 1002.7 L326.1 1002.3 L328.3 1002.1 L330.5 1001.9 L332.6 1001.8 L334.8 1001.7 L337.1 1001.7 L339.3 1001.8 L341.5 1001.9 L343.7 1002.1 L346.0 1002.4 L348.2 1002.7 L350.5 1003.2 L352.7 1003.6 L355.0 1004.2 L357.3 1004.8 L359.6 1005.6 L361.9 1006.4 L364.2 1007.2 L366.5 1008.2 L368.8 1009.2 L371.1 1010.3 L373.5 1011.5 L375.8 1012.7 L378.2 1014.1 L380.5 1015.5 L382.9 1017.0 L385.3 1018.6 L387.6 1020.3 L390.0 1022.1 L392.4 1024.0 L394.8 1026.0 L397.2 1028.0 L399.7 1030.2 L402.1 1032.4 L404.5 1034.8 L407.0 1037.2 L409.4 1039.7 L411.9 1042.4 L414.3 1045.1 L416.8 1048.0 L419.3 1051.0 L421.8 1054.1 L424.3 1057.3 L426.8 1060.6 L429.3 1064.0 L431.8 1067.6 L434.3 1071.3 L436.8 1075.1 L439.4 1079.1 L441.9 1083.3 L444.5 1087.6 L447.0 1092.1 L449.6 1096.7 L452.2 1101.6 L454.7 1106.7 L457.3 1112.1 L459.9 1117.8 L462.5 1123.8 L465.1 1130.2 L467.7 1137.1 L470.3 1144.4 L473.0 1152.4 L475.6 1161.1 L478.3 1170.6 L480.9 1181.1 L483.6 1192.8 L486.2 1205.8 L488.9 1220.5 L491.6 1237.2 L494.2 1256.3" stroke="#cb181d" stroke-width="7" fill="none" stroke-linejoin="round" stroke-dasharray="6.5 3.8"/>
<path d="M138.0 824.8 L138.1 825.3 L138.4 826.2 L138.8 827.4 L139.2 828.8 L139.6 830.3 L140.1 832.0 L140.7 833.7 L141.3 835.6 L141.9 837.5 L142.6 839.5 L143.3 841.6 L144.1 843.7 L144.8 845.8 L145.6 848.0 L146.5 850.2 L147.3 852.4 L148.2 854.6 L149.1 856.9 L150.1 859.1 L151.0 861.4 L152.0 863.6 L153.0 865.9 L154.1 868.1 L155.1 870.3 L156.2 872.6 L157.3 874.8 L158.5 877.0 L159.6 879.2 L160.8 881.4 L162.0 883.6 L163.2 885.7 L164.4 887.9 L165.6 890.0 L166.9 892.2 L168.2 894.3 L169.5 896.4 L170.8 898.5 L172.1 900.5 L173.5 902.6 L174.9 904.7 L176.3 906.7 L177.7 908.7 L179.1 910.7 L180.5 912.7 L182.0 914.7 L183.5 916.7 L185.0 918.7 L186.5 920.6 L188.0 922.6 L189.5 924.5 L191.1 926.4 L192.7 928.4 L194.2 930.3 L195.8 932.2 L197.5 934.1 L199.1 936.0 L200.7 937.9 L202.4 939.8 L204.1 941.6 L205.7 943.5 L207.5 945.4 L209.2 947.3 L210.9 949.1 L212.6 951.0 L214.4 952.9 L216.2 954.7 L217.9 956.6 L219.7 958.5 L221.6 960.3 L223.4 962.2 L225.2 964.1 L227.1 965.9 L228.9 967.8 L230.8 969.7 L232.7 971.6 L234.6 973.5 L236.5 975.4 L238.4 977.3 L240.4 979.2 L242.3 981.1 L244.3 983.1 L246.2 985.0 L248.2 987.0 L250.2 988.9 L252.2 990.9 L254.3 992.9 L256.3 994.8 L258.3 996.8 L260.4 998.9 L262.5 1000.9 L264.5 1002.9 L266.6 1004.9 L268.7 1007.0 L270.9 1009.1 L273.0 1011.1 L275.1 1013.2 L277.3 1015.3 L279.4 1017.4 L281.6 1019.6 L283.8 1021.7 L286.0 1023.8 L288.2 1026.0 L290.4 1028.2 L292.6 1030.3 L294.8 1032.5 L297.1 1034.7 L299.3 1037.0 L301.6 1039.2 L303.9 1041.4 L306.2 1043.7 L308.5 1046.0 L310.8 1048.2 L313.1 1050.5 L315.4 1052.8 L317.8 1055.1 L320.1 1057.5 L322.5 1059.8 L324.9 1062.1 L327.2 1064.5 L329.6 1066.9 L332.0 1069.3 L334.4 1071.6 L336.9 1074.0 L339.3 1076.5 L341.7 1078.9 L344.2 1081.3 L346.6 1083.8 L349.1 1086.2 L351.6 1088.7 L354.1 1091.1 L356.6 1093.6 L359.1 1096.1 L361.6 1098.6 L364.1 1101.1 L366.7 1103.6 L369.2 1106.2 L371.8 1108.7 L374.3 1111.2 L376.9 1113.8 L379.5 1116.4 L382.1 1118.9 L384.7 1121.5 L387.3 1124.1 L389.9 1126.8 L392.5 1129.4 L395.2 1132.0 L397.8 1134.7 L400.5 1137.4 L403.1 1140.1 L405.8 1142.8 L408.5 1145.6 L411.2 1148.3 L413.9 1151.1 L416.6 1153.9 L419.3 1156.7 L422.0 1159.6 L424.8 1162.5 L427.5 1165.4 L430.3 1168.3 L433.0 1171.3 L435.8 1174.3 L438.6 1177.3 L441.4 1180.3 L444.2 1183.4 L447.0 1186.5 L449.8 1189.7 L452.6 1192.8 L455.4 1196.1 L458.3 1199.3 L461.1 1202.6 L464.0 1205.9 L466.8 1209.3 L469.7 1212.7 L472.6 1216.1 L475.5 1219.5 L478.4 1223.0 L481.3 1226.5 L484.2 1230.0 L487.1 1233.5 L490.0 1237.0 L493.0 1240.6 L495.9 1244.1 L498.9 1247.7 L501.8 1251.2 L504.8 1254.8 L507.8 1258.4 L510.8 1262.0 L513.8 1265.6 L516.8 1269.2 L519.8 1272.8 L522.8 1276.4 L525.8 1280.0 L528.9 1283.7 L531.9 1287.3 L534.9 1291.0 L538.0 1294.7 L541.1 1298.4 L544.1 1302.2 L547.2 1305.9" stroke="#d95f0e" stroke-width="7" fill="none" stroke-linejoin="round"/>
<path d="M138.0 1324.0 L138.1 1323.4 L138.4 1322.4 L138.8 1321.1 L139.2 1319.6 L139.6 1317.8 L140.1 1315.9 L140.7 1313.9 L141.3 1311.7 L141.9 1309.4 L142.6 1306.9 L143.3 1304.4 L144.1 1301.7 L144.8 1299.0 L145.6 1296.2 L146.5 1293.3 L147.3 1290.3 L148.2 1287.3 L149.1 1284.2 L150.1 1281.1 L151.0 1277.9 L152.0 1274.6 L153.0 1271.3 L154.1 1267.9 L155.1 1264.5 L156.2 1261.1 L157.3 1257.6 L158.5 1254.1 L159.6 1250.5 L160.8 1246.9 L162.0 1243.3 L163.2 1239.6 L164.4 1236.0 L165.6 1232.3 L166.9 1228.5 L168.2 1224.8 L169.5 1221.0 L170.8 1217.2 L172.1 1213.4 L173.5 1209.5 L174.9 1205.7 L176.3 1201.8 L177.7 1197.9 L179.1 1194.0 L180.5 1190.1 L182.0 1186.2 L183.5 1182.3 L185.0 1178.3 L186.5 1174.4 L188.0 1170.4 L189.5 1166.5 L191.1 1162.5 L192.7 1158.6 L194.2 1154.6 L195.8 1150.6 L197.5 1146.6 L199.1 1142.7 L200.7 1138.7 L202.4 1134.7 L204.1 1130.8 L205.7 1126.8 L207.5 1122.8 L209.2 1118.9 L210.9 1114.9 L212.6 1111.0 L214.4 1107.1 L216.2 1103.2 L217.9 1099.3 L219.7 1095.4 L221.6 1091.5 L223.4 1087.7 L225.2 1083.9 L227.1 1080.0 L228.9 1076.3 L230.8 1072.5 L232.7 1068.7 L234.6 1065.0 L236.5 1061.3 L238.4 1057.7 L240.4 1054.0 L242.3 1050.4 L244.3 1046.8 L246.2 1043.3 L248.2 1039.8 L250.2 1036.3 L252.2 1032.9 L254.3 1029.5 L256.3 1026.1 L258.3 1022.8 L260.4 1019.5 L262.5 1016.3 L264.5 1013.1 L266.6 1010.0 L268.7 1006.9 L270.9 1003.9 L273.0 1000.9 L275.1 998.0 L277.3 995.1 L279.4 992.3 L281.6 989.6 L283.8 986.9 L286.0 984.2 L288.2 981.6 L290.4 979.1 L292.6 976.7 L294.8 974.3 L297.1 972.0 L299.3 969.7 L301.6 967.5 L303.9 965.4 L306.2 963.4 L308.5 961.4 L310.8 959.5 L313.1 957.7 L315.4 955.9 L317.8 954.2 L320.1 952.6 L322.5 951.1 L324.9 949.7 L327.2 948.3 L329.6 947.1 L332.0 945.9 L334.4 944.8 L336.9 943.7 L339.3 942.8 L341.7 942.0 L344.2 941.2 L346.6 940.5 L349.1 940.0 L351.6 939.5 L354.1 939.1 L356.6 938.8 L359.1 938.6 L361.6 938.5 L364.1 938.5 L366.7 938.5 L369.2 938.7 L371.8 939.0 L374.3 939.4 L376.9 939.8 L379.5 940.4 L382.1 941.1 L384.7 941.9 L387.3 942.9 L389.9 943.9 L392.5 945.1 L395.2 946.4 L397.8 947.8 L400.5 949.3 L403.1 951.0 L405.8 952.8 L408.5 954.8 L411.2 956.9 L413.9 959.1 L416.6 961.5 L419.3 964.0 L422.0 966.8 L424.8 969.6 L427.5 972.7 L430.3 975.9 L433.0 979.3 L435.8 982.8 L438.6 986.6 L441.4 990.5 L444.2 994.7 L447.0 999.0 L449.8 1003.6 L452.6 1008.3 L455.4 1013.3 L458.3 1018.5 L461.1 1023.9 L464.0 1029.5 L466.8 1035.4 L469.7 1041.5 L472.6 1047.8 L475.5 1054.3 L478.4 1061.0 L481.3 1068.0 L484.2 1075.0 L487.1 1082.3 L490.0 1089.8 L493.0 1097.4 L495.9 1105.3 L498.9 1113.3 L501.8 1121.5 L504.8 1129.8 L507.8 1138.4 L510.8 1147.1 L513.8 1156.0 L516.8 1165.1 L519.8 1174.4 L522.8 1183.8 L525.8 1193.5 L528.9 1203.4 L531.9 1213.5 L534.9 1223.8 L538.0 1234.3 L541.1 1245.1 L544.1 1256.1 L547.2 1267.4" stroke="#d95f0e" stroke-width="7" fill="none" stroke-linejoin="round"/>
<path d="M138.0 817.8 L138.2 818.6 L138.5 820.1 L138.9 821.9 L139.3 823.9 L139.9 826.2 L140.4 828.5 L141.1 830.9 L141.8 833.3 L142.5 835.8 L143.3 838.3 L144.1 840.8 L144.9 843.4 L145.8 845.9 L146.7 848.4 L147.7 850.9 L148.7 853.3 L149.7 855.8 L150.7 858.2 L151.8 860.7 L152.9 863.1 L154.0 865.5 L155.2 867.9 L156.4 870.2 L157.6 872.6 L158.8 874.9 L160.1 877.3 L161.4 879.6 L162.7 881.9 L164.0 884.2 L165.4 886.5 L166.8 888.7 L168.2 891.0 L169.6 893.3 L171.0 895.5 L172.5 897.7 L174.0 900.0 L175.5 902.2 L177.0 904.4 L178.6 906.6 L180.1 908.8 L181.7 911.0 L183.3 913.2 L185.0 915.3 L186.6 917.5 L188.3 919.7 L190.0 921.8 L191.7 924.0 L193.4 926.1 L195.1 928.2 L196.9 930.4 L198.7 932.5 L200.5 934.6 L202.3 936.8 L204.1 938.9 L205.9 941.0 L207.8 943.1 L209.7 945.2 L211.6 947.3 L213.5 949.4 L215.4 951.6 L217.4 953.7 L219.3 955.8 L221.3 957.9 L223.3 960.0 L225.3 962.1 L227.3 964.3 L229.4 966.4 L231.4 968.5 L233.5 970.7 L235.6 972.8 L237.7 975.0 L239.8 977.1 L241.9 979.3 L244.0 981.5 L246.2 983.6 L248.4 985.8 L250.5 988.0 L252.7 990.2 L255.0 992.5 L257.2 994.7 L259.4 997.0 L261.7 999.2 L264.0 1001.5 L266.2 1003.8 L268.5 1006.0 L270.8 1008.3 L273.2 1010.6 L275.5 1013.0 L277.9 1015.3 L280.2 1017.6 L282.6 1020.0 L285.0 1022.4 L287.4 1024.7 L289.8 1027.1 L292.2 1029.5 L294.7 1031.9 L297.1 1034.3 L299.6 1036.7 L302.1 1039.2 L304.6 1041.6 L307.1 1044.1 L309.6 1046.5 L312.1 1049.0 L314.7 1051.5 L317.2 1054.0 L319.8 1056.5 L322.4 1059.0 L325.0 1061.5 L327.6 1064.0 L330.2 1066.6 L332.8 1069.1 L335.4 1071.7 L338.1 1074.2 L340.7 1076.8 L343.4 1079.4 L346.1 1081.9 L348.8 1084.5 L351.5 1087.1 L354.2 1089.7 L357.0 1092.3 L359.7 1094.9 L362.5 1097.5 L365.2 1100.2 L368.0 1102.8 L370.8 1105.4 L373.6 1108.1 L376.4 1110.7 L379.2 1113.3 L382.1 1116.0 L384.9 1118.6 L387.8 1121.3 L390.6 1124.0 L393.5 1126.6 L396.4 1129.3 L399.3 1132.0 L402.2 1134.7 L405.1 1137.4 L408.0 1140.1 L411.0 1142.8 L413.9 1145.5 L416.9 1148.2 L419.9 1150.9 L422.8 1153.7 L425.8 1156.4 L428.8 1159.2 L431.9 1162.0 L434.9 1164.8 L437.9 1167.6 L441.0 1170.4 L444.0 1173.2 L447.1 1176.1 L450.2 1178.9 L453.2 1181.8 L456.3 1184.7 L459.4 1187.6 L462.6 1190.5 L465.7 1193.4 L468.8 1196.4 L472.0 1199.3 L475.1 1202.3 L478.3 1205.3 L481.5 1208.4 L484.6 1211.4 L487.8 1214.5 L491.0 1217.5 L494.3 1220.6 L497.5 1223.7 L500.7 1226.9 L504.0 1230.0 L507.2 1233.1 L510.5 1236.2 L513.7 1239.3 L517.0 1242.4 L520.3 1245.4 L523.6 1248.5 L526.9 1251.5 L530.2 1254.5 L533.6 1257.6 L536.9 1260.6 L540.3 1263.5 L543.6 1266.5 L547.0 1269.5 L550.4 1272.5 L553.7 1275.5 L557.1 1278.5 L560.5 1281.6 L564.0 1284.6 L567.4 1287.6 L570.8 1290.6 L574.2 1293.6 L577.7 1296.7 L581.2 1299.7 L584.6 1302.7 L588.1 1305.8 L591.6 1308.8 L595.1 1311.9 L598.6 1315.0 L602.1 1318.0 L605.6 1321.1" stroke="#d95f0e" stroke-width="7" fill="none" stroke-linejoin="round" stroke-dasharray="6.5 3.8"/>
<path d="M138.0 1324.0 L138.2 1323.4 L138.5 1322.2 L138.9 1320.7 L139.3 1318.9 L139.9 1316.9 L140.4 1314.7 L141.1 1312.4 L141.8 1309.9 L142.5 1307.2 L143.3 1304.4 L144.1 1301.5 L144.9 1298.5 L145.8 1295.4 L146.7 1292.2 L147.7 1289.0 L148.7 1285.6 L149.7 1282.2 L150.7 1278.7 L151.8 1275.1 L152.9 1271.5 L154.0 1267.8 L155.2 1264.0 L156.4 1260.2 L157.6 1256.4 L158.8 1252.5 L160.1 1248.5 L161.4 1244.5 L162.7 1240.5 L164.0 1236.5 L165.4 1232.4 L166.8 1228.3 L168.2 1224.1 L169.6 1219.9 L171.0 1215.7 L172.5 1211.5 L174.0 1207.3 L175.5 1203.0 L177.0 1198.7 L178.6 1194.5 L180.1 1190.1 L181.7 1185.8 L183.3 1181.5 L185.0 1177.2 L186.6 1172.8 L188.3 1168.5 L190.0 1164.1 L191.7 1159.7 L193.4 1155.4 L195.1 1151.0 L196.9 1146.7 L198.7 1142.3 L200.5 1137.9 L202.3 1133.6 L204.1 1129.2 L205.9 1124.9 L207.8 1120.6 L209.7 1116.3 L211.6 1112.0 L213.5 1107.7 L215.4 1103.4 L217.4 1099.2 L219.3 1094.9 L221.3 1090.7 L223.3 1086.5 L225.3 1082.3 L227.3 1078.2 L229.4 1074.1 L231.4 1070.0 L233.5 1065.9 L235.6 1061.9 L237.7 1057.9 L239.8 1053.9 L241.9 1050.0 L244.0 1046.1 L246.2 1042.3 L248.4 1038.5 L250.5 1034.7 L252.7 1031.0 L255.0 1027.4 L257.2 1023.7 L259.4 1020.2 L261.7 1016.7 L264.0 1013.2 L266.2 1009.8 L268.5 1006.5 L270.8 1003.2 L273.2 1000.0 L275.5 996.8 L277.9 993.7 L280.2 990.7 L282.6 987.7 L285.0 984.8 L287.4 982.0 L289.8 979.2 L292.2 976.5 L294.7 973.9 L297.1 971.3 L299.6 968.9 L302.1 966.5 L304.6 964.2 L307.1 961.9 L309.6 959.8 L312.1 957.7 L314.7 955.7 L317.2 953.8 L319.8 952.0 L322.4 950.2 L325.0 948.6 L327.6 947.0 L330.2 945.5 L332.8 944.1 L335.4 942.8 L338.1 941.6 L340.7 940.5 L343.4 939.5 L346.1 938.6 L348.8 937.8 L351.5 937.1 L354.2 936.4 L357.0 935.9 L359.7 935.5 L362.5 935.1 L365.2 934.9 L368.0 934.8 L370.8 934.7 L373.6 934.8 L376.4 935.0 L379.2 935.2 L382.1 935.6 L384.9 936.1 L387.8 936.7 L390.6 937.4 L393.5 938.2 L396.4 939.1 L399.3 940.2 L402.2 941.3 L405.1 942.6 L408.0 944.0 L411.0 945.5 L413.9 947.2 L416.9 948.9 L419.9 950.8 L422.8 952.9 L425.8 955.0 L428.8 957.3 L431.9 959.8 L434.9 962.4 L437.9 965.1 L441.0 968.0 L444.0 971.0 L447.1 974.2 L450.2 977.5 L453.2 981.0 L456.3 984.7 L459.4 988.5 L462.6 992.5 L465.7 996.6 L468.8 1001.0 L472.0 1005.5 L475.1 1010.2 L478.3 1015.1 L481.5 1020.1 L484.6 1025.4 L487.8 1030.8 L491.0 1036.5 L494.3 1042.3 L497.5 1048.3 L500.7 1054.4 L504.0 1060.7 L507.2 1067.2 L510.5 1073.7 L513.7 1080.5 L517.0 1087.3 L520.3 1094.2 L523.6 1101.3 L526.9 1108.4 L530.2 1115.6 L533.6 1122.9 L536.9 1130.4 L540.3 1138.0 L543.6 1145.7 L547.0 1153.6 L550.4 1161.7 L553.7 1169.9 L557.1 1178.3 L560.5 1186.8 L564.0 1195.5 L567.4 1204.4 L570.8 1213.4 L574.2 1222.7 L577.7 1232.0 L581.2 1241.6 L584.6 1251.4 L588.1 1261.3 L591.6 1271.4 L595.1 1281.7 L598.6 1292.1 L599.5 1294.9" stroke="#d95f0e" stroke-width="7" fill="none" stroke-linejoin="round" stroke-dasharray="6.5 3.8"/>
<path d="M138.0 806.7 L138.2 807.2 L138.4 808.3 L138.8 809.6 L139.3 811.2 L139.8 812.9 L140.3 814.8 L140.9 816.8 L141.6 818.9 L142.3 821.0 L143.0 823.3 L143.8 825.6 L144.6 827.9 L145.4 830.3 L146.3 832.7 L147.2 835.1 L148.2 837.6 L149.1 840.0 L150.1 842.5 L151.1 844.9 L152.2 847.4 L153.3 849.9 L154.4 852.3 L155.5 854.8 L156.7 857.2 L157.8 859.6 L159.0 862.0 L160.3 864.4 L161.5 866.8 L162.8 869.2 L164.1 871.5 L165.4 873.9 L166.7 876.2 L168.1 878.5 L169.5 880.8 L170.9 883.0 L172.3 885.3 L173.7 887.5 L175.2 889.7 L176.7 891.9 L178.2 894.1 L179.7 896.3 L181.2 898.4 L182.8 900.5 L184.3 902.6 L185.9 904.7 L187.5 906.8 L189.2 908.9 L190.8 910.9 L192.5 913.0 L194.1 915.0 L195.8 917.0 L197.5 919.0 L199.3 921.0 L201.0 923.0 L202.8 925.0 L204.5 926.9 L206.3 928.9 L208.1 930.8 L209.9 932.8 L211.8 934.7 L213.6 936.7 L215.5 938.6 L217.4 940.6 L219.3 942.5 L221.2 944.5 L223.1 946.4 L225.1 948.3 L227.0 950.3 L229.0 952.2 L231.0 954.2 L233.0 956.2 L235.0 958.1 L237.0 960.1 L239.1 962.1 L241.1 964.0 L243.2 966.0 L245.3 968.0 L247.4 970.0 L249.5 972.0 L251.6 974.0 L253.7 976.1 L255.9 978.1 L258.0 980.1 L260.2 982.2 L262.4 984.2 L264.6 986.3 L266.8 988.4 L269.0 990.5 L271.3 992.6 L273.5 994.7 L275.8 996.8 L278.1 998.9 L280.4 1001.0 L282.7 1003.2 L285.0 1005.3 L287.3 1007.5 L289.7 1009.6 L292.0 1011.8 L294.4 1014.0 L296.7 1016.2 L299.1 1018.4 L301.5 1020.6 L303.9 1022.8 L306.4 1025.0 L308.8 1027.2 L311.2 1029.5 L313.7 1031.7 L316.2 1034.0 L318.7 1036.2 L321.1 1038.5 L323.7 1040.7 L326.2 1043.0 L328.7 1045.3 L331.2 1047.6 L333.8 1049.8 L336.3 1052.1 L338.9 1054.4 L341.5 1056.7 L344.1 1059.0 L346.7 1061.3 L349.3 1063.6 L351.9 1065.9 L354.6 1068.3 L357.2 1070.6 L359.9 1073.0 L362.5 1075.3 L365.2 1077.7 L367.9 1080.1 L370.6 1082.4 L373.3 1084.9 L376.0 1087.3 L378.8 1089.7 L381.5 1092.2 L384.2 1094.6 L387.0 1097.1 L389.8 1099.6 L392.6 1102.2 L395.4 1104.7 L398.2 1107.3 L401.0 1109.9 L403.8 1112.5 L406.6 1115.1 L409.5 1117.8 L412.3 1120.4 L415.2 1123.1 L418.1 1125.8 L420.9 1128.6 L423.8 1131.3 L426.7 1134.1 L429.6 1136.9 L432.6 1139.7 L435.5 1142.6 L438.4 1145.4 L441.4 1148.3 L444.3 1151.2 L447.3 1154.2 L450.3 1157.1 L453.3 1160.1 L456.3 1163.1 L459.3 1166.1 L462.3 1169.2 L465.3 1172.3 L468.4 1175.4 L471.4 1178.5 L474.5 1181.7 L477.5 1184.8 L480.6 1188.0 L483.7 1191.3 L486.8 1194.5 L489.9 1197.8 L493.0 1201.1 L496.1 1204.5 L499.2 1207.9 L502.4 1211.2 L505.5 1214.7 L508.7 1218.1 L511.8 1221.6 L515.0 1225.1 L518.2 1228.7 L521.4 1232.2 L524.6 1235.8 L527.8 1239.4 L531.0 1243.1 L534.2 1246.7 L537.5 1250.4 L540.7 1254.1 L544.0 1257.8 L547.2 1261.6 L550.5 1265.3 L553.8 1269.1 L557.0 1272.9 L560.3 1276.7 L563.6 1280.5 L567.0 1284.4 L570.3 1288.2 L573.6 1292.1 L576.9 1296.1 L580.3 1300.0 L583.6 1304.0" stroke="#238443" stroke-width="7" fill="none" stroke-linejoin="round"/>
<path d="M138.0 1324.0 L138.2 1323.4 L138.4 1322.2 L138.8 1320.8 L139.3 1319.0 L139.8 1317.1 L140.3 1314.9 L140.9 1312.6 L141.6 1310.1 L142.3 1307.5 L143.0 1304.8 L143.8 1301.9 L144.6 1299.0 L145.4 1295.9 L146.3 1292.7 L147.2 1289.5 L148.2 1286.2 L149.1 1282.8 L150.1 1279.3 L151.1 1275.8 L152.2 1272.2 L153.3 1268.6 L154.4 1264.9 L155.5 1261.1 L156.7 1257.3 L157.8 1253.5 L159.0 1249.6 L160.3 1245.7 L161.5 1241.7 L162.8 1237.7 L164.1 1233.7 L165.4 1229.6 L166.7 1225.6 L168.1 1221.4 L169.5 1217.3 L170.9 1213.1 L172.3 1208.9 L173.7 1204.7 L175.2 1200.5 L176.7 1196.2 L178.2 1191.9 L179.7 1187.6 L181.2 1183.3 L182.8 1179.0 L184.3 1174.6 L185.9 1170.3 L187.5 1165.9 L189.2 1161.6 L190.8 1157.2 L192.5 1152.8 L194.1 1148.4 L195.8 1144.0 L197.5 1139.6 L199.3 1135.2 L201.0 1130.7 L202.8 1126.3 L204.5 1121.9 L206.3 1117.5 L208.1 1113.1 L209.9 1108.7 L211.8 1104.3 L213.6 1099.9 L215.5 1095.5 L217.4 1091.1 L219.3 1086.8 L221.2 1082.4 L223.1 1078.1 L225.1 1073.8 L227.0 1069.5 L229.0 1065.2 L231.0 1061.0 L233.0 1056.7 L235.0 1052.5 L237.0 1048.3 L239.1 1044.2 L241.1 1040.1 L243.2 1035.9 L245.3 1031.9 L247.4 1027.8 L249.5 1023.8 L251.6 1019.9 L253.7 1015.9 L255.9 1012.1 L258.0 1008.2 L260.2 1004.4 L262.4 1000.6 L264.6 996.9 L266.8 993.2 L269.0 989.6 L271.3 986.0 L273.5 982.5 L275.8 979.0 L278.1 975.6 L280.4 972.2 L282.7 968.9 L285.0 965.6 L287.3 962.4 L289.7 959.3 L292.0 956.2 L294.4 953.1 L296.7 950.2 L299.1 947.2 L301.5 944.4 L303.9 941.6 L306.4 938.9 L308.8 936.2 L311.2 933.6 L313.7 931.1 L316.2 928.7 L318.7 926.3 L321.1 923.9 L323.7 921.7 L326.2 919.5 L328.7 917.4 L331.2 915.4 L333.8 913.4 L336.3 911.5 L338.9 909.7 L341.5 907.9 L344.1 906.2 L346.7 904.6 L349.3 903.1 L351.9 901.7 L354.6 900.3 L357.2 899.1 L359.9 897.9 L362.5 896.8 L365.2 895.8 L367.9 895.0 L370.6 894.2 L373.3 893.5 L376.0 892.9 L378.8 892.5 L381.5 892.1 L384.2 891.9 L387.0 891.8 L389.8 891.8 L392.6 892.0 L395.4 892.3 L398.2 892.7 L401.0 893.2 L403.8 893.9 L406.6 894.7 L409.5 895.7 L412.3 896.8 L415.2 898.0 L418.1 899.4 L420.9 901.0 L423.8 902.7 L426.7 904.5 L429.6 906.5 L432.6 908.7 L435.5 911.0 L438.4 913.5 L441.4 916.2 L444.3 919.1 L447.3 922.1 L450.3 925.3 L453.3 928.7 L456.3 932.2 L459.3 936.0 L462.3 939.9 L465.3 944.0 L468.4 948.4 L471.4 952.9 L474.5 957.6 L477.5 962.5 L480.6 967.7 L483.7 973.0 L486.8 978.6 L489.9 984.3 L493.0 990.3 L496.1 996.6 L499.2 1003.0 L502.4 1009.7 L505.5 1016.6 L508.7 1023.8 L511.8 1031.2 L515.0 1038.8 L518.2 1046.7 L521.4 1054.8 L524.6 1063.2 L527.8 1071.8 L531.0 1080.6 L534.2 1089.7 L537.5 1099.1 L540.7 1108.6 L544.0 1118.5 L547.2 1128.5 L550.5 1138.8 L553.8 1149.3 L557.0 1160.1 L560.3 1171.1 L563.6 1182.4 L567.0 1193.9 L570.3 1205.8 L573.6 1217.9 L576.9 1230.2 L580.3 1242.9 L583.6 1255.9" stroke="#238443" stroke-width="7" fill="none" stroke-linejoin="round"/>
<path d="M138.0 799.4 L138.2 800.2 L138.5 801.8 L138.9 803.7 L139.4 805.8 L140.0 808.2 L140.6 810.7 L141.3 813.3 L142.0 815.9 L142.8 818.6 L143.6 821.4 L144.5 824.1 L145.4 826.9 L146.3 829.6 L147.3 832.4 L148.3 835.1 L149.4 837.8 L150.5 840.5 L151.6 843.2 L152.7 845.9 L153.9 848.6 L155.1 851.2 L156.4 853.8 L157.6 856.4 L158.9 859.0 L160.2 861.5 L161.6 864.0 L163.0 866.6 L164.4 869.1 L165.8 871.5 L167.2 874.0 L168.7 876.4 L170.2 878.9 L171.7 881.3 L173.3 883.7 L174.8 886.1 L176.4 888.4 L178.0 890.8 L179.7 893.1 L181.3 895.5 L183.0 897.8 L184.7 900.1 L186.4 902.4 L188.2 904.7 L189.9 906.9 L191.7 909.2 L193.5 911.4 L195.3 913.7 L197.2 915.9 L199.0 918.1 L200.9 920.3 L202.8 922.5 L204.7 924.7 L206.6 926.9 L208.6 929.1 L210.6 931.3 L212.5 933.5 L214.5 935.6 L216.6 937.8 L218.6 940.0 L220.7 942.2 L222.7 944.4 L224.8 946.5 L226.9 948.7 L229.1 950.9 L231.2 953.1 L233.4 955.3 L235.5 957.5 L237.7 959.7 L239.9 961.9 L242.2 964.1 L244.4 966.3 L246.7 968.6 L248.9 970.8 L251.2 973.1 L253.5 975.3 L255.8 977.6 L258.2 979.8 L260.5 982.1 L262.9 984.4 L265.3 986.7 L267.7 989.0 L270.1 991.3 L272.5 993.6 L274.9 996.0 L277.4 998.3 L279.9 1000.7 L282.3 1003.0 L284.8 1005.4 L287.3 1007.8 L289.9 1010.2 L292.4 1012.6 L295.0 1015.0 L297.5 1017.4 L300.1 1019.8 L302.7 1022.3 L305.3 1024.7 L307.9 1027.2 L310.6 1029.6 L313.2 1032.1 L315.9 1034.6 L318.5 1037.1 L321.2 1039.6 L323.9 1042.1 L326.7 1044.6 L329.4 1047.2 L332.1 1049.7 L334.9 1052.3 L337.6 1054.8 L340.4 1057.4 L343.2 1060.0 L346.0 1062.6 L348.8 1065.2 L351.7 1067.8 L354.5 1070.4 L357.4 1073.0 L360.2 1075.6 L363.1 1078.3 L366.0 1080.9 L368.9 1083.5 L371.8 1086.2 L374.7 1088.9 L377.7 1091.5 L380.6 1094.2 L383.6 1096.9 L386.6 1099.6 L389.6 1102.3 L392.6 1105.0 L395.6 1107.7 L398.6 1110.4 L401.6 1113.1 L404.7 1115.9 L407.8 1118.6 L410.8 1121.3 L413.9 1124.1 L417.0 1126.8 L420.1 1129.6 L423.2 1132.4 L426.4 1135.2 L429.5 1138.0 L432.6 1140.8 L435.8 1143.6 L439.0 1146.4 L442.2 1149.2 L445.4 1152.1 L448.6 1154.9 L451.8 1157.8 L455.0 1160.7 L458.3 1163.5 L461.5 1166.4 L464.8 1169.3 L468.0 1172.3 L471.3 1175.2 L474.6 1178.1 L477.9 1181.1 L481.2 1184.1 L484.6 1187.1 L487.9 1190.1 L491.3 1193.1 L494.6 1196.1 L498.0 1199.2 L501.4 1202.2 L504.8 1205.3 L508.2 1208.4 L511.6 1211.5 L515.0 1214.6 L518.4 1217.8 L521.9 1220.9 L525.3 1224.1 L528.8 1227.3 L532.3 1230.5 L535.7 1233.8 L539.2 1237.0 L542.7 1240.2 L546.3 1243.5 L549.8 1246.7 L553.3 1250.0 L556.9 1253.2 L560.4 1256.5 L564.0 1259.7 L567.6 1262.9 L571.1 1266.1 L574.7 1269.4 L578.3 1272.6 L581.9 1275.8 L585.6 1279.0 L589.2 1282.2 L592.9 1285.4 L596.5 1288.6 L600.2 1291.8 L603.8 1295.0 L607.5 1298.2 L611.2 1301.4 L614.9 1304.6 L618.6 1307.9 L622.3 1311.1 L626.1 1314.3 L629.8 1317.5 L633.6 1320.8 L637.3 1324.0" stroke="#238443" stroke-width="7" fill="none" stroke-linejoin="round" stroke-dasharray="6.5 3.8"/>
<path d="M138.0 1324.0 L138.2 1323.3 L138.5 1322.0 L138.9 1320.3 L139.4 1318.4 L140.0 1316.2 L140.6 1313.7 L141.3 1311.1 L142.0 1308.4 L142.8 1305.4 L143.6 1302.4 L144.5 1299.2 L145.4 1295.9 L146.3 1292.5 L147.3 1289.0 L148.3 1285.4 L149.4 1281.7 L150.5 1277.9 L151.6 1274.0 L152.7 1270.1 L153.9 1266.1 L155.1 1262.1 L156.4 1258.0 L157.6 1253.8 L158.9 1249.6 L160.2 1245.3 L161.6 1241.0 L163.0 1236.7 L164.4 1232.3 L165.8 1227.8 L167.2 1223.4 L168.7 1218.9 L170.2 1214.4 L171.7 1209.8 L173.3 1205.2 L174.8 1200.6 L176.4 1196.0 L178.0 1191.3 L179.7 1186.7 L181.3 1182.0 L183.0 1177.3 L184.7 1172.6 L186.4 1167.8 L188.2 1163.1 L189.9 1158.4 L191.7 1153.6 L193.5 1148.8 L195.3 1144.1 L197.2 1139.3 L199.0 1134.5 L200.9 1129.8 L202.8 1125.0 L204.7 1120.3 L206.6 1115.5 L208.6 1110.8 L210.6 1106.0 L212.5 1101.3 L214.5 1096.6 L216.6 1091.9 L218.6 1087.2 L220.7 1082.5 L222.7 1077.9 L224.8 1073.3 L226.9 1068.7 L229.1 1064.1 L231.2 1059.5 L233.4 1055.0 L235.5 1050.5 L237.7 1046.0 L239.9 1041.6 L242.2 1037.2 L244.4 1032.8 L246.7 1028.5 L248.9 1024.2 L251.2 1020.0 L253.5 1015.8 L255.8 1011.7 L258.2 1007.6 L260.5 1003.5 L262.9 999.5 L265.3 995.6 L267.7 991.7 L270.1 987.8 L272.5 984.1 L274.9 980.3 L277.4 976.7 L279.9 973.1 L282.3 969.6 L284.8 966.1 L287.3 962.7 L289.9 959.4 L292.4 956.1 L295.0 952.9 L297.5 949.8 L300.1 946.8 L302.7 943.8 L305.3 940.9 L307.9 938.1 L310.6 935.4 L313.2 932.8 L315.9 930.2 L318.5 927.7 L321.2 925.3 L323.9 923.0 L326.7 920.8 L329.4 918.7 L332.1 916.7 L334.9 914.7 L337.6 912.9 L340.4 911.2 L343.2 909.5 L346.0 908.0 L348.8 906.5 L351.7 905.2 L354.5 903.9 L357.4 902.8 L360.2 901.7 L363.1 900.8 L366.0 900.0 L368.9 899.2 L371.8 898.6 L374.7 898.1 L377.7 897.7 L380.6 897.5 L383.6 897.3 L386.6 897.2 L389.6 897.3 L392.6 897.5 L395.6 897.7 L398.6 898.1 L401.6 898.7 L404.7 899.3 L407.8 900.1 L410.8 901.0 L413.9 902.0 L417.0 903.2 L420.1 904.5 L423.2 905.9 L426.4 907.4 L429.5 909.1 L432.6 911.0 L435.8 912.9 L439.0 915.1 L442.2 917.3 L445.4 919.7 L448.6 922.3 L451.8 925.0 L455.0 927.8 L458.3 930.9 L461.5 934.0 L464.8 937.4 L468.0 940.9 L471.3 944.5 L474.6 948.4 L477.9 952.4 L481.2 956.6 L484.6 960.9 L487.9 965.5 L491.3 970.2 L494.6 975.1 L498.0 980.2 L501.4 985.5 L504.8 990.9 L508.2 996.6 L511.6 1002.5 L515.0 1008.6 L518.4 1014.8 L521.9 1021.3 L525.3 1028.0 L528.8 1035.0 L532.3 1042.1 L535.7 1049.4 L539.2 1056.9 L542.7 1064.6 L546.3 1072.5 L549.8 1080.6 L553.3 1088.8 L556.9 1097.2 L560.4 1105.8 L564.0 1114.5 L567.6 1123.3 L571.1 1132.3 L574.7 1141.4 L578.3 1150.8 L581.9 1160.2 L585.6 1169.9 L589.2 1179.7 L592.9 1189.7 L596.5 1199.8 L600.2 1210.2 L603.8 1220.7 L607.5 1231.4 L611.2 1242.3 L614.9 1253.4 L618.6 1264.7 L622.3 1276.1 L626.1 1287.8 L627.6 1292.5" stroke="#238443" stroke-width="7" fill="none" stroke-linejoin="round" stroke-dasharray="6.5 3.8"/>
<path d="M138.0 788.3 L138.2 789.3 L138.5 790.9 L138.9 793.0 L139.4 795.3 L139.9 797.7 L140.5 800.3 L141.2 802.9 L141.9 805.5 L142.6 808.1 L143.4 810.8 L144.3 813.4 L145.1 816.0 L146.0 818.5 L147.0 821.1 L148.0 823.6 L149.0 826.1 L150.0 828.6 L151.1 831.0 L152.2 833.4 L153.3 835.8 L154.5 838.2 L155.7 840.5 L156.9 842.9 L158.2 845.2 L159.4 847.5 L160.7 849.7 L162.1 852.0 L163.4 854.2 L164.8 856.4 L166.2 858.7 L167.6 860.8 L169.1 863.0 L170.5 865.2 L172.0 867.3 L173.5 869.5 L175.1 871.6 L176.6 873.7 L178.2 875.8 L179.8 877.8 L181.4 879.9 L183.0 882.0 L184.7 884.0 L186.4 886.1 L188.1 888.1 L189.8 890.1 L191.5 892.1 L193.3 894.1 L195.0 896.1 L196.8 898.1 L198.6 900.0 L200.5 902.0 L202.3 904.0 L204.2 905.9 L206.1 907.9 L208.0 909.8 L209.9 911.8 L211.8 913.7 L213.8 915.7 L215.7 917.6 L217.7 919.5 L219.7 921.5 L221.7 923.4 L223.8 925.4 L225.8 927.3 L227.9 929.3 L230.0 931.2 L232.1 933.2 L234.2 935.2 L236.3 937.2 L238.5 939.1 L240.6 941.1 L242.8 943.2 L245.0 945.2 L247.2 947.2 L249.4 949.2 L251.7 951.3 L253.9 953.4 L256.2 955.4 L258.4 957.5 L260.7 959.6 L263.1 961.8 L265.4 963.9 L267.7 966.0 L270.1 968.2 L272.4 970.4 L274.8 972.6 L277.2 974.8 L279.6 977.0 L282.0 979.2 L284.5 981.4 L286.9 983.7 L289.4 985.9 L291.8 988.2 L294.3 990.5 L296.8 992.8 L299.4 995.1 L301.9 997.4 L304.4 999.7 L307.0 1002.0 L309.5 1004.4 L312.1 1006.7 L314.7 1009.1 L317.3 1011.4 L319.9 1013.8 L322.6 1016.1 L325.2 1018.5 L327.9 1020.9 L330.5 1023.3 L333.2 1025.6 L335.9 1028.0 L338.6 1030.4 L341.3 1032.8 L344.1 1035.2 L346.8 1037.6 L349.5 1040.0 L352.3 1042.4 L355.1 1044.8 L357.9 1047.2 L360.7 1049.6 L363.5 1052.0 L366.3 1054.4 L369.2 1056.9 L372.0 1059.3 L374.9 1061.8 L377.7 1064.3 L380.6 1066.8 L383.5 1069.3 L386.4 1071.8 L389.3 1074.3 L392.3 1076.9 L395.2 1079.4 L398.2 1082.0 L401.1 1084.6 L404.1 1087.3 L407.1 1089.9 L410.1 1092.6 L413.1 1095.3 L416.1 1098.0 L419.1 1100.7 L422.2 1103.5 L425.2 1106.2 L428.3 1109.0 L431.3 1111.8 L434.4 1114.7 L437.5 1117.5 L440.6 1120.4 L443.7 1123.3 L446.9 1126.2 L450.0 1129.1 L453.1 1132.0 L456.3 1134.9 L459.5 1137.9 L462.6 1140.9 L465.8 1143.9 L469.0 1146.9 L472.2 1149.9 L475.5 1152.9 L478.7 1155.9 L481.9 1159.0 L485.2 1162.1 L488.4 1165.1 L491.7 1168.2 L495.0 1171.3 L498.3 1174.4 L501.6 1177.5 L504.9 1180.6 L508.2 1183.8 L511.5 1186.9 L514.9 1190.0 L518.2 1193.2 L521.6 1196.3 L525.0 1199.5 L528.3 1202.7 L531.7 1205.9 L535.1 1209.1 L538.5 1212.4 L541.9 1215.7 L545.4 1219.1 L548.8 1222.5 L552.3 1226.0 L555.7 1229.6 L559.2 1233.2 L562.7 1236.8 L566.1 1240.6 L569.6 1244.4 L573.1 1248.3 L576.7 1252.3 L580.2 1256.3 L583.7 1260.4 L587.3 1264.5 L590.8 1268.8 L594.4 1273.0 L597.9 1277.4 L601.5 1281.8 L605.1 1286.3 L608.7 1290.9 L612.3 1295.5 L615.9 1300.2 L619.6 1304.9" stroke="#253494" stroke-width="7" fill="none" stroke-linejoin="round"/>
<path d="M138.0 1324.0 L138.2 1323.3 L138.5 1322.0 L138.9 1320.4 L139.4 1318.4 L139.9 1316.3 L140.5 1313.9 L141.2 1311.3 L141.9 1308.6 L142.6 1305.7 L143.4 1302.7 L144.3 1299.6 L145.1 1296.3 L146.0 1292.9 L147.0 1289.4 L148.0 1285.9 L149.0 1282.2 L150.0 1278.4 L151.1 1274.6 L152.2 1270.7 L153.3 1266.7 L154.5 1262.6 L155.7 1258.5 L156.9 1254.4 L158.2 1250.1 L159.4 1245.8 L160.7 1241.5 L162.1 1237.1 L163.4 1232.7 L164.8 1228.2 L166.2 1223.7 L167.6 1219.1 L169.1 1214.5 L170.5 1209.9 L172.0 1205.2 L173.5 1200.5 L175.1 1195.8 L176.6 1191.0 L178.2 1186.2 L179.8 1181.4 L181.4 1176.6 L183.0 1171.7 L184.7 1166.8 L186.4 1161.9 L188.1 1157.0 L189.8 1152.1 L191.5 1147.2 L193.3 1142.2 L195.0 1137.3 L196.8 1132.3 L198.6 1127.3 L200.5 1122.3 L202.3 1117.3 L204.2 1112.3 L206.1 1107.3 L208.0 1102.3 L209.9 1097.3 L211.8 1092.3 L213.8 1087.3 L215.7 1082.3 L217.7 1077.3 L219.7 1072.3 L221.7 1067.4 L223.8 1062.4 L225.8 1057.5 L227.9 1052.5 L230.0 1047.6 L232.1 1042.7 L234.2 1037.9 L236.3 1033.0 L238.5 1028.2 L240.6 1023.4 L242.8 1018.7 L245.0 1013.9 L247.2 1009.2 L249.4 1004.6 L251.7 999.9 L253.9 995.4 L256.2 990.8 L258.4 986.3 L260.7 981.9 L263.1 977.5 L265.4 973.1 L267.7 968.8 L270.1 964.5 L272.4 960.3 L274.8 956.2 L277.2 952.1 L279.6 948.0 L282.0 944.1 L284.5 940.2 L286.9 936.3 L289.4 932.5 L291.8 928.8 L294.3 925.1 L296.8 921.5 L299.4 918.0 L301.9 914.5 L304.4 911.1 L307.0 907.8 L309.5 904.5 L312.1 901.4 L314.7 898.2 L317.3 895.2 L319.9 892.2 L322.6 889.3 L325.2 886.5 L327.9 883.7 L330.5 881.0 L333.2 878.4 L335.9 875.9 L338.6 873.4 L341.3 871.0 L344.1 868.7 L346.8 866.5 L349.5 864.3 L352.3 862.2 L355.1 860.2 L357.9 858.3 L360.7 856.5 L363.5 854.8 L366.3 853.2 L369.2 851.6 L372.0 850.2 L374.9 848.9 L377.7 847.7 L380.6 846.6 L383.5 845.6 L386.4 844.7 L389.3 843.9 L392.3 843.3 L395.2 842.8 L398.2 842.4 L401.1 842.2 L404.1 842.1 L407.1 842.1 L410.1 842.3 L413.1 842.7 L416.1 843.2 L419.1 843.8 L422.2 844.6 L425.2 845.5 L428.3 846.6 L431.3 847.9 L434.4 849.3 L437.5 850.9 L440.6 852.6 L443.7 854.5 L446.9 856.5 L450.0 858.7 L453.1 861.1 L456.3 863.6 L459.5 866.3 L462.6 869.2 L465.8 872.2 L469.0 875.4 L472.2 878.8 L475.5 882.3 L478.7 886.0 L481.9 889.9 L485.2 893.9 L488.4 898.1 L491.7 902.5 L495.0 907.0 L498.3 911.7 L501.6 916.6 L504.9 921.6 L508.2 926.8 L511.5 932.2 L514.9 937.7 L518.2 943.4 L521.6 949.3 L525.0 955.4 L528.3 961.7 L531.7 968.2 L535.1 975.0 L538.5 982.1 L541.9 989.4 L545.4 997.1 L548.8 1005.1 L552.3 1013.4 L555.7 1022.2 L559.2 1031.3 L562.7 1040.9 L566.1 1050.8 L569.6 1061.2 L573.1 1072.0 L576.7 1083.3 L580.2 1094.9 L583.7 1107.0 L587.3 1119.6 L590.8 1132.6 L594.4 1146.1 L597.9 1160.0 L601.5 1174.4 L605.1 1189.3 L608.7 1204.7 L612.3 1220.5 L615.9 1236.8 L619.6 1253.7" stroke="#253494" stroke-width="7" fill="none" stroke-linejoin="round"/>
<path d="M138.0 775.8 L138.2 776.9 L138.5 778.8 L139.0 781.2 L139.5 783.8 L140.1 786.6 L140.7 789.5 L141.4 792.5 L142.2 795.5 L143.0 798.5 L143.9 801.6 L144.8 804.6 L145.7 807.5 L146.7 810.5 L147.7 813.4 L148.8 816.3 L149.9 819.2 L151.0 822.1 L152.2 824.9 L153.4 827.7 L154.6 830.4 L155.9 833.2 L157.2 835.9 L158.5 838.6 L159.8 841.2 L161.2 843.8 L162.6 846.5 L164.1 849.0 L165.5 851.6 L167.0 854.2 L168.5 856.7 L170.1 859.2 L171.6 861.6 L173.2 864.1 L174.8 866.5 L176.5 868.9 L178.1 871.3 L179.8 873.7 L181.5 876.1 L183.2 878.4 L185.0 880.7 L186.7 883.0 L188.5 885.3 L190.4 887.6 L192.2 889.8 L194.1 892.0 L195.9 894.3 L197.8 896.5 L199.8 898.7 L201.7 900.9 L203.7 903.0 L205.6 905.2 L207.6 907.4 L209.6 909.5 L211.7 911.7 L213.7 913.8 L215.8 916.0 L217.9 918.1 L220.0 920.2 L222.2 922.4 L224.3 924.5 L226.5 926.6 L228.7 928.8 L230.9 930.9 L233.1 933.1 L235.3 935.3 L237.6 937.4 L239.8 939.6 L242.1 941.8 L244.4 944.0 L246.8 946.3 L249.1 948.5 L251.4 950.7 L253.8 953.0 L256.2 955.3 L258.6 957.6 L261.0 959.9 L263.5 962.3 L265.9 964.6 L268.4 967.0 L270.9 969.4 L273.4 971.8 L275.9 974.2 L278.4 976.7 L281.0 979.2 L283.5 981.7 L286.1 984.2 L288.7 986.7 L291.3 989.3 L293.9 991.9 L296.5 994.4 L299.2 997.1 L301.9 999.7 L304.5 1002.3 L307.2 1005.0 L309.9 1007.7 L312.7 1010.4 L315.4 1013.1 L318.2 1015.9 L320.9 1018.6 L323.7 1021.4 L326.5 1024.2 L329.3 1027.0 L332.1 1029.8 L334.9 1032.6 L337.8 1035.4 L340.7 1038.3 L343.5 1041.2 L346.4 1044.0 L349.3 1046.9 L352.2 1049.8 L355.2 1052.7 L358.1 1055.7 L361.1 1058.6 L364.0 1061.5 L367.0 1064.5 L370.0 1067.5 L373.0 1070.4 L376.0 1073.4 L379.1 1076.4 L382.1 1079.4 L385.2 1082.3 L388.2 1085.3 L391.3 1088.3 L394.4 1091.3 L397.5 1094.3 L400.6 1097.3 L403.8 1100.3 L406.9 1103.3 L410.1 1106.3 L413.2 1109.3 L416.4 1112.3 L419.6 1115.3 L422.8 1118.4 L426.0 1121.4 L429.3 1124.4 L432.5 1127.4 L435.8 1130.4 L439.0 1133.4 L442.3 1136.5 L445.6 1139.5 L448.9 1142.5 L452.2 1145.5 L455.5 1148.6 L458.9 1151.6 L462.2 1154.6 L465.6 1157.6 L469.0 1160.7 L472.3 1163.7 L475.7 1166.7 L479.1 1169.7 L482.6 1172.8 L486.0 1175.8 L489.4 1178.8 L492.9 1181.9 L496.3 1184.9 L499.8 1187.9 L503.3 1191.0 L506.8 1194.0 L510.3 1197.0 L513.8 1200.1 L517.3 1203.1 L520.9 1206.2 L524.4 1209.2 L528.0 1212.3 L531.6 1215.3 L535.2 1218.4 L538.7 1221.4 L542.4 1224.5 L546.0 1227.6 L549.6 1230.7 L553.2 1233.8 L556.9 1236.9 L560.5 1240.0 L564.2 1243.1 L567.9 1246.3 L571.6 1249.4 L575.3 1252.6 L579.0 1255.7 L582.7 1258.9 L586.4 1262.1 L590.2 1265.3 L593.9 1268.5 L597.7 1271.7 L601.5 1274.9 L605.3 1278.1 L609.1 1281.3 L612.9 1284.6 L616.7 1287.8 L620.5 1291.1 L624.3 1294.3 L628.2 1297.6 L632.0 1300.9 L635.9 1304.1 L639.8 1307.4 L643.7 1310.7 L647.5 1314.0 L651.4 1317.4 L655.4 1320.7 L659.3 1324.0" stroke="#253494" stroke-width="7" fill="none" stroke-linejoin="round" stroke-dasharray="6.5 3.8"/>
<path d="M138.0 1324.0 L138.2 1323.2 L138.5 1321.8 L139.0 1320.0 L139.5 1317.9 L140.1 1315.5 L140.7 1312.8 L141.4 1310.0 L142.2 1307.0 L143.0 1303.8 L143.9 1300.5 L144.8 1297.1 L145.7 1293.5 L146.7 1289.8 L147.7 1286.0 L148.8 1282.1 L149.9 1278.1 L151.0 1274.0 L152.2 1269.9 L153.4 1265.6 L154.6 1261.3 L155.9 1256.9 L157.2 1252.4 L158.5 1247.9 L159.8 1243.4 L161.2 1238.7 L162.6 1234.1 L164.1 1229.3 L165.5 1224.6 L167.0 1219.8 L168.5 1214.9 L170.1 1210.0 L171.6 1205.1 L173.2 1200.1 L174.8 1195.2 L176.5 1190.1 L178.1 1185.1 L179.8 1180.0 L181.5 1174.9 L183.2 1169.8 L185.0 1164.7 L186.7 1159.5 L188.5 1154.4 L190.4 1149.2 L192.2 1144.0 L194.1 1138.8 L195.9 1133.5 L197.8 1128.3 L199.8 1123.1 L201.7 1117.8 L203.7 1112.6 L205.6 1107.3 L207.6 1102.1 L209.6 1096.8 L211.7 1091.6 L213.7 1086.3 L215.8 1081.1 L217.9 1075.8 L220.0 1070.6 L222.2 1065.4 L224.3 1060.2 L226.5 1055.1 L228.7 1049.9 L230.9 1044.8 L233.1 1039.7 L235.3 1034.6 L237.6 1029.6 L239.8 1024.5 L242.1 1019.6 L244.4 1014.6 L246.8 1009.7 L249.1 1004.9 L251.4 1000.1 L253.8 995.3 L256.2 990.6 L258.6 985.9 L261.0 981.3 L263.5 976.8 L265.9 972.3 L268.4 967.9 L270.9 963.5 L273.4 959.3 L275.9 955.1 L278.4 950.9 L281.0 946.9 L283.5 942.9 L286.1 939.0 L288.7 935.2 L291.3 931.5 L293.9 927.8 L296.5 924.3 L299.2 920.8 L301.9 917.5 L304.5 914.2 L307.2 911.0 L309.9 907.9 L312.7 905.0 L315.4 902.1 L318.2 899.3 L320.9 896.6 L323.7 894.1 L326.5 891.6 L329.3 889.3 L332.1 887.1 L334.9 884.9 L337.8 882.9 L340.7 881.0 L343.5 879.3 L346.4 877.6 L349.3 876.1 L352.2 874.7 L355.2 873.4 L358.1 872.2 L361.1 871.1 L364.0 870.2 L367.0 869.4 L370.0 868.7 L373.0 868.1 L376.0 867.7 L379.1 867.3 L382.1 867.1 L385.2 867.1 L388.2 867.1 L391.3 867.3 L394.4 867.6 L397.5 868.0 L400.6 868.5 L403.8 869.2 L406.9 870.0 L410.1 870.9 L413.2 872.0 L416.4 873.1 L419.6 874.5 L422.8 875.9 L426.0 877.5 L429.3 879.2 L432.5 881.0 L435.8 883.0 L439.0 885.1 L442.3 887.4 L445.6 889.8 L448.9 892.3 L452.2 895.0 L455.5 897.8 L458.9 900.7 L462.2 903.8 L465.6 907.1 L469.0 910.4 L472.3 913.9 L475.7 917.6 L479.1 921.4 L482.6 925.4 L486.0 929.5 L489.4 933.7 L492.9 938.1 L496.3 942.7 L499.8 947.4 L503.3 952.2 L506.8 957.2 L510.3 962.4 L513.8 967.7 L517.3 973.2 L520.9 978.8 L524.4 984.6 L528.0 990.6 L531.6 996.8 L535.2 1003.1 L538.7 1009.6 L542.4 1016.3 L546.0 1023.1 L549.6 1030.2 L553.2 1037.4 L556.9 1044.9 L560.5 1052.5 L564.2 1060.3 L567.9 1068.4 L571.6 1076.6 L575.3 1085.0 L579.0 1093.7 L582.7 1102.5 L586.4 1111.6 L590.2 1120.8 L593.9 1130.3 L597.7 1139.9 L601.5 1149.8 L605.3 1159.9 L609.1 1170.2 L612.9 1180.7 L616.7 1191.5 L620.5 1202.4 L624.3 1213.6 L628.2 1225.0 L632.0 1236.6 L635.9 1248.4 L639.8 1260.4 L643.7 1272.7 L647.5 1285.2 L651.4 1297.9 L655.4 1310.8 L659.3 1324.0" stroke="#253494" stroke-width="7" fill="none" stroke-linejoin="round" stroke-dasharray="6.5 3.8"/>
<path d="M1083.0 847.0 L1083.1 847.6 L1083.4 848.7 L1083.8 850.1 L1084.2 851.8 L1084.6 853.6 L1085.1 855.6 L1085.7 857.6 L1086.3 859.8 L1086.9 862.0 L1087.6 864.3 L1088.3 866.7 L1089.0 869.1 L1089.8 871.4 L1090.6 873.9 L1091.4 876.3 L1092.3 878.7 L1093.2 881.1 L1094.1 883.6 L1095.0 886.0 L1096.0 888.4 L1096.9 890.8 L1097.9 893.2 L1099.0 895.6 L1100.0 897.9 L1101.1 900.3 L1102.2 902.6 L1103.3 904.9 L1104.5 907.2 L1105.6 909.5 L1106.8 911.7 L1108.0 914.0 L1109.2 916.2 L1110.5 918.4 L1111.7 920.6 L1113.0 922.8 L1114.3 925.0 L1115.6 927.1 L1116.9 929.2 L1118.3 931.4 L1119.6 933.5 L1121.0 935.6 L1122.4 937.6 L1123.8 939.7 L1125.3 941.8 L1126.7 943.8 L1128.2 945.9 L1129.7 947.9 L1131.2 949.9 L1132.7 952.0 L1134.2 954.0 L1135.8 956.0 L1137.3 958.0 L1138.9 960.0 L1140.5 961.9 L1142.1 963.9 L1143.7 965.9 L1145.3 967.9 L1147.0 969.8 L1148.6 971.8 L1150.3 973.7 L1152.0 975.7 L1153.7 977.6 L1155.4 979.5 L1157.2 981.5 L1158.9 983.4 L1160.7 985.3 L1162.4 987.2 L1164.2 989.2 L1166.0 991.1 L1167.8 993.0 L1169.7 994.9 L1171.5 996.8 L1173.3 998.6 L1175.2 1000.5 L1177.1 1002.4 L1179.0 1004.3 L1180.9 1006.2 L1182.8 1008.1 L1184.7 1010.0 L1186.6 1011.9 L1188.6 1013.7 L1190.6 1015.6 L1192.5 1017.5 L1194.5 1019.4 L1196.5 1021.3 L1198.5 1023.2 L1200.5 1025.1 L1202.6 1027.0 L1204.6 1028.9 L1206.7 1030.8 L1208.7 1032.7 L1210.8 1034.6 L1212.9 1036.5 L1215.0 1038.4 L1217.1 1040.3 L1219.2 1042.2 L1221.4 1044.2 L1223.5 1046.1 L1225.7 1048.0 L1227.8 1050.0 L1230.0 1051.9 L1232.2 1053.9 L1234.4 1055.9 L1236.6 1057.9 L1238.8 1059.8 L1241.1 1061.8 L1243.3 1063.8 L1245.6 1065.8 L1247.8 1067.9 L1250.1 1069.9 L1252.4 1071.9 L1254.7 1074.0 L1257.0 1076.1 L1259.3 1078.1 L1261.6 1080.2 L1264.0 1082.3 L1266.3 1084.4 L1268.7 1086.6 L1271.0 1088.7 L1273.4 1090.9 L1275.8 1093.0 L1278.2 1095.2 L1280.6 1097.4 L1283.0 1099.6 L1285.4 1101.8 L1287.9 1104.1 L1290.3 1106.3 L1292.8 1108.6 L1295.2 1110.9 L1297.7 1113.2 L1300.2 1115.5 L1302.7 1117.8 L1305.2 1120.2 L1307.7 1122.6 L1310.2 1124.9 L1312.7 1127.3 L1315.3 1129.7 L1317.8 1132.1 L1320.4 1134.5 L1322.9 1137.0 L1325.5 1139.4 L1328.1 1141.9 L1330.7 1144.3 L1333.3 1146.8 L1335.9 1149.3 L1338.5 1151.8 L1341.2 1154.3 L1343.8 1156.8 L1346.4 1159.3 L1349.1 1161.8 L1351.8 1164.3 L1354.4 1166.9 L1357.1 1169.4 L1359.8 1172.0 L1362.5 1174.6 L1365.2 1177.2 L1367.9 1179.8 L1370.7 1182.4 L1373.4 1185.0 L1376.1 1187.7 L1378.9 1190.3 L1381.7 1193.0 L1384.4 1195.7 L1387.2 1198.4 L1390.0 1201.1 L1392.8 1203.9 L1395.6 1206.6 L1398.4 1209.4 L1401.2 1212.2 L1404.0 1215.0 L1406.9 1217.8 L1409.7 1220.7 L1412.6 1223.5 L1415.4 1226.4 L1418.3 1229.3 L1421.2 1232.2 L1424.1 1235.1 L1427.0 1238.1 L1429.9 1241.0 L1432.8 1244.0 L1435.7 1247.0 L1438.6 1250.0 L1441.6 1253.0 L1444.5 1256.0 L1447.5 1259.1 L1450.4 1262.2 L1453.4 1265.2 L1456.4 1268.3 L1459.3 1271.5 L1462.3 1274.6 L1465.3 1277.8 L1468.3 1280.9 L1471.4 1284.1 L1474.4 1287.3 L1477.4 1290.5 L1480.4 1293.8 L1483.5 1297.0 L1486.5 1300.3 L1489.6 1303.6" stroke="#cb181d" stroke-width="7" fill="none" stroke-linejoin="round"/>
<path d="M1083.0 1324.0 L1083.1 1323.5 L1083.4 1322.5 L1083.8 1321.3 L1084.2 1319.8 L1084.6 1318.2 L1085.1 1316.4 L1085.7 1314.4 L1086.3 1312.4 L1086.9 1310.2 L1087.6 1307.9 L1088.3 1305.5 L1089.0 1303.0 L1089.8 1300.5 L1090.6 1297.9 L1091.4 1295.2 L1092.3 1292.4 L1093.2 1289.6 L1094.1 1286.7 L1095.0 1283.8 L1096.0 1280.8 L1096.9 1277.8 L1097.9 1274.7 L1099.0 1271.6 L1100.0 1268.5 L1101.1 1265.3 L1102.2 1262.1 L1103.3 1258.8 L1104.5 1255.6 L1105.6 1252.3 L1106.8 1248.9 L1108.0 1245.6 L1109.2 1242.2 L1110.5 1238.8 L1111.7 1235.4 L1113.0 1231.9 L1114.3 1228.5 L1115.6 1225.0 L1116.9 1221.5 L1118.3 1218.0 L1119.6 1214.5 L1121.0 1211.0 L1122.4 1207.5 L1123.8 1203.9 L1125.3 1200.4 L1126.7 1196.8 L1128.2 1193.3 L1129.7 1189.7 L1131.2 1186.2 L1132.7 1182.6 L1134.2 1179.0 L1135.8 1175.5 L1137.3 1171.9 L1138.9 1168.4 L1140.5 1164.8 L1142.1 1161.3 L1143.7 1157.7 L1145.3 1154.2 L1147.0 1150.6 L1148.6 1147.1 L1150.3 1143.6 L1152.0 1140.1 L1153.7 1136.6 L1155.4 1133.1 L1157.2 1129.7 L1158.9 1126.2 L1160.7 1122.8 L1162.4 1119.4 L1164.2 1115.9 L1166.0 1112.5 L1167.8 1109.2 L1169.7 1105.8 L1171.5 1102.5 L1173.3 1099.1 L1175.2 1095.8 L1177.1 1092.6 L1179.0 1089.3 L1180.9 1086.1 L1182.8 1082.9 L1184.7 1079.7 L1186.6 1076.5 L1188.6 1073.4 L1190.6 1070.3 L1192.5 1067.2 L1194.5 1064.1 L1196.5 1061.1 L1198.5 1058.1 L1200.5 1055.2 L1202.6 1052.3 L1204.6 1049.4 L1206.7 1046.6 L1208.7 1043.7 L1210.8 1041.0 L1212.9 1038.3 L1215.0 1035.6 L1217.1 1032.9 L1219.2 1030.3 L1221.4 1027.8 L1223.5 1025.2 L1225.7 1022.8 L1227.8 1020.4 L1230.0 1018.0 L1232.2 1015.7 L1234.4 1013.4 L1236.6 1011.2 L1238.8 1009.1 L1241.1 1007.0 L1243.3 1004.9 L1245.6 1002.9 L1247.8 1001.0 L1250.1 999.2 L1252.4 997.4 L1254.7 995.6 L1257.0 994.0 L1259.3 992.4 L1261.6 990.9 L1264.0 989.4 L1266.3 988.1 L1268.7 986.8 L1271.0 985.5 L1273.4 984.4 L1275.8 983.3 L1278.2 982.4 L1280.6 981.5 L1283.0 980.7 L1285.4 980.0 L1287.9 979.3 L1290.3 978.8 L1292.8 978.4 L1295.2 978.0 L1297.7 977.8 L1300.2 977.6 L1302.7 977.6 L1305.2 977.6 L1307.7 977.8 L1310.2 978.0 L1312.7 978.3 L1315.3 978.8 L1317.8 979.3 L1320.4 980.0 L1322.9 980.7 L1325.5 981.6 L1328.1 982.5 L1330.7 983.6 L1333.3 984.7 L1335.9 986.0 L1338.5 987.3 L1341.2 988.8 L1343.8 990.4 L1346.4 992.0 L1349.1 993.8 L1351.8 995.7 L1354.4 997.7 L1357.1 999.9 L1359.8 1002.1 L1362.5 1004.5 L1365.2 1007.0 L1367.9 1009.6 L1370.7 1012.3 L1373.4 1015.2 L1376.1 1018.2 L1378.9 1021.4 L1381.7 1024.7 L1384.4 1028.1 L1387.2 1031.7 L1390.0 1035.4 L1392.8 1039.3 L1395.6 1043.3 L1398.4 1047.5 L1401.2 1051.8 L1404.0 1056.3 L1406.9 1060.9 L1409.7 1065.7 L1412.6 1070.6 L1415.4 1075.8 L1418.3 1081.0 L1421.2 1086.5 L1424.1 1092.1 L1427.0 1097.8 L1429.9 1103.8 L1432.8 1109.9 L1435.7 1116.2 L1438.6 1122.6 L1441.6 1129.2 L1444.5 1136.0 L1447.5 1143.0 L1450.4 1150.2 L1453.4 1157.5 L1456.4 1165.0 L1459.3 1172.7 L1462.3 1180.6 L1465.3 1188.7 L1468.3 1197.0 L1471.4 1205.5 L1474.4 1214.1 L1477.4 1223.0 L1480.4 1232.0 L1483.5 1241.3 L1486.5 1250.8 L1489.6 1260.4" stroke="#cb181d" stroke-width="7" fill="none" stroke-linejoin="round"/>
<path d="M1083.0 842.8 L1083.1 843.4 L1083.4 844.5 L1083.8 845.9 L1084.2 847.5 L1084.6 849.3 L1085.1 851.3 L1085.7 853.3 L1086.3 855.5 L1086.9 857.7 L1087.6 859.9 L1088.3 862.3 L1089.0 864.6 L1089.8 867.0 L1090.6 869.4 L1091.4 871.9 L1092.3 874.3 L1093.2 876.7 L1094.1 879.2 L1095.0 881.6 L1096.0 884.0 L1097.0 886.5 L1098.0 888.9 L1099.0 891.3 L1100.0 893.7 L1101.1 896.1 L1102.2 898.4 L1103.3 900.8 L1104.5 903.2 L1105.6 905.5 L1106.8 907.8 L1108.0 910.1 L1109.2 912.4 L1110.5 914.7 L1111.7 916.9 L1113.0 919.2 L1114.3 921.4 L1115.6 923.6 L1117.0 925.9 L1118.3 928.1 L1119.7 930.2 L1121.1 932.4 L1122.5 934.6 L1123.9 936.7 L1125.3 938.9 L1126.8 941.0 L1128.2 943.1 L1129.7 945.2 L1131.2 947.3 L1132.7 949.4 L1134.3 951.4 L1135.8 953.5 L1137.4 955.6 L1138.9 957.6 L1140.5 959.7 L1142.1 961.7 L1143.8 963.7 L1145.4 965.7 L1147.0 967.7 L1148.7 969.7 L1150.4 971.7 L1152.1 973.7 L1153.8 975.7 L1155.5 977.7 L1157.2 979.6 L1159.0 981.6 L1160.7 983.6 L1162.5 985.5 L1164.3 987.4 L1166.1 989.4 L1167.9 991.3 L1169.7 993.2 L1171.6 995.2 L1173.4 997.1 L1175.3 999.0 L1177.2 1000.9 L1179.0 1002.8 L1181.0 1004.7 L1182.9 1006.6 L1184.8 1008.5 L1186.7 1010.4 L1188.7 1012.3 L1190.6 1014.2 L1192.6 1016.1 L1194.6 1018.0 L1196.6 1019.9 L1198.6 1021.8 L1200.6 1023.7 L1202.7 1025.6 L1204.7 1027.5 L1206.8 1029.4 L1208.8 1031.3 L1210.9 1033.3 L1213.0 1035.2 L1215.1 1037.1 L1217.2 1039.0 L1219.4 1040.9 L1221.5 1042.9 L1223.6 1044.8 L1225.8 1046.7 L1228.0 1048.7 L1230.1 1050.6 L1232.3 1052.6 L1234.5 1054.6 L1236.8 1056.5 L1239.0 1058.5 L1241.2 1060.5 L1243.5 1062.5 L1245.7 1064.5 L1248.0 1066.5 L1250.2 1068.5 L1252.5 1070.6 L1254.8 1072.6 L1257.1 1074.7 L1259.5 1076.8 L1261.8 1078.9 L1264.1 1081.0 L1266.5 1083.1 L1268.8 1085.2 L1271.2 1087.3 L1273.6 1089.5 L1276.0 1091.7 L1278.3 1093.8 L1280.8 1096.0 L1283.2 1098.3 L1285.6 1100.5 L1288.0 1102.8 L1290.5 1105.0 L1292.9 1107.3 L1295.4 1109.6 L1297.9 1111.9 L1300.4 1114.2 L1302.9 1116.5 L1305.4 1118.9 L1307.9 1121.2 L1310.4 1123.6 L1312.9 1126.0 L1315.5 1128.4 L1318.0 1130.8 L1320.6 1133.2 L1323.1 1135.6 L1325.7 1138.0 L1328.3 1140.4 L1330.9 1142.9 L1333.5 1145.3 L1336.1 1147.8 L1338.7 1150.3 L1341.4 1152.7 L1344.0 1155.2 L1346.7 1157.7 L1349.3 1160.2 L1352.0 1162.8 L1354.7 1165.3 L1357.4 1167.8 L1360.0 1170.4 L1362.7 1172.9 L1365.5 1175.5 L1368.2 1178.1 L1370.9 1180.7 L1373.6 1183.3 L1376.4 1186.0 L1379.1 1188.6 L1381.9 1191.3 L1384.7 1194.0 L1387.5 1196.6 L1390.3 1199.4 L1393.0 1202.1 L1395.9 1204.8 L1398.7 1207.6 L1401.5 1210.4 L1404.3 1213.2 L1407.2 1216.0 L1410.0 1218.9 L1412.9 1221.7 L1415.7 1224.6 L1418.6 1227.5 L1421.5 1230.5 L1424.4 1233.4 L1427.3 1236.4 L1430.2 1239.4 L1433.1 1242.5 L1436.0 1245.5 L1438.9 1248.6 L1441.9 1251.8 L1444.8 1254.9 L1447.8 1258.1 L1450.7 1261.3 L1453.7 1264.6 L1456.7 1267.8 L1459.7 1271.1 L1462.7 1274.5 L1465.7 1277.8 L1468.7 1281.2 L1471.7 1284.6 L1474.7 1288.1 L1477.7 1291.5 L1480.8 1295.0 L1483.8 1298.6 L1486.9 1302.1 L1490.0 1305.7" stroke="#cb181d" stroke-width="7" fill="none" stroke-linejoin="round" stroke-dasharray="6.5 3.8"/>
<path d="M1083.0 1324.0 L1083.1 1323.5 L1083.4 1322.5 L1083.8 1321.2 L1084.2 1319.8 L1084.6 1318.1 L1085.1 1316.3 L1085.7 1314.3 L1086.3 1312.2 L1086.9 1310.0 L1087.6 1307.7 L1088.3 1305.3 L1089.0 1302.8 L1089.8 1300.2 L1090.6 1297.6 L1091.4 1294.9 L1092.3 1292.1 L1093.2 1289.2 L1094.1 1286.3 L1095.0 1283.4 L1096.0 1280.4 L1097.0 1277.3 L1098.0 1274.2 L1099.0 1271.1 L1100.0 1267.9 L1101.1 1264.7 L1102.2 1261.4 L1103.3 1258.2 L1104.5 1254.8 L1105.6 1251.5 L1106.8 1248.2 L1108.0 1244.8 L1109.2 1241.4 L1110.5 1237.9 L1111.7 1234.5 L1113.0 1231.0 L1114.3 1227.6 L1115.6 1224.1 L1117.0 1220.6 L1118.3 1217.1 L1119.7 1213.5 L1121.1 1210.0 L1122.5 1206.4 L1123.9 1202.9 L1125.3 1199.3 L1126.8 1195.8 L1128.2 1192.2 L1129.7 1188.6 L1131.2 1185.1 L1132.7 1181.5 L1134.3 1177.9 L1135.8 1174.4 L1137.4 1170.8 L1138.9 1167.2 L1140.5 1163.7 L1142.1 1160.1 L1143.8 1156.6 L1145.4 1153.0 L1147.0 1149.5 L1148.7 1145.9 L1150.4 1142.4 L1152.1 1138.9 L1153.8 1135.4 L1155.5 1131.9 L1157.2 1128.5 L1159.0 1125.0 L1160.7 1121.6 L1162.5 1118.1 L1164.3 1114.7 L1166.1 1111.3 L1167.9 1107.9 L1169.7 1104.5 L1171.6 1101.2 L1173.4 1097.9 L1175.3 1094.6 L1177.2 1091.3 L1179.0 1088.0 L1181.0 1084.8 L1182.9 1081.5 L1184.8 1078.3 L1186.7 1075.2 L1188.7 1072.0 L1190.6 1068.9 L1192.6 1065.8 L1194.6 1062.8 L1196.6 1059.7 L1198.6 1056.7 L1200.6 1053.8 L1202.7 1050.8 L1204.7 1047.9 L1206.8 1045.1 L1208.8 1042.2 L1210.9 1039.5 L1213.0 1036.7 L1215.1 1034.0 L1217.2 1031.3 L1219.4 1028.7 L1221.5 1026.1 L1223.6 1023.6 L1225.8 1021.1 L1228.0 1018.7 L1230.1 1016.3 L1232.3 1013.9 L1234.5 1011.6 L1236.8 1009.4 L1239.0 1007.2 L1241.2 1005.1 L1243.5 1003.0 L1245.7 1001.0 L1248.0 999.0 L1250.2 997.2 L1252.5 995.3 L1254.8 993.6 L1257.1 991.9 L1259.5 990.3 L1261.8 988.7 L1264.1 987.2 L1266.5 985.8 L1268.8 984.5 L1271.2 983.3 L1273.6 982.1 L1276.0 981.0 L1278.3 980.0 L1280.8 979.1 L1283.2 978.3 L1285.6 977.6 L1288.0 977.0 L1290.5 976.4 L1292.9 976.0 L1295.4 975.6 L1297.9 975.3 L1300.4 975.2 L1302.9 975.1 L1305.4 975.1 L1307.9 975.2 L1310.4 975.4 L1312.9 975.7 L1315.5 976.1 L1318.0 976.6 L1320.6 977.2 L1323.1 977.8 L1325.7 978.6 L1328.3 979.5 L1330.9 980.5 L1333.5 981.6 L1336.1 982.8 L1338.7 984.1 L1341.4 985.5 L1344.0 987.0 L1346.7 988.6 L1349.3 990.3 L1352.0 992.2 L1354.7 994.1 L1357.4 996.2 L1360.0 998.4 L1362.7 1000.7 L1365.5 1003.1 L1368.2 1005.7 L1370.9 1008.4 L1373.6 1011.2 L1376.4 1014.2 L1379.1 1017.3 L1381.9 1020.5 L1384.7 1023.9 L1387.5 1027.4 L1390.3 1031.0 L1393.0 1034.8 L1395.9 1038.8 L1398.7 1042.9 L1401.5 1047.2 L1404.3 1051.6 L1407.2 1056.2 L1410.0 1061.0 L1412.9 1065.9 L1415.7 1071.0 L1418.6 1076.3 L1421.5 1081.8 L1424.4 1087.4 L1427.3 1093.3 L1430.2 1099.4 L1433.1 1105.6 L1436.0 1112.1 L1438.9 1118.8 L1441.9 1125.7 L1444.8 1132.8 L1447.8 1140.1 L1450.7 1147.6 L1453.7 1155.4 L1456.7 1163.4 L1459.7 1171.6 L1462.7 1180.1 L1465.7 1188.8 L1468.7 1197.7 L1471.7 1206.9 L1474.7 1216.3 L1477.7 1226.0 L1480.8 1235.9 L1483.8 1246.0 L1486.9 1256.4 L1490.0 1267.0" stroke="#cb181d" stroke-width="7" fill="none" stroke-linejoin="round" stroke-dasharray="6.5 3.8"/>
<path d="M1083.0 825.5 L1083.2 825.9 L1083.5 826.8 L1083.9 827.9 L1084.3 829.2 L1084.9 830.6 L1085.4 832.1 L1086.1 833.8 L1086.8 835.5 L1087.5 837.4 L1088.3 839.3 L1089.1 841.2 L1089.9 843.2 L1090.8 845.3 L1091.7 847.4 L1092.7 849.5 L1093.7 851.7 L1094.7 853.8 L1095.7 856.0 L1096.8 858.2 L1097.9 860.4 L1099.0 862.6 L1100.2 864.9 L1101.4 867.1 L1102.6 869.3 L1103.8 871.6 L1105.1 873.8 L1106.4 876.1 L1107.7 878.3 L1109.0 880.6 L1110.4 882.8 L1111.8 885.0 L1113.2 887.2 L1114.6 889.5 L1116.0 891.7 L1117.5 893.9 L1119.0 896.1 L1120.5 898.3 L1122.0 900.5 L1123.6 902.7 L1125.1 904.9 L1126.7 907.1 L1128.3 909.2 L1130.0 911.4 L1131.6 913.6 L1133.3 915.7 L1135.0 917.9 L1136.7 920.0 L1138.4 922.1 L1140.1 924.3 L1141.9 926.4 L1143.7 928.5 L1145.5 930.6 L1147.3 932.8 L1149.1 934.9 L1150.9 937.0 L1152.8 939.1 L1154.7 941.2 L1156.6 943.4 L1158.5 945.5 L1160.4 947.6 L1162.4 949.8 L1164.3 951.9 L1166.3 954.0 L1168.3 956.2 L1170.3 958.4 L1172.3 960.5 L1174.4 962.7 L1176.4 964.8 L1178.5 967.0 L1180.6 969.2 L1182.7 971.3 L1184.8 973.5 L1186.9 975.7 L1189.0 977.8 L1191.2 980.0 L1193.4 982.1 L1195.5 984.3 L1197.7 986.4 L1200.0 988.6 L1202.2 990.7 L1204.4 992.8 L1206.7 994.9 L1209.0 997.1 L1211.2 999.2 L1213.5 1001.3 L1215.8 1003.4 L1218.2 1005.5 L1220.5 1007.7 L1222.9 1009.8 L1225.2 1011.9 L1227.6 1014.0 L1230.0 1016.2 L1232.4 1018.3 L1234.8 1020.4 L1237.2 1022.6 L1239.7 1024.7 L1242.1 1026.9 L1244.6 1029.0 L1247.1 1031.2 L1249.6 1033.4 L1252.1 1035.6 L1254.6 1037.8 L1257.1 1040.0 L1259.7 1042.2 L1262.2 1044.5 L1264.8 1046.7 L1267.4 1049.0 L1270.0 1051.3 L1272.6 1053.6 L1275.2 1055.9 L1277.8 1058.2 L1280.4 1060.6 L1283.1 1063.0 L1285.7 1065.4 L1288.4 1067.8 L1291.1 1070.3 L1293.8 1072.8 L1296.5 1075.2 L1299.2 1077.7 L1302.0 1080.2 L1304.7 1082.8 L1307.5 1085.3 L1310.2 1087.8 L1313.0 1090.4 L1315.8 1093.0 L1318.6 1095.5 L1321.4 1098.1 L1324.2 1100.7 L1327.1 1103.2 L1329.9 1105.8 L1332.8 1108.4 L1335.6 1111.0 L1338.5 1113.5 L1341.4 1116.1 L1344.3 1118.7 L1347.2 1121.3 L1350.1 1123.8 L1353.0 1126.4 L1356.0 1129.0 L1358.9 1131.6 L1361.9 1134.1 L1364.9 1136.7 L1367.8 1139.3 L1370.8 1141.9 L1373.8 1144.5 L1376.9 1147.2 L1379.9 1149.8 L1382.9 1152.4 L1386.0 1155.1 L1389.0 1157.7 L1392.1 1160.4 L1395.2 1163.1 L1398.2 1165.7 L1401.3 1168.4 L1404.4 1171.2 L1407.6 1173.9 L1410.7 1176.6 L1413.8 1179.4 L1417.0 1182.1 L1420.1 1184.9 L1423.3 1187.7 L1426.5 1190.5 L1429.6 1193.3 L1432.8 1196.1 L1436.0 1198.9 L1439.3 1201.8 L1442.5 1204.6 L1445.7 1207.5 L1449.0 1210.4 L1452.2 1213.3 L1455.5 1216.2 L1458.7 1219.1 L1462.0 1222.1 L1465.3 1225.0 L1468.6 1228.0 L1471.9 1231.0 L1475.2 1234.0 L1478.6 1237.0 L1481.9 1240.0 L1485.3 1243.0 L1488.6 1246.1 L1492.0 1249.1 L1495.4 1252.2 L1498.7 1255.3 L1502.1 1258.4 L1505.5 1261.5 L1509.0 1264.6 L1512.4 1267.8 L1515.8 1270.9 L1519.2 1274.1 L1522.7 1277.3 L1526.2 1280.5 L1529.6 1283.7 L1533.1 1286.9 L1536.6 1290.1 L1540.1 1293.4 L1543.6 1296.6 L1547.1 1299.9 L1550.6 1303.2" stroke="#d95f0e" stroke-width="7" fill="none" stroke-linejoin="round"/>
<path d="M1083.0 1324.0 L1083.2 1323.4 L1083.5 1322.2 L1083.9 1320.7 L1084.3 1319.0 L1084.9 1317.0 L1085.4 1314.8 L1086.1 1312.4 L1086.8 1309.9 L1087.5 1307.3 L1088.3 1304.5 L1089.1 1301.6 L1089.9 1298.5 L1090.8 1295.4 L1091.7 1292.2 L1092.7 1288.9 L1093.7 1285.5 L1094.7 1282.0 L1095.7 1278.5 L1096.8 1274.8 L1097.9 1271.2 L1099.0 1267.4 L1100.2 1263.6 L1101.4 1259.8 L1102.6 1255.9 L1103.8 1251.9 L1105.1 1247.9 L1106.4 1243.9 L1107.7 1239.9 L1109.0 1235.7 L1110.4 1231.6 L1111.8 1227.4 L1113.2 1223.3 L1114.6 1219.0 L1116.0 1214.8 L1117.5 1210.5 L1119.0 1206.2 L1120.5 1201.9 L1122.0 1197.6 L1123.6 1193.2 L1125.1 1188.9 L1126.7 1184.5 L1128.3 1180.1 L1130.0 1175.7 L1131.6 1171.3 L1133.3 1166.9 L1135.0 1162.5 L1136.7 1158.1 L1138.4 1153.7 L1140.1 1149.3 L1141.9 1144.9 L1143.7 1140.4 L1145.5 1136.0 L1147.3 1131.6 L1149.1 1127.2 L1150.9 1122.8 L1152.8 1118.5 L1154.7 1114.1 L1156.6 1109.7 L1158.5 1105.4 L1160.4 1101.1 L1162.4 1096.8 L1164.3 1092.5 L1166.3 1088.3 L1168.3 1084.0 L1170.3 1079.8 L1172.3 1075.6 L1174.4 1071.5 L1176.4 1067.4 L1178.5 1063.3 L1180.6 1059.2 L1182.7 1055.1 L1184.8 1051.1 L1186.9 1047.1 L1189.0 1043.2 L1191.2 1039.3 L1193.4 1035.4 L1195.5 1031.5 L1197.7 1027.7 L1200.0 1023.8 L1202.2 1020.1 L1204.4 1016.3 L1206.7 1012.6 L1209.0 1009.0 L1211.2 1005.3 L1213.5 1001.7 L1215.8 998.2 L1218.2 994.7 L1220.5 991.2 L1222.9 987.8 L1225.2 984.4 L1227.6 981.1 L1230.0 977.8 L1232.4 974.6 L1234.8 971.4 L1237.2 968.3 L1239.7 965.3 L1242.1 962.3 L1244.6 959.3 L1247.1 956.5 L1249.6 953.7 L1252.1 950.9 L1254.6 948.3 L1257.1 945.7 L1259.7 943.2 L1262.2 940.7 L1264.8 938.4 L1267.4 936.1 L1270.0 933.9 L1272.6 931.8 L1275.2 929.9 L1277.8 928.0 L1280.4 926.2 L1283.1 924.5 L1285.7 922.9 L1288.4 921.4 L1291.1 920.1 L1293.8 918.8 L1296.5 917.7 L1299.2 916.6 L1302.0 915.7 L1304.7 914.8 L1307.5 914.1 L1310.2 913.5 L1313.0 913.0 L1315.8 912.5 L1318.6 912.2 L1321.4 912.0 L1324.2 911.9 L1327.1 911.8 L1329.9 911.9 L1332.8 912.1 L1335.6 912.3 L1338.5 912.6 L1341.4 913.1 L1344.3 913.6 L1347.2 914.2 L1350.1 915.0 L1353.0 915.8 L1356.0 916.7 L1358.9 917.8 L1361.9 918.9 L1364.9 920.2 L1367.8 921.6 L1370.8 923.1 L1373.8 924.7 L1376.9 926.5 L1379.9 928.3 L1382.9 930.3 L1386.0 932.4 L1389.0 934.7 L1392.1 937.1 L1395.2 939.6 L1398.2 942.3 L1401.3 945.2 L1404.4 948.1 L1407.6 951.2 L1410.7 954.5 L1413.8 957.9 L1417.0 961.5 L1420.1 965.2 L1423.3 969.1 L1426.5 973.2 L1429.6 977.3 L1432.8 981.7 L1436.0 986.2 L1439.3 990.9 L1442.5 995.8 L1445.7 1000.8 L1449.0 1006.0 L1452.2 1011.3 L1455.5 1016.9 L1458.7 1022.6 L1462.0 1028.5 L1465.3 1034.5 L1468.6 1040.8 L1471.9 1047.2 L1475.2 1053.8 L1478.6 1060.6 L1481.9 1067.6 L1485.3 1074.8 L1488.6 1082.2 L1492.0 1089.7 L1495.4 1097.5 L1498.7 1105.4 L1502.1 1113.6 L1505.5 1121.9 L1509.0 1130.5 L1512.4 1139.3 L1515.8 1148.2 L1519.2 1157.4 L1522.7 1166.8 L1526.2 1176.4 L1529.6 1186.2 L1533.1 1196.2 L1536.6 1206.4 L1540.1 1216.9 L1543.6 1227.6 L1547.1 1238.4 L1550.6 1249.5" stroke="#d95f0e" stroke-width="7" fill="none" stroke-linejoin="round"/>
<path d="M1083.0 818.0 L1083.2 818.7 L1083.5 819.9 L1083.9 821.4 L1084.4 823.1 L1085.0 825.0 L1085.6 827.1 L1086.3 829.2 L1087.1 831.4 L1087.9 833.7 L1088.7 836.0 L1089.6 838.4 L1090.5 840.7 L1091.4 843.1 L1092.4 845.5 L1093.5 847.9 L1094.5 850.3 L1095.6 852.7 L1096.7 855.1 L1097.9 857.5 L1099.1 859.9 L1100.3 862.3 L1101.6 864.7 L1102.9 867.1 L1104.2 869.4 L1105.5 871.8 L1106.9 874.1 L1108.3 876.5 L1109.7 878.8 L1111.1 881.1 L1112.6 883.4 L1114.1 885.7 L1115.6 888.0 L1117.1 890.3 L1118.7 892.6 L1120.3 894.9 L1121.9 897.2 L1123.5 899.5 L1125.2 901.7 L1126.9 904.0 L1128.5 906.3 L1130.3 908.5 L1132.0 910.8 L1133.8 913.0 L1135.5 915.3 L1137.3 917.5 L1139.2 919.7 L1141.0 922.0 L1142.9 924.2 L1144.8 926.5 L1146.7 928.7 L1148.6 930.9 L1150.5 933.2 L1152.5 935.4 L1154.4 937.7 L1156.4 939.9 L1158.5 942.2 L1160.5 944.5 L1162.5 946.7 L1164.6 949.0 L1166.7 951.3 L1168.8 953.6 L1170.9 955.9 L1173.0 958.1 L1175.2 960.4 L1177.4 962.7 L1179.5 965.0 L1181.7 967.3 L1184.0 969.6 L1186.2 971.9 L1188.4 974.2 L1190.7 976.5 L1193.0 978.8 L1195.3 981.0 L1197.6 983.3 L1199.9 985.5 L1202.3 987.8 L1204.7 990.0 L1207.0 992.2 L1209.4 994.5 L1211.8 996.7 L1214.3 998.9 L1216.7 1001.1 L1219.1 1003.3 L1221.6 1005.5 L1224.1 1007.7 L1226.6 1009.9 L1229.1 1012.1 L1231.6 1014.3 L1234.2 1016.5 L1236.7 1018.8 L1239.3 1021.0 L1241.9 1023.2 L1244.5 1025.4 L1247.1 1027.6 L1249.7 1029.9 L1252.4 1032.1 L1255.0 1034.4 L1257.7 1036.6 L1260.4 1038.9 L1263.0 1041.2 L1265.8 1043.5 L1268.5 1045.8 L1271.2 1048.1 L1274.0 1050.5 L1276.7 1052.8 L1279.5 1055.2 L1282.3 1057.6 L1285.1 1060.1 L1287.9 1062.5 L1290.7 1065.0 L1293.6 1067.5 L1296.4 1070.0 L1299.3 1072.5 L1302.1 1075.0 L1305.0 1077.6 L1307.9 1080.2 L1310.9 1082.7 L1313.8 1085.3 L1316.7 1088.0 L1319.7 1090.6 L1322.6 1093.2 L1325.6 1095.8 L1328.6 1098.5 L1331.6 1101.2 L1334.6 1103.8 L1337.6 1106.5 L1340.7 1109.2 L1343.7 1111.8 L1346.8 1114.5 L1349.9 1117.2 L1353.0 1119.9 L1356.0 1122.6 L1359.2 1125.3 L1362.3 1128.0 L1365.4 1130.7 L1368.6 1133.5 L1371.7 1136.2 L1374.9 1138.9 L1378.1 1141.6 L1381.2 1144.4 L1384.4 1147.1 L1387.7 1149.9 L1390.9 1152.6 L1394.1 1155.4 L1397.4 1158.2 L1400.6 1160.9 L1403.9 1163.7 L1407.2 1166.5 L1410.5 1169.3 L1413.8 1172.1 L1417.1 1174.9 L1420.4 1177.7 L1423.7 1180.5 L1427.1 1183.3 L1430.4 1186.1 L1433.8 1188.9 L1437.2 1191.7 L1440.6 1194.6 L1444.0 1197.4 L1447.4 1200.3 L1450.8 1203.1 L1454.2 1205.9 L1457.7 1208.8 L1461.1 1211.7 L1464.6 1214.5 L1468.1 1217.4 L1471.6 1220.3 L1475.1 1223.2 L1478.6 1226.1 L1482.1 1228.9 L1485.6 1231.8 L1489.1 1234.7 L1492.7 1237.7 L1496.2 1240.6 L1499.8 1243.5 L1503.4 1246.4 L1507.0 1249.3 L1510.6 1252.3 L1514.2 1255.2 L1517.8 1258.2 L1521.4 1261.1 L1525.1 1264.1 L1528.7 1267.0 L1532.4 1270.0 L1536.0 1273.0 L1539.7 1275.9 L1543.4 1278.9 L1547.1 1281.9 L1550.8 1284.9 L1554.5 1287.9 L1558.3 1290.9 L1562.0 1293.9 L1565.7 1297.0 L1569.5 1300.0 L1573.3 1303.0 L1577.0 1306.1 L1580.8 1309.1 L1584.6 1312.2 L1588.4 1315.2" stroke="#d95f0e" stroke-width="7" fill="none" stroke-linejoin="round" stroke-dasharray="6.5 3.8"/>
<path d="M1083.0 1324.0 L1083.2 1323.3 L1083.5 1322.0 L1083.9 1320.4 L1084.4 1318.5 L1085.0 1316.3 L1085.6 1313.9 L1086.3 1311.4 L1087.1 1308.6 L1087.9 1305.8 L1088.7 1302.7 L1089.6 1299.6 L1090.5 1296.3 L1091.4 1293.0 L1092.4 1289.5 L1093.5 1285.9 L1094.5 1282.2 L1095.6 1278.5 L1096.7 1274.7 L1097.9 1270.8 L1099.1 1266.8 L1100.3 1262.8 L1101.6 1258.7 L1102.9 1254.6 L1104.2 1250.4 L1105.5 1246.1 L1106.9 1241.8 L1108.3 1237.5 L1109.7 1233.1 L1111.1 1228.7 L1112.6 1224.3 L1114.1 1219.8 L1115.6 1215.3 L1117.1 1210.8 L1118.7 1206.2 L1120.3 1201.6 L1121.9 1197.0 L1123.5 1192.4 L1125.2 1187.8 L1126.9 1183.1 L1128.5 1178.4 L1130.3 1173.8 L1132.0 1169.1 L1133.8 1164.4 L1135.5 1159.7 L1137.3 1155.0 L1139.2 1150.3 L1141.0 1145.6 L1142.9 1140.9 L1144.8 1136.2 L1146.7 1131.5 L1148.6 1126.8 L1150.5 1122.1 L1152.5 1117.5 L1154.4 1112.8 L1156.4 1108.2 L1158.5 1103.6 L1160.5 1099.0 L1162.5 1094.5 L1164.6 1089.9 L1166.7 1085.4 L1168.8 1080.9 L1170.9 1076.4 L1173.0 1072.0 L1175.2 1067.6 L1177.4 1063.2 L1179.5 1058.9 L1181.7 1054.6 L1184.0 1050.3 L1186.2 1046.0 L1188.4 1041.8 L1190.7 1037.6 L1193.0 1033.5 L1195.3 1029.3 L1197.6 1025.2 L1199.9 1021.2 L1202.3 1017.2 L1204.7 1013.2 L1207.0 1009.2 L1209.4 1005.3 L1211.8 1001.4 L1214.3 997.6 L1216.7 993.8 L1219.1 990.0 L1221.6 986.3 L1224.1 982.6 L1226.6 979.0 L1229.1 975.4 L1231.6 971.9 L1234.2 968.4 L1236.7 965.0 L1239.3 961.7 L1241.9 958.4 L1244.5 955.1 L1247.1 952.0 L1249.7 948.9 L1252.4 945.8 L1255.0 942.9 L1257.7 940.0 L1260.4 937.2 L1263.0 934.5 L1265.8 931.8 L1268.5 929.3 L1271.2 926.8 L1274.0 924.4 L1276.7 922.2 L1279.5 920.0 L1282.3 917.9 L1285.1 916.0 L1287.9 914.1 L1290.7 912.4 L1293.6 910.8 L1296.4 909.3 L1299.3 907.9 L1302.1 906.6 L1305.0 905.4 L1307.9 904.4 L1310.9 903.5 L1313.8 902.6 L1316.7 901.9 L1319.7 901.4 L1322.6 900.9 L1325.6 900.5 L1328.6 900.3 L1331.6 900.2 L1334.6 900.2 L1337.6 900.3 L1340.7 900.5 L1343.7 900.8 L1346.8 901.3 L1349.9 901.8 L1353.0 902.5 L1356.0 903.3 L1359.2 904.2 L1362.3 905.3 L1365.4 906.4 L1368.6 907.7 L1371.7 909.2 L1374.9 910.7 L1378.1 912.4 L1381.2 914.2 L1384.4 916.1 L1387.7 918.2 L1390.9 920.4 L1394.1 922.7 L1397.4 925.2 L1400.6 927.8 L1403.9 930.5 L1407.2 933.4 L1410.5 936.4 L1413.8 939.5 L1417.1 942.8 L1420.4 946.3 L1423.7 949.8 L1427.1 953.6 L1430.4 957.4 L1433.8 961.5 L1437.2 965.6 L1440.6 969.9 L1444.0 974.4 L1447.4 979.0 L1450.8 983.8 L1454.2 988.7 L1457.7 993.8 L1461.1 999.0 L1464.6 1004.4 L1468.1 1010.0 L1471.6 1015.7 L1475.1 1021.6 L1478.6 1027.6 L1482.1 1033.8 L1485.6 1040.2 L1489.1 1046.7 L1492.7 1053.4 L1496.2 1060.2 L1499.8 1067.3 L1503.4 1074.5 L1507.0 1081.8 L1510.6 1089.4 L1514.2 1097.1 L1517.8 1105.0 L1521.4 1113.0 L1525.1 1121.3 L1528.7 1129.7 L1532.4 1138.3 L1536.0 1147.1 L1539.7 1156.1 L1543.4 1165.2 L1547.1 1174.6 L1550.8 1184.1 L1554.5 1193.8 L1558.3 1203.7 L1562.0 1213.8 L1565.7 1224.2 L1569.5 1234.7 L1573.3 1245.3 L1577.0 1256.2 L1580.8 1267.3 L1584.6 1278.6 L1588.4 1290.1" stroke="#d95f0e" stroke-width="7" fill="none" stroke-linejoin="round" stroke-dasharray="6.5 3.8"/>
<path d="M1083.0 807.2 L1083.2 807.8 L1083.5 808.9 L1083.9 810.2 L1084.5 811.8 L1085.0 813.5 L1085.7 815.4 L1086.4 817.4 L1087.1 819.5 L1087.9 821.6 L1088.8 823.8 L1089.6 826.1 L1090.6 828.4 L1091.5 830.7 L1092.5 833.1 L1093.6 835.5 L1094.7 837.9 L1095.8 840.3 L1096.9 842.7 L1098.1 845.1 L1099.3 847.5 L1100.5 849.9 L1101.8 852.3 L1103.1 854.7 L1104.4 857.1 L1105.8 859.5 L1107.1 861.9 L1108.6 864.3 L1110.0 866.7 L1111.4 869.1 L1112.9 871.4 L1114.4 873.8 L1116.0 876.1 L1117.5 878.4 L1119.1 880.8 L1120.7 883.1 L1122.3 885.4 L1124.0 887.7 L1125.7 890.0 L1127.4 892.2 L1129.1 894.5 L1130.8 896.8 L1132.6 899.1 L1134.4 901.3 L1136.2 903.6 L1138.0 905.8 L1139.8 908.1 L1141.7 910.3 L1143.6 912.5 L1145.5 914.8 L1147.4 917.0 L1149.3 919.2 L1151.3 921.5 L1153.3 923.7 L1155.3 926.0 L1157.3 928.2 L1159.3 930.5 L1161.4 932.7 L1163.5 935.0 L1165.6 937.2 L1167.7 939.5 L1169.8 941.8 L1171.9 944.1 L1174.1 946.4 L1176.3 948.7 L1178.5 951.0 L1180.7 953.3 L1182.9 955.6 L1185.1 957.8 L1187.4 960.1 L1189.7 962.4 L1192.0 964.7 L1194.3 967.0 L1196.6 969.2 L1199.0 971.5 L1201.3 973.7 L1203.7 976.0 L1206.1 978.2 L1208.5 980.4 L1210.9 982.7 L1213.3 984.9 L1215.8 987.1 L1218.3 989.3 L1220.7 991.5 L1223.2 993.7 L1225.7 995.9 L1228.3 998.1 L1230.8 1000.3 L1233.4 1002.5 L1235.9 1004.7 L1238.5 1006.9 L1241.1 1009.1 L1243.7 1011.3 L1246.4 1013.5 L1249.0 1015.7 L1251.7 1017.9 L1254.3 1020.1 L1257.0 1022.3 L1259.7 1024.6 L1262.4 1026.8 L1265.2 1029.0 L1267.9 1031.3 L1270.6 1033.5 L1273.4 1035.8 L1276.2 1038.1 L1279.0 1040.4 L1281.8 1042.7 L1284.6 1045.0 L1287.4 1047.3 L1290.3 1049.6 L1293.2 1052.0 L1296.0 1054.4 L1298.9 1056.7 L1301.8 1059.1 L1304.7 1061.5 L1307.6 1063.9 L1310.6 1066.3 L1313.5 1068.8 L1316.5 1071.2 L1319.5 1073.7 L1322.4 1076.1 L1325.4 1078.6 L1328.5 1081.1 L1331.5 1083.5 L1334.5 1086.0 L1337.6 1088.5 L1340.6 1091.0 L1343.7 1093.5 L1346.8 1096.0 L1349.9 1098.6 L1353.0 1101.1 L1356.1 1103.6 L1359.3 1106.1 L1362.4 1108.7 L1365.6 1111.2 L1368.7 1113.8 L1371.9 1116.3 L1375.1 1118.9 L1378.3 1121.4 L1381.5 1124.0 L1384.7 1126.5 L1388.0 1129.1 L1391.2 1131.7 L1394.5 1134.3 L1397.8 1136.9 L1401.0 1139.4 L1404.3 1142.1 L1407.7 1144.7 L1411.0 1147.3 L1414.3 1149.9 L1417.6 1152.6 L1421.0 1155.2 L1424.4 1157.9 L1427.7 1160.5 L1431.1 1163.2 L1434.5 1165.9 L1437.9 1168.6 L1441.3 1171.3 L1444.8 1174.0 L1448.2 1176.8 L1451.7 1179.5 L1455.1 1182.3 L1458.6 1185.1 L1462.1 1187.9 L1465.6 1190.7 L1469.1 1193.5 L1472.6 1196.3 L1476.1 1199.2 L1479.6 1202.1 L1483.2 1205.0 L1486.8 1207.9 L1490.3 1210.8 L1493.9 1213.8 L1497.5 1216.8 L1501.1 1219.8 L1504.7 1222.8 L1508.3 1225.8 L1511.9 1228.9 L1515.6 1232.0 L1519.2 1235.1 L1522.9 1238.2 L1526.6 1241.4 L1530.2 1244.6 L1533.9 1247.8 L1537.6 1251.0 L1541.4 1254.3 L1545.1 1257.6 L1548.8 1260.9 L1552.5 1264.3 L1556.3 1267.7 L1560.1 1271.1 L1563.8 1274.5 L1567.6 1278.0 L1571.4 1281.5 L1575.2 1285.0 L1579.0 1288.6 L1582.8 1292.2 L1586.7 1295.8 L1590.5 1299.5 L1594.4 1303.2" stroke="#238443" stroke-width="7" fill="none" stroke-linejoin="round"/>
<path d="M1083.0 1324.0 L1083.2 1323.3 L1083.5 1322.0 L1083.9 1320.3 L1084.5 1318.3 L1085.0 1316.0 L1085.7 1313.6 L1086.4 1310.9 L1087.1 1308.1 L1087.9 1305.1 L1088.8 1302.0 L1089.6 1298.7 L1090.6 1295.3 L1091.5 1291.8 L1092.5 1288.2 L1093.6 1284.4 L1094.7 1280.6 L1095.8 1276.7 L1096.9 1272.8 L1098.1 1268.7 L1099.3 1264.6 L1100.5 1260.4 L1101.8 1256.2 L1103.1 1251.9 L1104.4 1247.5 L1105.8 1243.1 L1107.1 1238.6 L1108.6 1234.1 L1110.0 1229.6 L1111.4 1225.0 L1112.9 1220.4 L1114.4 1215.7 L1116.0 1211.0 L1117.5 1206.3 L1119.1 1201.5 L1120.7 1196.8 L1122.3 1192.0 L1124.0 1187.2 L1125.7 1182.3 L1127.4 1177.5 L1129.1 1172.6 L1130.8 1167.7 L1132.6 1162.8 L1134.4 1157.9 L1136.2 1153.0 L1138.0 1148.1 L1139.8 1143.2 L1141.7 1138.2 L1143.6 1133.3 L1145.5 1128.4 L1147.4 1123.5 L1149.3 1118.6 L1151.3 1113.7 L1153.3 1108.8 L1155.3 1103.9 L1157.3 1099.0 L1159.3 1094.2 L1161.4 1089.3 L1163.5 1084.5 L1165.6 1079.8 L1167.7 1075.0 L1169.8 1070.3 L1171.9 1065.5 L1174.1 1060.9 L1176.3 1056.2 L1178.5 1051.6 L1180.7 1047.0 L1182.9 1042.4 L1185.1 1037.9 L1187.4 1033.4 L1189.7 1028.9 L1192.0 1024.5 L1194.3 1020.0 L1196.6 1015.6 L1199.0 1011.3 L1201.3 1007.0 L1203.7 1002.7 L1206.1 998.4 L1208.5 994.2 L1210.9 990.0 L1213.3 985.9 L1215.8 981.7 L1218.3 977.7 L1220.7 973.6 L1223.2 969.7 L1225.7 965.7 L1228.3 961.8 L1230.8 958.0 L1233.4 954.2 L1235.9 950.4 L1238.5 946.7 L1241.1 943.1 L1243.7 939.5 L1246.4 935.9 L1249.0 932.5 L1251.7 929.0 L1254.3 925.7 L1257.0 922.4 L1259.7 919.2 L1262.4 916.0 L1265.2 912.9 L1267.9 909.9 L1270.6 907.0 L1273.4 904.2 L1276.2 901.4 L1279.0 898.7 L1281.8 896.1 L1284.6 893.6 L1287.4 891.2 L1290.3 888.9 L1293.2 886.7 L1296.0 884.6 L1298.9 882.5 L1301.8 880.6 L1304.7 878.8 L1307.6 877.0 L1310.6 875.4 L1313.5 873.9 L1316.5 872.4 L1319.5 871.1 L1322.4 869.9 L1325.4 868.8 L1328.5 867.8 L1331.5 866.9 L1334.5 866.1 L1337.6 865.4 L1340.6 864.8 L1343.7 864.3 L1346.8 864.0 L1349.9 863.7 L1353.0 863.6 L1356.1 863.5 L1359.3 863.6 L1362.4 863.8 L1365.6 864.0 L1368.7 864.4 L1371.9 865.0 L1375.1 865.6 L1378.3 866.3 L1381.5 867.2 L1384.7 868.2 L1388.0 869.3 L1391.2 870.5 L1394.5 871.9 L1397.8 873.3 L1401.0 875.0 L1404.3 876.7 L1407.7 878.6 L1411.0 880.6 L1414.3 882.8 L1417.6 885.1 L1421.0 887.5 L1424.4 890.1 L1427.7 892.9 L1431.1 895.8 L1434.5 898.8 L1437.9 902.0 L1441.3 905.4 L1444.8 908.9 L1448.2 912.6 L1451.7 916.5 L1455.1 920.5 L1458.6 924.8 L1462.1 929.2 L1465.6 933.8 L1469.1 938.5 L1472.6 943.5 L1476.1 948.7 L1479.6 954.0 L1483.2 959.6 L1486.8 965.3 L1490.3 971.3 L1493.9 977.5 L1497.5 983.9 L1501.1 990.6 L1504.7 997.4 L1508.3 1004.5 L1511.9 1011.9 L1515.6 1019.5 L1519.2 1027.3 L1522.9 1035.4 L1526.6 1043.7 L1530.2 1052.3 L1533.9 1061.1 L1537.6 1070.3 L1541.4 1079.7 L1545.1 1089.3 L1548.8 1099.3 L1552.5 1109.5 L1556.3 1120.0 L1560.1 1130.9 L1563.8 1142.0 L1567.6 1153.4 L1571.4 1165.2 L1575.2 1177.3 L1579.0 1189.6 L1582.8 1202.4 L1586.7 1215.4 L1590.5 1228.8 L1594.4 1242.6" stroke="#238443" stroke-width="7" fill="none" stroke-linejoin="round"/>
<path d="M1083.0 801.0 L1083.2 801.7 L1083.6 803.0 L1084.0 804.6 L1084.6 806.4 L1085.2 808.5 L1085.9 810.6 L1086.6 812.9 L1087.4 815.3 L1088.3 817.8 L1089.2 820.3 L1090.1 822.8 L1091.1 825.4 L1092.2 828.0 L1093.2 830.6 L1094.4 833.2 L1095.5 835.8 L1096.7 838.5 L1097.9 841.1 L1099.2 843.7 L1100.5 846.3 L1101.8 848.9 L1103.2 851.5 L1104.6 854.0 L1106.0 856.6 L1107.5 859.1 L1108.9 861.6 L1110.4 864.2 L1112.0 866.6 L1113.6 869.1 L1115.1 871.6 L1116.8 874.0 L1118.4 876.5 L1120.1 878.9 L1121.8 881.3 L1123.5 883.7 L1125.3 886.1 L1127.0 888.5 L1128.8 890.9 L1130.6 893.2 L1132.5 895.6 L1134.4 898.0 L1136.2 900.3 L1138.2 902.6 L1140.1 905.0 L1142.1 907.3 L1144.0 909.6 L1146.0 912.0 L1148.1 914.3 L1150.1 916.6 L1152.2 919.0 L1154.3 921.3 L1156.4 923.7 L1158.5 926.0 L1160.6 928.4 L1162.8 930.7 L1165.0 933.1 L1167.2 935.5 L1169.4 937.9 L1171.7 940.3 L1173.9 942.7 L1176.2 945.1 L1178.5 947.5 L1180.8 949.9 L1183.2 952.3 L1185.5 954.8 L1187.9 957.2 L1190.3 959.6 L1192.7 962.0 L1195.1 964.4 L1197.6 966.7 L1200.0 969.1 L1202.5 971.5 L1205.0 973.8 L1207.5 976.2 L1210.1 978.5 L1212.6 980.9 L1215.2 983.2 L1217.8 985.5 L1220.4 987.8 L1223.0 990.2 L1225.6 992.5 L1228.3 994.8 L1230.9 997.1 L1233.6 999.4 L1236.3 1001.7 L1239.0 1004.0 L1241.7 1006.3 L1244.5 1008.6 L1247.3 1010.9 L1250.0 1013.2 L1252.8 1015.6 L1255.6 1017.9 L1258.5 1020.2 L1261.3 1022.5 L1264.1 1024.9 L1267.0 1027.2 L1269.9 1029.6 L1272.8 1031.9 L1275.7 1034.3 L1278.6 1036.7 L1281.6 1039.1 L1284.5 1041.5 L1287.5 1043.9 L1290.5 1046.4 L1293.5 1048.8 L1296.5 1051.3 L1299.5 1053.8 L1302.6 1056.2 L1305.6 1058.7 L1308.7 1061.2 L1311.8 1063.8 L1314.9 1066.3 L1318.0 1068.8 L1321.1 1071.4 L1324.3 1073.9 L1327.4 1076.5 L1330.6 1079.1 L1333.8 1081.7 L1337.0 1084.3 L1340.2 1086.9 L1343.4 1089.5 L1346.6 1092.1 L1349.9 1094.7 L1353.1 1097.4 L1356.4 1100.0 L1359.7 1102.6 L1363.0 1105.3 L1366.3 1108.0 L1369.6 1110.6 L1373.0 1113.3 L1376.3 1116.0 L1379.7 1118.7 L1383.1 1121.4 L1386.5 1124.1 L1389.9 1126.8 L1393.3 1129.5 L1396.7 1132.2 L1400.1 1135.0 L1403.6 1137.7 L1407.1 1140.5 L1410.5 1143.2 L1414.0 1146.0 L1417.5 1148.8 L1421.0 1151.6 L1424.6 1154.4 L1428.1 1157.2 L1431.7 1160.0 L1435.2 1162.8 L1438.8 1165.6 L1442.4 1168.5 L1446.0 1171.3 L1449.6 1174.2 L1453.2 1177.1 L1456.9 1180.0 L1460.5 1182.9 L1464.2 1185.8 L1467.8 1188.7 L1471.5 1191.7 L1475.2 1194.6 L1478.9 1197.6 L1482.6 1200.5 L1486.4 1203.5 L1490.1 1206.5 L1493.9 1209.5 L1497.6 1212.5 L1501.4 1215.6 L1505.2 1218.6 L1509.0 1221.7 L1512.8 1224.8 L1516.6 1227.9 L1520.4 1231.0 L1524.3 1234.1 L1528.1 1237.2 L1532.0 1240.4 L1535.9 1243.5 L1539.8 1246.7 L1543.7 1249.9 L1547.6 1253.1 L1551.5 1256.3 L1555.4 1259.6 L1559.4 1262.8 L1563.3 1266.1 L1567.3 1269.4 L1571.3 1272.7 L1575.3 1276.0 L1579.2 1279.3 L1583.3 1282.7 L1587.3 1286.0 L1591.3 1289.4 L1595.3 1292.8 L1599.4 1296.2 L1603.5 1299.6 L1607.5 1303.0 L1611.6 1306.5 L1615.7 1310.0 L1619.8 1313.4 L1623.9 1316.9 L1628.0 1320.5 L1632.2 1324.0" stroke="#238443" stroke-width="7" fill="none" stroke-linejoin="round" stroke-dasharray="6.5 3.8"/>
<path d="M1083.0 1324.0 L1083.2 1323.2 L1083.6 1321.8 L1084.0 1320.0 L1084.6 1317.8 L1085.2 1315.4 L1085.9 1312.7 L1086.6 1309.8 L1087.4 1306.8 L1088.3 1303.5 L1089.2 1300.2 L1090.1 1296.6 L1091.1 1293.0 L1092.2 1289.2 L1093.2 1285.3 L1094.4 1281.3 L1095.5 1277.2 L1096.7 1273.1 L1097.9 1268.8 L1099.2 1264.5 L1100.5 1260.1 L1101.8 1255.6 L1103.2 1251.0 L1104.6 1246.4 L1106.0 1241.8 L1107.5 1237.0 L1108.9 1232.3 L1110.4 1227.4 L1112.0 1222.6 L1113.6 1217.7 L1115.1 1212.7 L1116.8 1207.8 L1118.4 1202.8 L1120.1 1197.7 L1121.8 1192.7 L1123.5 1187.6 L1125.3 1182.4 L1127.0 1177.3 L1128.8 1172.2 L1130.6 1167.0 L1132.5 1161.8 L1134.4 1156.6 L1136.2 1151.4 L1138.2 1146.2 L1140.1 1141.0 L1142.1 1135.7 L1144.0 1130.5 L1146.0 1125.3 L1148.1 1120.1 L1150.1 1114.9 L1152.2 1109.7 L1154.3 1104.5 L1156.4 1099.3 L1158.5 1094.2 L1160.6 1089.0 L1162.8 1083.9 L1165.0 1078.8 L1167.2 1073.8 L1169.4 1068.8 L1171.7 1063.8 L1173.9 1058.8 L1176.2 1053.8 L1178.5 1048.9 L1180.8 1044.1 L1183.2 1039.2 L1185.5 1034.4 L1187.9 1029.6 L1190.3 1024.9 L1192.7 1020.2 L1195.1 1015.5 L1197.6 1010.9 L1200.0 1006.2 L1202.5 1001.7 L1205.0 997.1 L1207.5 992.6 L1210.1 988.2 L1212.6 983.7 L1215.2 979.4 L1217.8 975.0 L1220.4 970.7 L1223.0 966.5 L1225.6 962.3 L1228.3 958.1 L1230.9 954.0 L1233.6 950.0 L1236.3 946.0 L1239.0 942.1 L1241.7 938.2 L1244.5 934.4 L1247.3 930.6 L1250.0 926.9 L1252.8 923.3 L1255.6 919.7 L1258.5 916.2 L1261.3 912.8 L1264.1 909.5 L1267.0 906.2 L1269.9 903.1 L1272.8 900.0 L1275.7 897.0 L1278.6 894.0 L1281.6 891.2 L1284.5 888.5 L1287.5 885.9 L1290.5 883.3 L1293.5 880.9 L1296.5 878.6 L1299.5 876.3 L1302.6 874.2 L1305.6 872.2 L1308.7 870.3 L1311.8 868.5 L1314.9 866.8 L1318.0 865.3 L1321.1 863.8 L1324.3 862.4 L1327.4 861.2 L1330.6 860.1 L1333.8 859.1 L1337.0 858.2 L1340.2 857.5 L1343.4 856.8 L1346.6 856.3 L1349.9 855.9 L1353.1 855.6 L1356.4 855.5 L1359.7 855.4 L1363.0 855.5 L1366.3 855.8 L1369.6 856.1 L1373.0 856.6 L1376.3 857.2 L1379.7 858.0 L1383.1 858.8 L1386.5 859.9 L1389.9 861.0 L1393.3 862.3 L1396.7 863.8 L1400.1 865.4 L1403.6 867.1 L1407.1 869.0 L1410.5 871.0 L1414.0 873.2 L1417.5 875.5 L1421.0 878.0 L1424.6 880.7 L1428.1 883.5 L1431.7 886.5 L1435.2 889.6 L1438.8 892.9 L1442.4 896.4 L1446.0 900.1 L1449.6 903.9 L1453.2 907.9 L1456.9 912.1 L1460.5 916.4 L1464.2 921.0 L1467.8 925.7 L1471.5 930.6 L1475.2 935.7 L1478.9 941.0 L1482.6 946.5 L1486.4 952.2 L1490.1 958.1 L1493.9 964.2 L1497.6 970.5 L1501.4 977.0 L1505.2 983.7 L1509.0 990.6 L1512.8 997.8 L1516.6 1005.1 L1520.4 1012.7 L1524.3 1020.5 L1528.1 1028.5 L1532.0 1036.8 L1535.9 1045.2 L1539.8 1054.0 L1543.7 1062.9 L1547.6 1072.1 L1551.5 1081.5 L1555.4 1091.2 L1559.4 1101.1 L1563.3 1111.2 L1567.3 1121.6 L1571.3 1132.3 L1575.3 1143.2 L1579.2 1154.3 L1583.3 1165.8 L1587.3 1177.5 L1591.3 1189.4 L1595.3 1201.6 L1599.4 1214.1 L1603.5 1226.9 L1607.5 1239.9 L1611.6 1253.2 L1615.7 1266.8 L1619.8 1280.7 L1623.9 1294.8 L1628.0 1309.3 L1632.2 1324.0" stroke="#238443" stroke-width="7" fill="none" stroke-linejoin="round" stroke-dasharray="6.5 3.8"/>
<path d="M1083.0 790.8 L1083.2 791.4 L1083.6 792.7 L1084.0 794.2 L1084.6 796.0 L1085.2 797.9 L1085.9 800.0 L1086.7 802.1 L1087.5 804.4 L1088.4 806.6 L1089.3 809.0 L1090.2 811.3 L1091.2 813.7 L1092.3 816.1 L1093.4 818.5 L1094.5 820.9 L1095.7 823.3 L1096.9 825.7 L1098.2 828.1 L1099.4 830.4 L1100.7 832.8 L1102.1 835.2 L1103.5 837.6 L1104.9 839.9 L1106.3 842.2 L1107.8 844.6 L1109.3 846.9 L1110.8 849.2 L1112.4 851.5 L1114.0 853.7 L1115.6 856.0 L1117.2 858.3 L1118.9 860.5 L1120.6 862.7 L1122.3 865.0 L1124.1 867.2 L1125.9 869.4 L1127.7 871.6 L1129.5 873.7 L1131.3 875.9 L1133.2 878.1 L1135.1 880.2 L1137.0 882.4 L1138.9 884.5 L1140.9 886.7 L1142.9 888.8 L1144.9 891.0 L1146.9 893.1 L1149.0 895.2 L1151.1 897.4 L1153.2 899.5 L1155.3 901.7 L1157.4 903.8 L1159.6 906.0 L1161.7 908.1 L1163.9 910.3 L1166.2 912.5 L1168.4 914.7 L1170.6 916.9 L1172.9 919.2 L1175.2 921.4 L1177.5 923.7 L1179.9 925.9 L1182.2 928.2 L1184.6 930.5 L1187.0 932.8 L1189.4 935.1 L1191.8 937.5 L1194.3 939.8 L1196.7 942.2 L1199.2 944.6 L1201.7 947.0 L1204.2 949.4 L1206.8 951.8 L1209.3 954.2 L1211.9 956.7 L1214.5 959.2 L1217.1 961.6 L1219.7 964.1 L1222.3 966.6 L1225.0 969.1 L1227.6 971.6 L1230.3 974.2 L1233.0 976.7 L1235.8 979.3 L1238.5 981.8 L1241.2 984.4 L1244.0 986.9 L1246.8 989.5 L1249.6 992.1 L1252.4 994.7 L1255.2 997.2 L1258.1 999.8 L1261.0 1002.4 L1263.8 1005.0 L1266.7 1007.6 L1269.6 1010.2 L1272.6 1012.8 L1275.5 1015.4 L1278.5 1017.9 L1281.4 1020.5 L1284.4 1023.1 L1287.4 1025.7 L1290.4 1028.2 L1293.4 1030.8 L1296.5 1033.3 L1299.5 1035.9 L1302.6 1038.4 L1305.7 1041.0 L1308.8 1043.5 L1311.9 1046.1 L1315.0 1048.6 L1318.2 1051.1 L1321.3 1053.7 L1324.5 1056.2 L1327.7 1058.8 L1330.9 1061.3 L1334.1 1063.8 L1337.3 1066.4 L1340.6 1068.9 L1343.8 1071.5 L1347.1 1074.0 L1350.4 1076.6 L1353.7 1079.2 L1357.0 1081.7 L1360.3 1084.3 L1363.6 1086.9 L1367.0 1089.5 L1370.3 1092.0 L1373.7 1094.6 L1377.1 1097.3 L1380.5 1099.9 L1383.9 1102.5 L1387.3 1105.1 L1390.8 1107.8 L1394.2 1110.5 L1397.7 1113.1 L1401.2 1115.8 L1404.7 1118.5 L1408.2 1121.2 L1411.7 1123.9 L1415.2 1126.7 L1418.8 1129.4 L1422.3 1132.2 L1425.9 1134.9 L1429.5 1137.7 L1433.0 1140.5 L1436.6 1143.3 L1440.3 1146.1 L1443.9 1148.9 L1447.5 1151.7 L1451.2 1154.5 L1454.8 1157.3 L1458.5 1160.2 L1462.2 1163.0 L1465.9 1165.9 L1469.6 1168.8 L1473.3 1171.6 L1477.1 1174.5 L1480.8 1177.4 L1484.6 1180.3 L1488.3 1183.2 L1492.1 1186.1 L1495.9 1189.0 L1499.7 1192.0 L1503.5 1194.9 L1507.4 1197.8 L1511.2 1200.8 L1515.1 1203.7 L1518.9 1206.7 L1522.8 1209.6 L1526.7 1212.6 L1530.6 1215.6 L1534.5 1218.5 L1538.4 1221.5 L1542.4 1224.5 L1546.3 1227.5 L1550.2 1230.5 L1554.2 1233.5 L1558.2 1236.6 L1562.2 1239.6 L1566.2 1242.6 L1570.2 1245.7 L1574.2 1248.8 L1578.2 1251.8 L1582.3 1254.9 L1586.3 1258.0 L1590.4 1261.2 L1594.5 1264.3 L1598.6 1267.5 L1602.7 1270.8 L1606.8 1274.0 L1610.9 1277.3 L1615.0 1280.7 L1619.2 1284.2 L1623.3 1287.7 L1627.5 1291.3 L1631.6 1295.1 L1635.8 1299.1 L1640.0 1303.2" stroke="#253494" stroke-width="7" fill="none" stroke-linejoin="round"/>
<path d="M1083.0 1324.0 L1083.2 1323.2 L1083.6 1321.7 L1084.0 1319.8 L1084.6 1317.6 L1085.2 1315.1 L1085.9 1312.3 L1086.7 1309.3 L1087.5 1306.2 L1088.4 1302.8 L1089.3 1299.3 L1090.2 1295.6 L1091.2 1291.8 L1092.3 1287.9 L1093.4 1283.8 L1094.5 1279.6 L1095.7 1275.4 L1096.9 1271.0 L1098.2 1266.5 L1099.4 1262.0 L1100.7 1257.3 L1102.1 1252.6 L1103.5 1247.8 L1104.9 1242.9 L1106.3 1238.0 L1107.8 1233.0 L1109.3 1228.0 L1110.8 1222.9 L1112.4 1217.7 L1114.0 1212.5 L1115.6 1207.3 L1117.2 1202.0 L1118.9 1196.6 L1120.6 1191.3 L1122.3 1185.9 L1124.1 1180.4 L1125.9 1174.9 L1127.7 1169.4 L1129.5 1163.9 L1131.3 1158.3 L1133.2 1152.8 L1135.1 1147.2 L1137.0 1141.5 L1138.9 1135.9 L1140.9 1130.2 L1142.9 1124.6 L1144.9 1118.9 L1146.9 1113.2 L1149.0 1107.6 L1151.1 1101.9 L1153.2 1096.2 L1155.3 1090.5 L1157.4 1084.8 L1159.6 1079.2 L1161.7 1073.5 L1163.9 1067.9 L1166.2 1062.2 L1168.4 1056.6 L1170.6 1051.1 L1172.9 1045.5 L1175.2 1040.0 L1177.5 1034.5 L1179.9 1029.0 L1182.2 1023.6 L1184.6 1018.2 L1187.0 1012.8 L1189.4 1007.5 L1191.8 1002.2 L1194.3 997.0 L1196.7 991.8 L1199.2 986.7 L1201.7 981.6 L1204.2 976.6 L1206.8 971.6 L1209.3 966.7 L1211.9 961.9 L1214.5 957.1 L1217.1 952.3 L1219.7 947.7 L1222.3 943.1 L1225.0 938.5 L1227.6 934.1 L1230.3 929.7 L1233.0 925.4 L1235.8 921.1 L1238.5 916.9 L1241.2 912.8 L1244.0 908.8 L1246.8 904.8 L1249.6 901.0 L1252.4 897.1 L1255.2 893.4 L1258.1 889.8 L1261.0 886.2 L1263.8 882.7 L1266.7 879.3 L1269.6 875.9 L1272.6 872.7 L1275.5 869.5 L1278.5 866.4 L1281.4 863.3 L1284.4 860.4 L1287.4 857.5 L1290.4 854.7 L1293.4 851.9 L1296.5 849.3 L1299.5 846.7 L1302.6 844.2 L1305.7 841.8 L1308.8 839.5 L1311.9 837.3 L1315.0 835.1 L1318.2 833.1 L1321.3 831.1 L1324.5 829.2 L1327.7 827.5 L1330.9 825.8 L1334.1 824.2 L1337.3 822.8 L1340.6 821.4 L1343.8 820.1 L1347.1 819.0 L1350.4 817.9 L1353.7 817.0 L1357.0 816.2 L1360.3 815.5 L1363.6 814.9 L1367.0 814.4 L1370.3 814.1 L1373.7 813.9 L1377.1 813.8 L1380.5 813.9 L1383.9 814.1 L1387.3 814.4 L1390.8 814.9 L1394.2 815.6 L1397.7 816.3 L1401.2 817.3 L1404.7 818.4 L1408.2 819.6 L1411.7 821.0 L1415.2 822.5 L1418.8 824.2 L1422.3 826.0 L1425.9 828.0 L1429.5 830.2 L1433.0 832.5 L1436.6 835.0 L1440.3 837.7 L1443.9 840.5 L1447.5 843.5 L1451.2 846.6 L1454.8 849.9 L1458.5 853.4 L1462.2 857.1 L1465.9 860.9 L1469.6 864.9 L1473.3 869.0 L1477.1 873.4 L1480.8 877.9 L1484.6 882.6 L1488.3 887.4 L1492.1 892.5 L1495.9 897.7 L1499.7 903.1 L1503.5 908.6 L1507.4 914.4 L1511.2 920.3 L1515.1 926.4 L1518.9 932.7 L1522.8 939.2 L1526.7 945.8 L1530.6 952.7 L1534.5 959.7 L1538.4 967.0 L1542.4 974.4 L1546.3 982.0 L1550.2 989.9 L1554.2 997.9 L1558.2 1006.1 L1562.2 1014.6 L1566.2 1023.2 L1570.2 1032.1 L1574.2 1041.2 L1578.2 1050.6 L1582.3 1060.2 L1586.3 1070.0 L1590.4 1080.1 L1594.5 1090.5 L1598.6 1101.3 L1602.7 1112.3 L1606.8 1123.7 L1610.9 1135.5 L1615.0 1147.8 L1619.2 1160.6 L1623.3 1174.0 L1627.5 1188.0 L1631.6 1202.8 L1635.8 1218.5 L1640.0 1235.3" stroke="#253494" stroke-width="7" fill="none" stroke-linejoin="round"/>
<path d="M1083.0 779.4 L1083.2 779.9 L1083.6 780.8 L1084.1 782.0 L1084.6 783.5 L1085.3 785.0 L1086.0 786.8 L1086.8 788.6 L1087.6 790.6 L1088.5 792.7 L1089.5 794.8 L1090.5 797.0 L1091.5 799.3 L1092.6 801.7 L1093.8 804.1 L1094.9 806.5 L1096.2 808.9 L1097.4 811.4 L1098.7 814.0 L1100.0 816.5 L1101.4 819.0 L1102.8 821.6 L1104.2 824.2 L1105.7 826.7 L1107.2 829.3 L1108.7 831.9 L1110.2 834.4 L1111.8 837.0 L1113.4 839.5 L1115.1 842.0 L1116.8 844.5 L1118.5 847.0 L1120.2 849.5 L1122.0 852.0 L1123.7 854.4 L1125.6 856.8 L1127.4 859.2 L1129.3 861.6 L1131.1 864.0 L1133.1 866.3 L1135.0 868.6 L1136.9 870.9 L1138.9 873.2 L1140.9 875.5 L1143.0 877.8 L1145.0 880.0 L1147.1 882.3 L1149.2 884.5 L1151.3 886.8 L1153.5 889.0 L1155.7 891.3 L1157.8 893.6 L1160.1 895.9 L1162.3 898.2 L1164.5 900.5 L1166.8 902.9 L1169.1 905.2 L1171.4 907.6 L1173.8 910.1 L1176.1 912.5 L1178.5 915.0 L1180.9 917.5 L1183.3 920.0 L1185.8 922.6 L1188.2 925.2 L1190.7 927.8 L1193.2 930.4 L1195.7 933.1 L1198.2 935.8 L1200.8 938.5 L1203.4 941.3 L1205.9 944.1 L1208.5 946.9 L1211.2 949.7 L1213.8 952.6 L1216.5 955.5 L1219.2 958.4 L1221.9 961.3 L1224.6 964.3 L1227.3 967.2 L1230.0 970.2 L1232.8 973.2 L1235.6 976.2 L1238.4 979.2 L1241.2 982.3 L1244.0 985.3 L1246.9 988.3 L1249.8 991.4 L1252.6 994.4 L1255.5 997.4 L1258.5 1000.5 L1261.4 1003.5 L1264.3 1006.5 L1267.3 1009.5 L1270.3 1012.5 L1273.3 1015.4 L1276.3 1018.4 L1279.3 1021.3 L1282.4 1024.2 L1285.4 1027.1 L1288.5 1029.9 L1291.6 1032.7 L1294.7 1035.5 L1297.8 1038.3 L1301.0 1041.0 L1304.1 1043.7 L1307.3 1046.4 L1310.4 1049.1 L1313.6 1051.8 L1316.9 1054.4 L1320.1 1057.1 L1323.3 1059.7 L1326.6 1062.3 L1329.8 1064.9 L1333.1 1067.5 L1336.4 1070.1 L1339.7 1072.6 L1343.1 1075.2 L1346.4 1077.8 L1349.8 1080.3 L1353.1 1082.9 L1356.5 1085.5 L1359.9 1088.1 L1363.3 1090.6 L1366.8 1093.2 L1370.2 1095.8 L1373.6 1098.4 L1377.1 1101.1 L1380.6 1103.7 L1384.1 1106.4 L1387.6 1109.0 L1391.1 1111.7 L1394.7 1114.4 L1398.2 1117.2 L1401.8 1119.9 L1405.3 1122.7 L1408.9 1125.4 L1412.5 1128.2 L1416.1 1131.0 L1419.8 1133.8 L1423.4 1136.7 L1427.1 1139.5 L1430.7 1142.4 L1434.4 1145.2 L1438.1 1148.1 L1441.8 1151.0 L1445.5 1153.9 L1449.3 1156.8 L1453.0 1159.7 L1456.8 1162.6 L1460.5 1165.6 L1464.3 1168.5 L1468.1 1171.5 L1471.9 1174.4 L1475.7 1177.4 L1479.6 1180.4 L1483.4 1183.4 L1487.3 1186.3 L1491.1 1189.3 L1495.0 1192.3 L1498.9 1195.3 L1502.8 1198.3 L1506.7 1201.3 L1510.7 1204.3 L1514.6 1207.3 L1518.5 1210.3 L1522.5 1213.3 L1526.5 1216.3 L1530.5 1219.4 L1534.5 1222.4 L1538.5 1225.4 L1542.5 1228.4 L1546.6 1231.5 L1550.6 1234.5 L1554.7 1237.5 L1558.7 1240.6 L1562.8 1243.6 L1566.9 1246.7 L1571.0 1249.8 L1575.1 1252.8 L1579.3 1255.9 L1583.4 1259.0 L1587.6 1262.2 L1591.7 1265.3 L1595.9 1268.5 L1600.1 1271.6 L1604.3 1274.9 L1608.5 1278.1 L1612.7 1281.4 L1617.0 1284.8 L1621.2 1288.2 L1625.5 1291.6 L1629.7 1295.2 L1634.0 1298.8 L1638.3 1302.6 L1642.6 1306.5 L1646.9 1310.6 L1651.2 1314.8 L1655.5 1319.3 L1659.9 1324.0" stroke="#253494" stroke-width="7" fill="none" stroke-linejoin="round" stroke-dasharray="6.5 3.8"/>
<path d="M1083.0 1324.0 L1083.2 1323.1 L1083.6 1321.6 L1084.1 1319.6 L1084.6 1317.2 L1085.3 1314.5 L1086.0 1311.6 L1086.8 1308.4 L1087.6 1305.0 L1088.5 1301.4 L1089.5 1297.7 L1090.5 1293.8 L1091.5 1289.7 L1092.6 1285.5 L1093.8 1281.2 L1094.9 1276.7 L1096.2 1272.2 L1097.4 1267.5 L1098.7 1262.8 L1100.0 1257.9 L1101.4 1253.0 L1102.8 1248.0 L1104.2 1242.9 L1105.7 1237.8 L1107.2 1232.6 L1108.7 1227.3 L1110.2 1222.0 L1111.8 1216.6 L1113.4 1211.1 L1115.1 1205.7 L1116.8 1200.1 L1118.5 1194.6 L1120.2 1189.0 L1122.0 1183.3 L1123.7 1177.6 L1125.6 1171.9 L1127.4 1166.2 L1129.3 1160.4 L1131.1 1154.6 L1133.1 1148.8 L1135.0 1142.9 L1136.9 1137.0 L1138.9 1131.1 L1140.9 1125.2 L1143.0 1119.3 L1145.0 1113.3 L1147.1 1107.3 L1149.2 1101.4 L1151.3 1095.4 L1153.5 1089.5 L1155.7 1083.5 L1157.8 1077.5 L1160.1 1071.6 L1162.3 1065.7 L1164.5 1059.8 L1166.8 1053.9 L1169.1 1048.1 L1171.4 1042.3 L1173.8 1036.5 L1176.1 1030.8 L1178.5 1025.1 L1180.9 1019.5 L1183.3 1013.9 L1185.8 1008.4 L1188.2 1003.0 L1190.7 997.6 L1193.2 992.2 L1195.7 987.0 L1198.2 981.8 L1200.8 976.7 L1203.4 971.6 L1205.9 966.7 L1208.5 961.8 L1211.2 957.0 L1213.8 952.3 L1216.5 947.7 L1219.2 943.2 L1221.9 938.8 L1224.6 934.4 L1227.3 930.2 L1230.0 926.0 L1232.8 922.0 L1235.6 918.0 L1238.4 914.2 L1241.2 910.4 L1244.0 906.7 L1246.9 903.1 L1249.8 899.6 L1252.6 896.2 L1255.5 892.9 L1258.5 889.7 L1261.4 886.6 L1264.3 883.5 L1267.3 880.6 L1270.3 877.7 L1273.3 874.8 L1276.3 872.1 L1279.3 869.4 L1282.4 866.7 L1285.4 864.1 L1288.5 861.6 L1291.6 859.2 L1294.7 856.8 L1297.8 854.4 L1301.0 852.1 L1304.1 849.9 L1307.3 847.8 L1310.4 845.7 L1313.6 843.7 L1316.9 841.7 L1320.1 839.8 L1323.3 838.0 L1326.6 836.3 L1329.8 834.7 L1333.1 833.1 L1336.4 831.7 L1339.7 830.3 L1343.1 829.0 L1346.4 827.8 L1349.8 826.7 L1353.1 825.8 L1356.5 824.9 L1359.9 824.2 L1363.3 823.5 L1366.8 823.0 L1370.2 822.7 L1373.6 822.5 L1377.1 822.4 L1380.6 822.5 L1384.1 822.7 L1387.6 823.1 L1391.1 823.6 L1394.7 824.4 L1398.2 825.2 L1401.8 826.3 L1405.3 827.5 L1408.9 828.9 L1412.5 830.4 L1416.1 832.2 L1419.8 834.1 L1423.4 836.1 L1427.1 838.4 L1430.7 840.8 L1434.4 843.4 L1438.1 846.1 L1441.8 849.1 L1445.5 852.2 L1449.3 855.5 L1453.0 859.0 L1456.8 862.6 L1460.5 866.5 L1464.3 870.5 L1468.1 874.7 L1471.9 879.0 L1475.7 883.6 L1479.6 888.3 L1483.4 893.2 L1487.3 898.3 L1491.1 903.5 L1495.0 909.0 L1498.9 914.6 L1502.8 920.3 L1506.7 926.3 L1510.7 932.4 L1514.6 938.7 L1518.5 945.2 L1522.5 951.9 L1526.5 958.7 L1530.5 965.8 L1534.5 973.0 L1538.5 980.4 L1542.5 988.0 L1546.6 995.8 L1550.6 1003.8 L1554.7 1012.0 L1558.7 1020.4 L1562.8 1029.0 L1566.9 1037.8 L1571.0 1046.8 L1575.1 1056.1 L1579.3 1065.6 L1583.4 1075.3 L1587.6 1085.3 L1591.7 1095.5 L1595.9 1106.1 L1600.1 1116.9 L1604.3 1128.1 L1608.5 1139.6 L1612.7 1151.4 L1617.0 1163.7 L1621.2 1176.4 L1625.5 1189.7 L1629.7 1203.5 L1634.0 1217.9 L1638.3 1233.1 L1642.6 1249.1 L1646.9 1266.0 L1651.2 1284.0 L1655.5 1303.3 L1659.9 1324.0" stroke="#253494" stroke-width="7" fill="none" stroke-linejoin="round" stroke-dasharray="6.5 3.8"/>
<text transform="translate(-2,38) scale(0.965,1)" class="pl">(<tspan font-weight="bold">a</tspan>)</text>
<text transform="translate(942,38.5) scale(0.965,1)" class="pl">(<tspan font-weight="bold">b</tspan>)</text>
<text transform="translate(-0.2,750) scale(0.965,1)" class="pl">(<tspan font-weight="bold">c</tspan>)</text>
<text transform="translate(941.6,750) scale(0.965,1)" class="pl">(<tspan font-weight="bold">d</tspan>)</text>
<path d="M400 84.0H502" stroke="#fdcc8a" stroke-width="7" fill="none"/>
<text transform="translate(509,92.2) scale(1.094,1)" class="lg">5<tspan dx="9">mL</tspan><tspan dx="5">min</tspan><tspan class="lsup" dy="-15">−1</tspan></text>
<path d="M400 126.2H502" stroke="#fc8d59" stroke-width="7" fill="none"/>
<text transform="translate(509.5,134.4) scale(1.094,1)" class="lg">12<tspan dx="9">mL</tspan><tspan dx="5">min</tspan><tspan class="lsup" dy="-15">−1</tspan></text>
<path d="M400 168.4H502" stroke="#e34a33" stroke-width="7" fill="none"/>
<text transform="translate(509.5,176.6) scale(1.094,1)" class="lg">30<tspan dx="9">mL</tspan><tspan dx="5">min</tspan><tspan class="lsup" dy="-15">−1</tspan></text>
<path d="M400 210.6H502" stroke="#b30000" stroke-width="7" fill="none"/>
<text transform="translate(509.5,218.8) scale(1.094,1)" class="lg">50<tspan dx="9">mL</tspan><tspan dx="5">min</tspan><tspan class="lsup" dy="-15">−1</tspan></text>
<path d="M400 252.8H502" stroke="#000" stroke-width="7" stroke-dasharray="6.5 3.8" fill="none"/>
<text transform="translate(510,261.0) scale(1.094,1)" class="lg">Experimental</text>
<text transform="translate(418,806.6) scale(1.07,1)" class="lg">(SOC)</text>
<path d="M535.2 793.5H636.9" stroke="#cb181d" stroke-width="7" fill="none"/>
<text x="644.5" y="802.0" class="lg">20<tspan dx="5">%</tspan></text>
<path d="M535.2 835.5H636.9" stroke="#d95f0e" stroke-width="7" fill="none"/>
<text x="644.5" y="844.0" class="lg">40<tspan dx="5">%</tspan></text>
<path d="M535.2 877.4H636.9" stroke="#238443" stroke-width="7" fill="none"/>
<text x="644.5" y="885.9" class="lg">60<tspan dx="5">%</tspan></text>
<path d="M535.2 919.4H636.9" stroke="#253494" stroke-width="7" fill="none"/>
<text x="644.5" y="927.9" class="lg">80<tspan dx="5">%</tspan></text>
<path d="M359.8 511.7H271.2" stroke="#000" stroke-width="5.6" fill="none"/>
<path d="M244.2 511.7L279.2 498.6L270.2 511.7L279.2 524.9Z" fill="#000" stroke="#000" stroke-width="3.5" stroke-linejoin="round"/>
<path d="M489 350.3H577.3" stroke="#000" stroke-width="5.6" fill="none"/>
<path d="M604.8 350.3L570.8 337.4L578.3 350.3L570.8 363.2Z" fill="#000" stroke="#000" stroke-width="3.5" stroke-linejoin="round"/>
<path d="M1523.2 243.4H1612.2" stroke="#000" stroke-width="5.6" fill="none"/>
<path d="M1638.8 243.4L1604.8 230.8L1613.2 243.4L1604.8 256.1Z" fill="#000" stroke="#000" stroke-width="3.5" stroke-linejoin="round"/>
<path d="M1336.8 512.3H1247.8" stroke="#000" stroke-width="5.6" fill="none"/>
<path d="M1221.2 512.3L1256.0 500.0L1246.8 512.3L1256.0 524.5Z" fill="#000" stroke="#000" stroke-width="3.5" stroke-linejoin="round"/>
<path d="M376.5 1221.5H285.6" stroke="#000" stroke-width="1.8" fill="none"/>
<path d="M261.4 1221.5L295.6 1209.2L284.6 1221.5L295.6 1233.8Z" fill="#000" stroke="#000" stroke-width="1.2" stroke-linejoin="round"/>
<path d="M577.3 1006.4H667.9000000000001" stroke="#000" stroke-width="1.8" fill="none"/>
<path d="M692.5 1006.4L658.3 993.8L668.9 1006.4L658.3 1019.0Z" fill="#000" stroke="#000" stroke-width="1.2" stroke-linejoin="round"/>
<path d="M1364.2 1221.5H1273.6" stroke="#000" stroke-width="1.8" fill="none"/>
<path d="M1249.4 1221.5L1282.9 1209.2L1272.6 1221.5L1282.9 1233.8Z" fill="#000" stroke="#000" stroke-width="1.2" stroke-linejoin="round"/>
<path d="M1536.5 898.8H1627.1000000000001" stroke="#000" stroke-width="1.8" fill="none"/>
<path d="M1651.3 898.8L1617.5 886.3L1628.1 898.8L1617.5 911.2Z" fill="#000" stroke="#000" stroke-width="1.2" stroke-linejoin="round"/>
</svg>
</body></html>
